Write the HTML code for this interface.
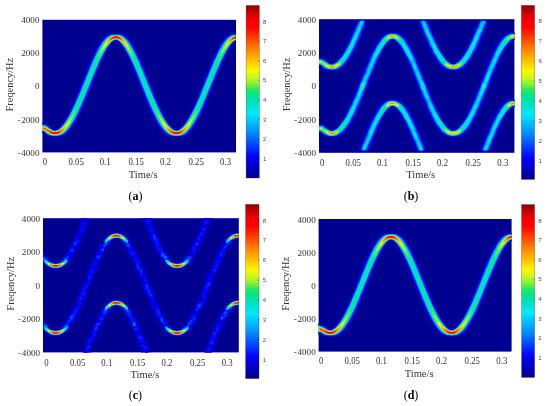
<!DOCTYPE html><html><head><meta charset="utf-8"><title>Figure</title><style>html,body{margin:0;padding:0;background:#fff}svg{display:block}text{font-family:"Liberation Serif",serif;fill:#333}.cb{font-family:"Liberation Sans",sans-serif;font-size:6px;fill:#4a4a4a}.tk{font-size:8.2px}.tx{font-size:8.8px}.ax{font-size:10.4px}.at{font-size:10.5px}.cap{font-size:12px;fill:#000}</style></head><body>
<svg width="550" height="406" viewBox="0 0 550 406">
<defs><linearGradient id="jet" x1="0" y1="0" x2="0" y2="1"><stop offset="0" stop-color="#8c0000"/><stop offset="0.04545" stop-color="#d00000"/><stop offset="0.09091" stop-color="#fa0000"/><stop offset="0.125" stop-color="#ff0000"/><stop offset="0.25" stop-color="#ff8000"/><stop offset="0.375" stop-color="#fff500"/><stop offset="0.4136" stop-color="#cdf819"/><stop offset="0.4568" stop-color="#7df037"/><stop offset="0.4852" stop-color="#28e862"/><stop offset="0.5136" stop-color="#05e682"/><stop offset="0.55" stop-color="#00e2ac"/><stop offset="0.5852" stop-color="#00e4d4"/><stop offset="0.625" stop-color="#00ebfa"/><stop offset="0.75" stop-color="#0080ff"/><stop offset="0.875" stop-color="#0000ff"/><stop offset="1" stop-color="#00008c"/></linearGradient></defs>
<rect width="550" height="406" fill="#fff"/>
<g>
<rect x="42.4" y="19.8" width="193.6" height="132.6" fill="#000090"/>
<g transform="scale(.1)">
<path fill="#0000b2" d="M424 1226l42 13 13 10 39 33 18 10 10 3 13-1 13-5 14-10 20-20 20-26 26-43 27-49 27-55 53-124 105-269 43-104 46-99 20-37 21-33 21-30 20-23 20-17 20-12 14-5 16-2 54 3 50-3 20 3 13 5 17 9 13 11 15 14 17 20 33 50 34 63 40 87 39 96 119 301 40 92 33 69 40 69 20 29 17 20 19 17 13 6 14 3 14-3 13-6 13-11 17-19 13-17 34-52 36-71 30-65 33-78 109-277 39-97 41-89 40-74 20-30 20-26 18-19 20-15 17-9 20-5 20-1 28 2 0 80-12 6-10 10-26 34-30 50-30 60-57 132-129 328-29 70-30 63-37 70-21 33-19 27-16 20-19 19-20 16-16 10-20 7-24 4-50-1-46 1-27-3-27-12-20-13-23-22-25-30-27-40-23-40-27-53-27-56-52-127-112-286-34-79-30-65-30-56-30-45-23-25-11-7-12-3-10 1-10 5-12 10-15 17-27 39-30 55-26 56-34 77-128 326-56 133-30 60-27 50-30 47-27 33-21 21-20 15-20 10-17 5-23 2-44-1-36 1-14-1-13-3-10-4-13-9-30-34-4 1-6 16-2 0z"/>
<path fill="#0000cc" d="M424 1230l32 10 10 5 50 41 17 10 13 3 13-1 15-6 14-10 18-17 23-29 27-42 26-48 27-54 57-129 108-274 40-96 44-93 19-37 20-33 24-34 21-23 20-18 20-11 17-6 13-1 47 1 43-1 17 2 16 6 17 9 13 11 16 15 17 20 29 43 37 67 37 79 43 104 118 297 40 91 37 74 23 42 20 31 20 27 19 21 16 13 15 8 17 2 13-3 16-10 11-10 30-34 33-51 36-69 30-64 37-85 109-274 42-103 40-86 37-67 17-27 20-26 19-20 19-16 17-10 20-6 17-2 28 2 0 71-9 4-12 10-27 32-30 48-34 65-26 58-30 71-135 339-34 77-27 56-40 73-36 54-18 20-17 17-20 15-16 9-20 7-24 3-80 0-26-4-24-9-23-16-24-22-28-34-26-40-23-40-24-46-26-57-51-120-115-289-33-78-30-64-33-61-30-44-14-16-12-11-10-6-11-4-10 0-10 4-14 10-13 13-30 41-33 58-30 62-33 76-128 323-58 133-29 60-30 53-26 40-27 33-19 20-20 15-20 11-16 6-27 3-80-1-17-3-13-5-13-9-27-30-3-2-4 1-3 4-3 10-2 0z"/>
<path fill="#0000e5" d="M424 1328l0-95 38 14 10 6 49 39 14 7 14 3 17-3 13-7 9-6 21-20 23-30 20-30 27-46 23-45 27-56 50-117 125-313 37-83 33-66 19-34 20-30 18-23 19-20 19-16 16-9 20-6 17-2 77 0 13 2 17 5 20 11 16 14 20 21 18 23 18 27 23 40 44 90 42 100 95 239 40 97 40 88 37 72 23 39 20 30 20 25 19 19 18 13 13 5 17 1 15-5 15-10 14-14 33-39 30-47 36-69 33-71 34-78 108-272 41-97 37-79 35-67 19-30 20-27 20-21 20-17 16-10 20-6 17-2 25 0 0 66-8 4-17 13-27 32-30 48-33 63-30 65-33 79-132 329-29 67-31 63-36 67-36 53-17 20-19 19-17 14-16 10-24 9-23 3-70 0-30-4-23-10-24-15-26-26-24-30-25-37-23-40-24-46-27-57-49-116-118-296-34-77-30-63-33-60-30-44-14-17-15-13-11-7-13-3-10 2-11 5-13 10-16 17-30 42-37 65-30 62-33 77-125 313-50 117-28 56-26 50-23 37-26 36-27 30-25 21-27 14-26 6-67 2-27-3-16-5-17-10-33-33-4 1-6 13z"/>
<path fill="#0000ff" d="M424 1325l0-89 15 7 23 7 56 42 14 8 17 4 10-1 10-3 18-11 22-20 27-34 23-35 23-40 24-45 26-56 50-116 129-320 36-80 34-67 19-33 20-30 16-20 19-20 17-13 17-10 20-6 20-2 66 1 17 2 17 6 16 10 20 17 17 18 21 27 17 27 21 36 42 87 44 103 92 229 40 97 40 89 36 72 24 40 20 30 20 26 22 23 18 14 16 6 17 1 13-4 11-7 17-13 16-17 16-20 37-57 36-68 34-70 33-78 108-270 41-96 40-87 36-66 20-30 18-24 18-20 19-15 17-10 16-6 20-3 22 0 0 62-12 6-12 10-14 15-17 21-30 47-33 63-30 65-34 78-131 327-34 77-29 60-37 66-34 50-17 20-18 17-16 13-17 10-20 8-26 5-64 0-30-5-23-9-27-19-24-23-24-30-24-37-23-40-49-100-47-110-122-303-33-76-30-63-34-60-33-48-15-16-15-13-13-7-10-2-11 2-14 7-12 10-13 13-17 22-17 25-33 58-33 68-34 76-124 311-50 116-28 57-26 50-27 43-24 33-24 27-26 22-27 14-27 6-60 1-26-2-17-5-17-9-13-11-23-23-4 1-6 12z"/>
<path fill="#001cff" d="M424 1323l0-85 15 7 13 3 14 6 39 32 21 13 10 4 13 2 18-3 23-13 22-21 24-29 26-40 24-40 50-101 50-115 127-317 38-83 34-67 35-56 21-27 18-18 16-14 20-10 20-6 17-1 63 1 17 3 17 7 18 11 18 16 19 21 17 23 19 30 20 37 41 83 43 100 91 229 40 96 40 89 40 78 24 39 20 29 23 30 20 20 20 13 13 5 17 1 16-6 16-10 15-13 33-40 33-52 37-68 33-70 33-77 109-270 40-96 39-83 34-64 19-30 20-26 18-20 18-15 17-11 16-6 17-3 25-1 0 58-9 4-16 12-14 15-16 20-30 46-37 69-30 64-33 77-135 334-34 76-29 60-36 63-35 50-32 34-15 12-17 10-23 9-27 3-57 0-30-5-23-10-23-17-26-26-24-30-22-33-23-40-24-46-27-57-50-117-118-293-33-76-30-61-37-66-33-47-16-16-12-10-12-7-13-3-14 2-13 7-12 11-15 15-30 41-36 63-30 61-37 83-125 310-50 116-26 54-26 49-24 40-27 37-27 30-25 20-26 14-27 6-53 2-30-3-20-7-14-7-36-33-4 0-6 12z"/>
<path fill="#0039ff" d="M424 1320l0-81 15 9 13 2 10 5 45 34 16 10 16 6 13 2 18-5 22-13 24-23 23-29 23-34 24-40 26-50 27-56 53-124 125-307 37-83 32-63 18-30 20-30 18-24 19-20 18-13 16-10 20-6 20-1 60 1 17 3 13 6 20 12 17 15 18 20 17 23 19 30 21 37 40 83 43 100 129 317 43 95 40 78 23 39 23 34 22 27 20 20 19 13 17 7 18 0 17-7 15-10 15-13 31-37 36-56 37-68 30-63 37-84 108-269 41-96 38-83 35-64 19-30 17-23 18-20 17-15 17-11 16-7 17-3 25-1 0 55-12 5-13 10-13 14-17 20-33 51-37 68-30 64-33 77-135 333-34 76-30 60-35 63-33 47-18 20-15 15-17 13-16 10-20 8-27 4-53 0-30-5-24-10-26-19-25-26-24-30-24-37-22-40-48-96-45-107-119-294-33-76-34-69-36-65-34-47-16-18-14-11-13-8-13-3-10 2-15 6-13 10-16 17-16 20-20 30-34 58-33 68-33 75-125 309-50 116-26 54-27 49-24 40-26 37-25 28-27 22-23 12-30 7-50 1-30-3-17-5-17-9-36-33-4 1-6 10z"/>
<path fill="#0055ff" d="M424 1318l0-77 12 8 16 3 10 5 59 42 15 7 16 2 10-2 11-4 21-13 24-23 24-30 27-41 23-40 50-100 54-123 125-309 36-80 34-67 20-33 18-27 19-23 17-17 20-15 17-8 20-5 20-1 50 1 17 3 16 7 18 12 19 16 17 20 17 24 38 63 40 83 43 100 92 227 40 96 40 88 40 77 23 39 23 35 20 25 23 23 18 13 16 7 17 2 18-6 17-10 15-13 33-38 36-55 37-67 33-69 37-84 112-277 37-86 37-80 36-67 19-30 18-23 18-20 16-14 17-11 17-7 16-3 22-1 0 53-14 6-13 10-16 17-15 19-34 51-33 62-30 63-33 76-142 349-30 66-30 60-34 60-32 47-17 20-15 15-17 13-16 11-24 9-26 4-50-1-30-5-24-11-23-17-25-25-24-30-19-30-24-40-24-46-25-54-47-110-122-300-37-82-30-61-36-64-33-46-16-16-16-14-13-6-12-3-14 2-13 7-13 10-16 17-18 22-16 25-37 63-30 61-37 82-124 307-50 116-28 57-27 50-22 36-27 37-25 28-26 21-27 13-27 6-46 1-30-4-17-5-17-10-36-31-4 0-6 10z"/>
<path fill="#0072ff" d="M424 1317l0-75 2 0 10 9 16 3 10 4 57 42 13 6 17 3 20-3 23-14 22-20 25-30 27-38 26-45 27-51 27-55 53-123 125-307 36-80 34-67 20-33 18-27 19-23 18-17 20-14 16-8 20-5 20-1 34 0 16 2 17 4 13 6 17 12 16 14 18 20 17 24 38 63 39 80 43 100 92 228 40 96 44 94 40 77 23 38 23 34 24 29 21 20 20 13 15 6 17 0 18-6 16-10 15-13 18-19 16-21 37-55 36-67 34-69 36-84 109-268 39-93 38-80 36-67 17-26 17-24 18-20 16-15 17-11 17-7 16-4 22-1 0 51-12 4-16 13-17 17-20 27-20 29-20 34-40 78-57 129-128 316-33 73-33 67-35 60-33 46-31 32-13 10-17 10-26 10-27 3-43-1-30-6-24-11-22-17-23-23-24-30-22-33-21-37-22-43-27-57-48-110-121-298-33-75-33-68-37-64-17-25-18-23-15-16-16-14-14-7-13-3-14 2-13 7-14 11-17 17-16 20-20 29-36 63-34 68-33 75-125 308-49 113-28 57-26 50-23 36-24 34-27 30-24 20-24 12-16 5-14 3-43 1-30-3-17-6-16-8-40-33-4 0-6 10z"/>
<path fill="#008cfe" d="M424 1315l0-71 2 0 10 10 13 1 13 5 44 32 16 10 17 7 13 1 19-4 22-14 25-23 25-30 25-37 24-39 27-50 27-55 53-122 132-323 36-80 34-63 20-34 17-23 16-20 18-17 20-14 17-8 16-4 24-1 26 0 20 2 14 4 16 8 17 11 17 16 17 20 17 23 37 63 38 77 43 100 91 226 40 95 43 95 41 77 26 43 23 33 23 27 20 20 20 13 18 7 18 0 18-6 15-11 16-13 16-17 20-25 36-55 37-67 33-69 37-84 112-276 37-87 35-76 34-63 19-30 18-24 18-20 15-13 15-11 17-7 16-4 22-2 0 49-13 5-17 13-16 17-19 23-20 30-20 34-43 83-57 129-128 314-34 77-33 66-33 57-34 46-31 32-13 10-17 10-27 9-26 3-40-1-30-7-24-11-23-18-22-23-23-30-20-30-23-40-48-97-46-106-121-300-34-75-33-67-37-65-20-29-16-21-15-16-16-14-16-8-13-3-14 2-13 7-16 12-16 17-18 22-17 25-37 63-33 65-36 82-125 306-50 117-26 53-27 50-25 40-22 30-27 30-25 20-23 12-30 7-43 1-30-4-14-5-16-9-40-32-4 0-6 9z"/>
<path fill="#00a4fd" d="M424 1313l0-68 2 0 10 11 13 0 13 6 42 30 16 10 16 7 16 2 10-1 12-4 21-14 22-20 25-30 24-33 26-43 27-50 30-61 54-122 130-320 37-80 31-60 20-33 19-27 17-20 18-18 18-12 19-8 17-4 23-1 40 2 17 4 16 9 17 11 14 14 17 20 17 23 38 63 39 80 40 93 91 227 41 96 43 94 40 77 26 43 23 33 25 30 21 20 19 13 16 7 17 2 20-6 16-9 16-14 16-16 19-24 37-53 39-70 34-70 37-83 113-280 37-87 37-79 33-60 34-50 17-20 18-16 16-12 17-7 17-4 18-1 0 46-15 7-17 13-19 20-18 24-20 30-19 32-41 77-57 130-131 320-36 80-30 60-33 57-31 43-31 33-17 12-13 8-23 9-30 4-40-1-27-6-23-11-24-18-23-23-23-30-22-34-21-36-46-93-46-107-122-300-36-80-33-67-38-66-19-27-18-23-16-17-17-13-14-7-12-2-14 2-14 7-17 13-16 17-16 20-20 28-37 63-33 67-37 82-125 306-49 114-27 56-24 43-26 44-22 30-24 26-26 22-26 13-30 7-40 1-30-5-17-6-13-7-38-31-6-1-6 8z"/>
<path fill="#00bbfc" d="M424 1312l0-66 2 0 10 12 13 0 13 5 40 29 17 11 17 7 16 2 14-2 10-4 21-14 25-23 25-30 25-37 26-43 29-53 27-57 52-120 128-313 37-80 33-63 20-33 19-27 16-20 20-18 18-12 18-8 17-3 23-1 24 0 16 3 14 4 16 8 17 13 15 14 16 20 17 23 33 57 40 80 40 93 91 227 43 100 44 96 41 77 24 40 23 33 22 27 24 23 20 14 20 8 17 0 18-5 16-10 16-14 17-16 19-24 38-56 39-70 34-70 37-83 114-280 37-87 37-80 33-60 32-46 18-20 15-14 16-12 14-6 16-5 22-2 0 45-12 4-17 13-20 20-19 23-39 60-42 80-28 60-33 77-131 320-36 80-30 59-33 57-29 40-29 31-13 10-17 10-23 10-27 4-37-1-30-5-23-11-23-17-21-21-24-30-20-30-23-40-47-93-46-107-122-300-36-80-35-70-38-66-19-27-19-23-16-17-17-13-14-7-13-3-14 2-15 8-17 13-16 17-35 47-40 66-35 70-35 80-126 307-49 113-26 53-25 47-22 36-25 34-24 26-26 22-27 13-30 6-36 1-27-4-17-6-16-9-37-30-7-1-6 8z"/>
<path fill="#00d3fb" d="M424 1310l0-62 2 0 6 9 4 2 13 0 13 6 43 31 17 10 17 6 13 1 10-2 14-4 22-15 25-23 25-30 26-37 26-43 27-50 29-60 54-123 129-315 36-78 33-63 18-30 19-27 17-20 18-17 15-11 17-7 17-5 26-1 24 0 20 4 20 8 16 12 19 17 17 20 19 27 18 30 32 60 36 79 128 314 50 113 49 100 25 43 21 33 21 30 20 24 20 20 17 13 18 10 15 3 15 0 17-6 16-10 16-14 19-20 19-23 38-56 39-70 34-70 37-84 115-282 36-84 36-77 31-56 17-27 17-23 16-20 16-14 14-10 17-8 17-4 18-2 0 43-13 5-18 13-20 20-19 23-39 60-44 83-59 134-133 324-33 72-31 63-31 54-32 43-29 31-14 11-16 10-27 9-27 3-36-1-27-7-23-12-20-15-22-22-23-30-20-30-23-40-46-93-43-101-122-299-36-80-35-70-41-70-18-27-19-23-16-17-17-13-16-8-13-3-14 2-16 8-18 14-16 17-19 23-18 27-38 63-33 67-39 86-126 308-49 112-26 54-23 43-23 36-24 34-25 27-26 21-27 13-27 5-36 1-30-5-17-7-13-7-37-30-7-1-6 7z"/>
<path fill="#00ebfa" d="M424 1309l0-60 2 0 6 10 4 2 13-1 13 6 42 30 16 10 19 6 13 2 21-5 23-13 26-24 28-33 28-40 26-43 27-50 29-60 57-130 125-307 37-79 31-60 18-30 19-27 17-20 18-17 17-11 16-7 20-4 24-2 23 2 17 3 16 7 19 12 18 17 19 23 19 27 18 30 31 60 36 80 123 300 49 113 50 103 23 40 25 40 21 30 19 23 20 20 20 17 19 10 15 4 16-1 19-6 16-10 19-17 35-40 38-56 41-74 34-70 40-90 111-274 37-86 34-73 31-56 17-27 17-23 14-17 17-16 16-11 14-7 17-4 18-2 0 41-14 6-18 13-20 20-19 23-19 27-21 33-42 80-30 63-33 77-136 330-33 73-28 57-34 56-30 40-29 30-15 11-14 8-26 9-27 2-33-1-27-7-22-12-21-16-22-24-21-26-22-34-21-36-44-91-44-101-121-298-38-83-35-70-41-70-19-27-19-23-16-17-17-14-17-8-13-2-14 1-16 8-15 12-20 20-19 23-19 27-39 66-36 70-37 84-125 306-50 114-26 53-23 43-23 37-22 30-26 28-27 21-26 12-27 5-33 0-27-4-17-6-13-8-40-31-7-1-6 7z"/>
<path fill="#00e6df" d="M424 1308l0-58 2 0 6 11 4 1 13 0 10 4 43 30 17 10 17 6 16 2 10-1 13-4 22-13 26-24 29-33 25-37 27-43 29-53 31-63 60-137 125-306 33-73 30-57 19-30 18-27 17-20 19-17 17-11 17-7 16-4 24-1 23 2 17 3 16 8 17 11 18 16 17 20 18 27 21 33 29 57 34 73 125 306 50 117 50 100 24 43 23 37 23 33 23 27 20 20 22 16 16 9 17 3 17-1 16-7 16-10 19-17 19-20 19-23 38-57 41-73 36-73 37-84 148-362 34-71 30-56 31-47 17-20 15-14 17-12 13-6 17-5 18-2 0 39-16 7-18 13-20 20-19 23-40 60-44 83-33 70-33 77-132 322-33 73-30 58-29 50-29 40-29 30-13 11-17 9-23 9-27 4-33-2-27-6-22-12-22-16-22-24-21-26-19-30-21-37-46-93-43-100-118-290-41-90-37-73-39-67-21-30-19-23-20-20-15-12-17-8-13-2-14 2-15 7-18 13-17 17-19 23-19 27-42 69-38 74-40 90-125 305-46 107-24 48-25 46-22 37-22 30-24 26-27 21-23 12-30 6-33 0-27-4-17-7-13-7-40-31-7-1-6 7z"/>
<path fill="#00e3c2" d="M424 1306l0-54 2 0 6 10 4 2 13-1 10 4 41 29 19 11 17 6 16 2 14-2 10-3 23-14 26-24 28-33 28-40 29-46 30-57 30-60 57-130 125-307 33-74 30-55 18-30 18-27 18-20 16-16 17-11 17-7 16-4 24-1 23 2 17 4 16 7 17 12 19 17 16 20 16 24 19 31 30 57 33 74 119 291 53 123 51 103 26 47 23 36 23 34 22 26 20 20 20 17 17 10 20 6 16-1 17-5 17-10 19-17 20-20 19-23 39-56 41-74 40-80 40-90 115-282 33-79 33-71 28-51 32-46 15-17 14-13 13-10 15-8 17-5 18-3 0 38-17 8-18 13-20 20-19 23-22 30-21 34-43 79-30 64-36 83-136 331-30 66-30 59-29 50-30 40-27 28-13 10-16 9-24 9-27 3-30-1-27-7-20-11-22-16-22-24-21-26-19-30-19-34-43-87-40-92-126-307-39-87-37-73-20-36-24-37-19-27-19-23-20-20-16-13-15-7-15-3-17 3-13 7-18 13-20 20-19 23-22 30-39 67-38 73-39 87-41 96-84 210-47 108-23 48-24 44-23 37-21 30-25 27-27 21-23 11-30 6-30 0-27-5-13-5-17-9-40-30-7-2z"/>
<path fill="#01e3a2" d="M424 1305l0-52 2 0 6 11 17 0 10 4 45 31 18 10 17 6 17 1 10-2 13-5 25-17 25-23 29-33 25-37 31-50 31-56 32-67 63-143 119-293 30-66 30-58 18-30 17-23 17-20 14-14 17-11 17-8 20-4 20-1 23 1 17 5 16 7 16 12 17 16 17 20 16 24 18 30 30 57 30 66 111 276 61 140 29 60 27 54 27 46 23 37 24 33 19 23 20 20 22 18 20 11 17 4 16 0 17-6 17-10 21-17 20-20 19-23 41-60 44-76 36-74 43-96 40-97 79-196 30-71 30-63 27-50 31-46 15-17 14-13 14-10 15-8 14-4 18-3 0 36-15 6-20 14-19 19-22 26-24 34-21 33-45 83-38 80-36 83-128 317-30 66-27 52-28 48-30 40-26 27-16 12-13 7-23 9-27 3-30-1-25-7-22-11-20-15-22-24-21-26-19-30-21-37-40-82-40-94-115-284-43-96-41-80-43-73-19-27-21-27-20-20-18-14-17-9-16-4-17 3-15 8-18 13-20 20-19 23-19 27-24 37-22 39-41 80-44 97-121 300-43 99-24 48-23 43-21 33-19 27-25 26-25 20-27 13-26 5-30 0-27-5-14-6-16-8-40-30-7-1z"/>
<path fill="#05e682" d="M424 1303l0-48 2 0 6 10 17 1 9 3 44 30 20 11 24 6 20-1 21-9 23-17 24-23 23-27 31-43 32-53 35-64 39-80 67-150 74-194 30-73 30-67 27-51 17-28 17-23 17-20 16-15 16-11 17-7 17-3 20-2 20 2 16 4 17 7 17 12 14 13 17 20 19 27 16 27 27 52 30 66 30 74 68 177 54 123 32 70 34 67 33 60 28 43 23 33 25 30 23 24 20 15 20 11 17 4 16 0 19-7 17-10 20-17 20-20 22-26 44-63 46-84 46-93 54-120 30-73 59-153 36-89 27-57 27-49 30-45 15-17 14-13 14-10 13-7 17-5 15-2 0 35-18 7-20 15-20 20-22 27-24 33-23 37-47 86-46 97-40 90-82 209-36 89-27 59-27 52-26 44-27 36-26 27-27 18-23 9-27 3-30-1-23-6-20-10-22-16-22-24-20-26-36-59-37-75-40-94-72-185-30-74-53-116-47-94-46-76-21-30-22-27-19-20-20-15-17-9-16-3-17 2-17 9-17 13-20 20-20 23-24 34-44 73-49 96-54 117-30 73-75 194-40 93-23 49-20 37-23 37-19 27-25 26-26 20-24 12-30 5-30 0-23-5-17-7-13-8-40-29-7-1z"/>
<path fill="#27e863" d="M948 646l1-8 10-29 36-87 30-59 28-43 25-30 25-20 12-6 14-5 30-3 30 4 24 10 25 20 25 30 26 40 30 58 33 78 17 50 0 2-7-9-68-119-25-37-22-30-23-27-25-22-20-12-10-3-10-1-10 1-10 3-20 11-23 20-24 27-25 33-23 33-27 47-42 74-6 10zM2360 357l0 33-17 6-21 16-22 21-22 27-24 33-24 37-58 103-10 15 0-6 10-30 33-81 30-60 27-44 24-31 22-20 24-13 13-4zM790 1026l-1 9-30 78-27 59-23 46-21 34-21 30-20 24-21 19-20 12-24 9-23 3-27-1-20-4-20-8-20-12-33-25-7-1-8 4 0-46 2 0 6 10 14 1 10 2 53 35 13 7 15 5 15 1 17-3 17-7 17-11 20-17 19-20 22-27 19-26 40-63 59-107zM1525 1026l0-2 7 9 45 83 34 57 27 39 25 34 27 30 27 23 25 14 13 3 10 1 10-1 14-4 24-13 27-23 27-30 23-30 27-40 30-50 51-94 7-8 0 2-7 22-16 44-34 76-30 58-32 50-28 33-15 13-15 10-13 7-16 6-17 3-17 1-16-1-17-3-17-6-13-7-15-10-15-13-28-33-32-50-30-57-33-76-17-43z"/>
<path fill="#78f039" d="M981 573l8-27 26-59 27-47 23-34 22-23 22-15 23-9 27-2 26 3 24 9 20 14 22 23 23 34 25 43 23 51 14 39-1 3-6-7-60-89-23-30-18-20-17-17-19-14-17-9-16-3-17 3-17 8-20 14-18 18-33 40-24 33-41 64-7 8zM2360 358l0 31-15 5-17 11-16 15-20 20-39 50-48 73-10 13 0-7 7-20 23-53 27-50 22-33 20-23 21-17 20-10zM756 1102l-7 23-20 47-20 41-20 35-19 28-19 23-20 20-19 13-20 10-20 5-23 1-23-2-20-5-17-8-50-35-7-1-8 3 0-42 2 0 3 7 3 3 14 0 10 3 50 32 26 12 14 3 13-1 17-4 14-7 16-11 18-16 37-40 36-50 52-81zM1561 1106l1-4 3 4 45 70 30 43 21 27 21 23 21 20 23 17 19 9 20 3 20-4 19-8 23-17 21-20 18-20 24-30 30-43 42-66 6-8 1 4-4 13-13 34-27 55-27 48-27 36-26 27-25 17-25 9-30 3-30-3-25-9-25-17-26-27-27-36-27-47-30-63z"/>
<path fill="#aef525" d="M1004 526l11-32 20-40 20-31 21-27 17-16 22-14 20-6 24-2 23 2 19 6 21 13 18 17 21 27 21 34 20 40 10 29 0 4-7-6-51-68-21-23-17-17-16-13-15-9-13-6-13-2-14 2-13 5-16 10-16 13-35 37-60 77zM2360 358l0 30-12 4-13 8-18 13-14 13-30 34-45 60-10 10 0-7 4-11 20-43 20-36 22-30 19-20 19-13 20-9zM729 1153l0 6-17 41-20 38-20 31-17 23-19 20-16 14-18 10-16 7-20 4-24 0-20-2-16-5-17-8-50-35-7-1-8 3 0-39 2 0 3 7 3 2 14 0 10 3 50 32 23 11 13 3 14 1 13-3 13-5 29-19 31-30 29-33 51-70zM1587 1156l2-3 61 83 24 26 20 20 20 17 18 11 17 6 16 3 17-3 17-6 17-11 20-17 20-20 24-26 62-83 1 3-1 7-10 25-24 46-24 38-24 30-22 20-23 15-23 8-27 2-26-2-24-8-23-15-22-20-24-30-24-38-23-45z"/>
<path fill="#dbf712" d="M1022 496l7-22 16-31 17-27 19-23 19-17 17-10 18-6 20-2 21 2 19 5 20 11 17 14 20 23 17 26 16 31 9 23 0 3-2 1-50-57-33-32-27-17-13-4-10-1-10 1-14 4-13 7-16 12-32 30-49 56-3 1zM2360 359l0 29-18 6-26 19-31 30-47 54-2-1 6-20 13-27 19-29 18-24 17-16 15-10 18-8zM709 1189l0 6-3 9-14 28-16 29-18 25-17 20-14 13-18 13-17 8-16 4-20 3-20-1-17-3-17-6-15-8-48-33-7-1-8 2 0-34 2 0 3 5 3 2 14 0 13 5 43 29 24 11 13 3 13 1 24-4 26-15 26-21 29-30 45-55zM1923 1192l-8 22-20 38-23 34-20 23-20 17-20 11-23 8-24 2-23-2-23-8-21-11-20-17-23-27-20-30-20-37-8-23 2-3 56 67 20 20 19 16 15 11 16 9 17 6 13 1 14-1 16-6 14-7 17-13 19-16 20-20 57-67z"/>
<path fill="#fff500" d="M1037 470l5-16 13-24 17-24 18-20 17-13 15-8 17-4 20-2 20 2 16 5 14 7 17 13 16 17 16 23 14 24 7 20 0 3-7-4-41-43-28-23-24-14-20-4-20 4-24 12-30 25-46 47zM2360 360l0 27-18 7-24 16-22 20-38 38-7 5 1-8 13-28 16-24 16-20 15-13 15-10 16-7zM692 1217l0 4-3 9-13 26-15 23-16 20-13 13-16 14-17 10-17 6-16 3-17 1-17-1-16-4-27-12-50-33-7-2-8 1 0-29 2 0 2 3 4 2 14 0 10 4 46 30 24 11 23 4 20-2 23-11 26-18 26-23 42-45zM1624 1219l1-2 4 2 50 53 32 27 28 16 13 4 13 1 14-1 13-5 27-15 32-27 51-53 3-2 1 2-7 20-18 30-19 27-20 20-17 13-20 10-20 5-20 2-20-2-20-5-20-10-17-13-20-20-20-27-16-28-7-15z"/>
<path fill="#ffdb00" d="M1050 450l5-15 14-22 16-20 15-13 12-9 13-6 17-4 17-1 16 1 17 5 15 7 13 10 14 13 15 20 10 17 7 17-1 4-6-4-41-37-23-16-20-10-16-3-20 4-18 8-27 20-39 35-5 2zM2360 361l0 25-15 5-20 12-21 17-32 29-8 4 1-7 14-26 12-17 15-17 12-10 14-8 14-5zM677 1242l-5 14-10 17-14 19-15 17-15 13-15 10-15 7-12 4-17 2-17 0-16-2-14-4-26-13-44-30-6-2-12-1 0-24 8 3 14 1 13 5 40 26 20 10 23 6 20 0 20-7 24-13 22-18 44-41 5-2zM1638 1242l1-3 6 3 43 40 31 23 23 12 23 4 24-4 26-14 31-24 39-37 7-3-6 17-14 23-18 23-18 17-17 13-17 7-17 5-20 1-20-1-17-5-16-7-18-13-18-17-14-17-16-26z"/>
<path fill="#ffc100" d="M1061 436l5-13 11-17 11-13 14-13 13-9 14-6 13-3 17-1 16 1 14 3 13 6 12 9 14 13 11 13 13 20 3 10-3 2-36-28-24-17-17-7-16-2-17 2-20 8-20 14-33 27-7 3zM2360 361l0 24-12 4-16 8-18 13-36 27-3 0 3-11 10-16 11-14 13-13 13-10 10-5 13-5zM665 1259l-6 13-13 20-26 27-14 10-12 7-15 5-13 3-27 0-27-6-24-12-46-31-18-5 0-16 22 0 12 5 38 24 23 12 20 6 20 0 17-4 20-9 22-16 44-35zM1651 1259l1-2 7 3 39 32 27 18 20 9 20 3 20-4 20-8 30-20 37-31 6-2 1 2-7 15-12 18-15 17-15 13-15 10-16 7-17 4-17 1-20-1-14-4-16-7-15-10-15-13-15-17-11-17z"/>
<path fill="#ffa700" d="M1071 423l4-10 9-13 12-14 13-10 11-6 12-5 13-3 14-1 13 1 13 3 22 11 13 10 12 14 9 13 4 10-3 2-37-25-16-9-17-7-13-1-14 1-16 6-20 11-30 22-7 2zM2360 362l0 22-12 4-13 6-47 31-3-2 4-10 9-13 20-20 20-12zM653 1272l-4 10-12 17-12 13-16 14-11 6-15 7-27 5-27-2-27-9-17-11-36-24-10-5-10-2-2-2-1-7 0-3 3-3 10-2 9 2 64 37 20 7 20 2 17-2 23-9 19-12 38-27zM1663 1272l2-1 4 2 33 24 27 16 20 7 16 2 17-2 23-9 24-14 33-25 3-1 2 1-4 10-11 17-13 13-16 14-11 7-16 6-14 3-17 2-16-1-15-4-15-6-12-7-16-14-13-13-13-20z"/>
<path fill="#ff8d00" d="M1081 413l4-10 8-10 18-17 21-10 13-3 14-1 13 1 13 3 20 10 18 17 8 10 5 10-4 1-47-26-13-4-13-2-14 1-13 5-20 10-23 14-7 3zM2360 363l0 21-22 7-36 22-7 1 0-4 6-10 19-20 18-11zM427 1282l2-4 3-2 14 1 66 37 20 7 17 2 17-1 16-6 24-12 33-20 3 2-5 10-11 13-10 10-14 10-23 10-16 3-14 1-23-3-22-8-17-10-35-24-13-6-10-3zM1674 1286l1-3 7 3 33 21 20 10 14 4 16 2 17-2 13-4 20-10 34-21 6-2 1 2-5 10-11 13-10 10-14 10-23 10-28 4-13-1-15-3-23-10-14-10-10-10-11-13z"/>
<path fill="#ff7200" d="M1090 403l3-7 8-10 18-13 16-7 24-3 23 3 15 7 18 13 8 10 3 7-1 3-3-1-37-18-16-5-10-1-10 1-14 3-43 21zM2360 364l0 19-18 5-37 18-1-3 3-7 16-16 16-10zM429 1282l3-4 7-1 7 1 63 36 20 7 17 3 13 0 17-4 20-9 33-17 3 2-6 10-9 10-13 10-11 6-21 8-26 2-21-3-18-7-17-10-34-24-14-6-10-4-3-2zM1684 1296l1-2 7 2 27 15 16 7 14 4 16 2 17-2 13-4 44-23 6-1 1 2-4 6-8 10-21 17-23 10-25 3-25-3-23-10-21-17-8-10z"/>
<path fill="#ff5500" d="M1098 396l10-13 13-10 17-7 21-2 20 2 16 7 13 10 10 13-3 2-33-13-23-5-24 4-33 14-3 0zM2360 365l0 17-15 4-30 12-3-2 6-10 12-10 12-6zM431 1282l5-3 7 0 56 32 23 9 17 4 13 1 14-2 20-6 33-15 2 0 0 4-4 6-11 10-9 7-14 7-21 5-23 0-20-5-16-7-44-32-27-11zM1695 1302l4 1 40 17 13 4 13 1 14-1 13-4 40-17 4-1-1 4-7 10-17 13-14 7-11 3-21 2-21-2-11-3-14-7-17-13-7-10z"/>
<path fill="#ff3900" d="M1106 390l8-10 17-10 11-4 17-1 15 1 18 7 13 10 5 7-1 2-4 0-30-10-16-3-17 2-33 11zM2360 366l0 15-38 11-2-2 2-4 11-10 12-6zM434 1282l5-1 6 1 4 4 1 3-15-3zM479 1306l3 0 40 15 24 5 23-2 40-14 3 2-9 10-15 10-21 7-21 1-24-4-16-7-19-13zM1704 1312l1-2 40 13 20 3 14-2 13-3 30-11 3 0 1 2-9 10-15 10-20 7-17 1-16-1-21-7-15-10z"/>
<path fill="#ff1c00" d="M1115 386l0-3 3-3 9-7 18-6 14-1 13 1 17 6 9 7 4 6-43-8-17 2-23 6zM2360 367l0 13-26 6-6 0 4-6 9-7zM494 1316l5-1 30 9 20 3 23-3 27-7 3 2-12 10-14 7-16 3-11 1-17-2-16-6-16-10zM1714 1319l1-3 30 8 20 3 20-3 30-8 1 3-7 7-11 6-16 6-17 1-16-1-17-6-11-6z"/>
<path fill="#ff0000" d="M1123 380l8-7 8-3 20-3 18 3 8 3 8 7-4 1-30-4-34 4zM2360 368l0 10-22 3-1-1 8-7zM507 1322l5 0 24 5 13 1 44-6-7 7-7 4-13 4-17 1-17-2-12-4-11-6zM1723 1322l42 6 42-6-2 4-11 6-12 4-17 2-16-2-13-4-11-6z"/>
<path fill="#fb0000" d="M1132 376l4-3 9-3 14-2 12 2 9 3 4 3zM2346 376l4-3 10-3 0 7zM520 1329l2-1 27 1 27-2 4 2-16 7-15 1-12-1zM1736 1329l3-2 26 2 27-2 2 2-16 7-13 1-13-1z"/>
<path fill="#e60000" d="M1145 373l14-2 11 2zM536 1332l29 0-13 2zM1751 1332l28 0-14 2z"/>
</g>
<rect x="246.1" y="5.5" width="13.2" height="172.5" fill="url(#jet)" stroke="#401010" stroke-opacity=".55" stroke-width=".5"/>
<text class="cb" x="263" y="161">1</text>
<path d="M259.3 159h-1.3" stroke="#222" stroke-width=".4"/>
<text class="cb" x="263" y="141.371">2</text>
<path d="M259.3 139.371h-1.3" stroke="#222" stroke-width=".4"/>
<text class="cb" x="263" y="121.743">3</text>
<path d="M259.3 119.743h-1.3" stroke="#222" stroke-width=".4"/>
<text class="cb" x="263" y="102.114">4</text>
<path d="M259.3 100.114h-1.3" stroke="#222" stroke-width=".4"/>
<text class="cb" x="263" y="82.4857">5</text>
<path d="M259.3 80.4857h-1.3" stroke="#222" stroke-width=".4"/>
<text class="cb" x="263" y="62.8571">6</text>
<path d="M259.3 60.8571h-1.3" stroke="#222" stroke-width=".4"/>
<text class="cb" x="263" y="43.2286">7</text>
<path d="M259.3 41.2286h-1.3" stroke="#222" stroke-width=".4"/>
<text class="cb" x="263" y="23.6">8</text>
<path d="M259.3 21.6h-1.3" stroke="#222" stroke-width=".4"/>
<text class="tk" text-anchor="end" transform="translate(39.5 23.1) scale(1.115 1)">4000</text>
<text class="tk" text-anchor="end" transform="translate(39.5 56.25) scale(1.115 1)">2000</text>
<text class="tk" text-anchor="end" transform="translate(39.5 89.4) scale(1.115 1)">0</text>
<text class="tk" text-anchor="end" transform="translate(39.5 122.55) scale(1.115 1)"><tspan letter-spacing="0.6">-</tspan>2000</text>
<text class="tk" text-anchor="end" transform="translate(39.5 155.7) scale(1.115 1)"><tspan letter-spacing="0.6">-</tspan>4000</text>
<text class="tx" text-anchor="middle" transform="translate(44.9 164.8) scale(1 1.08)">0</text>
<text class="tx" text-anchor="middle" transform="translate(76.1 164.8) scale(1 1.08)">0.05</text>
<text class="tx" text-anchor="middle" transform="translate(105.2 164.8) scale(1 1.08)">0.1</text>
<text class="tx" text-anchor="middle" transform="translate(136.1 164.8) scale(1 1.08)">0.15</text>
<text class="tx" text-anchor="middle" transform="translate(165.4 164.8) scale(1 1.08)">0.2</text>
<text class="tx" text-anchor="middle" transform="translate(196.1 164.8) scale(1 1.08)">0.25</text>
<text class="tx" text-anchor="middle" transform="translate(225.6 164.8) scale(1 1.08)">0.3</text>
<text class="at" text-anchor="middle" x="143.2" y="178">Time/s</text>
<text class="ax" text-anchor="middle" transform="translate(13.2 84.6) rotate(-90)">Freqency/Hz</text>
<text class="cap" text-anchor="middle" x="135.4" y="199.6">(<tspan font-weight="bold">a</tspan>)</text>
</g>
<g>
<rect x="319" y="19.2" width="195.4" height="133.6" fill="#000090"/>
<g transform="scale(.1)">
<path fill="#0000b2" d="M3673 207l4 7-30 80-54 130-29 66-33 63-30 50-21 27-32 37-23 19-20 12-30 9-23 3-64-1-23-3-20-7-10-7-33-35-4 0-3 4-3 9-2 0 0-99 2 0 3 6 3 3 4 0 10-5 6-2 14 3 13 9 41 35 20 10 12 1 14-2 12-6 18-13 20-23 23-30 20-32 20-38 30-60 33-76 39-97 18-40 9-7 8-4 26-4 44 1 13 3zM4176 214l3-7 10-5 16-2 24-1 20 1 20 3 10 4 9 7 47 117 44 100 26 56 14 23 40 63 23 29 16 15 9 6 15 7 10 1 9-1 11-4 11-6 16-13 26-31 34-51 27-48 23-50 53-124 26-66 10-23 11-8 10-4 17-2 43-1 17 3 11 5 4 7-64 163-53 120-37 70-24 36-29 40-35 35-24 16-16 8-14 4-20 3-70 1-23-2-23-6-17-7-23-16-17-13-18-19-38-54-19-30-30-56-37-77-18-50-19-40zM3190 1235l2 0 6 9 4 0 16-7 7 1 7 3 52 42 18 10 12 3 14-1 14-5 18-14 15-15 17-21 33-51 53-105 47-107 51-134 42-103 22-60 54-130 23-50 26-50 24-40 22-30 18-20 28-22 17-9 13-5 17-2 47 2 46-2 17 3 17 7 16 10 14 12 31 36 37 57 43 83 12 31 36 82 49 127 12 33 12 27 34 94 37 89 50 110 37 69 33 51 19 23 14 14 14 10 16 6 12 0 12-3 17-10 16-13 27-33 30-46 33-64 40-86 24-55 124-323 50-120 19-36 11-27 20-36 26-40 25-34 20-20 15-11 20-10 20-6 23-1 35 1 0 78-15 2-13 7-14 13-16 20-27 41-47 92-50 118-14 39-12 28-42 116-35 83-39 100-39 87-23 46-24 43-23 37-17 23-17 20-24 24-14 11-20 11-30 9-30 3-74-1-33-8-20-10-27-21-19-21-32-40-37-63-22-46-15-27-11-29-16-31-31-80-15-34-50-130-28-79-60-145-24-50-26-54-24-40-16-24-14-17-11-10-15-10-10-4-10 1-13 6-24 22-20 28-33 57-54 115-93 235-41 109-78 184-40 76-34 50-22 30-12 12-27 23-20 13-20 7-30 5-60 1-20-1-20-5-13-5-13-9-30-33-4 0-3 4-3 9-2 0zM3584 1500l6-20 14-37 11-27 54-140 23-46 15-37 36-73 39-60 17-20 20-19 16-13 10-6 20-7 20-3 40 3 44-2 13 1 13 4 20 10 14 9 27 26 19 24 39 63 26 50 34 76 15 39 14 31 26 71 21 53 18 50-3 6-10 5-16 3-24 1-20-1-16-2-10-4-12-8-4-7-68-173-20-47-20-43-33-66-23-39-25-32-21-16-8-4-10-1-8 1-8 4-13 10-11 10-20 26-33 55-27 53-40 92-69 177-9 6-12 5-17 3-26 1-34-3-10-5zM5144 994l0 78-15 2-12 6-8 7-27 32-26 41-40 79-77 185-27 72-7 7-9 6-20 5-47 0-13-1-10-3-6-7-1-7 28-76 15-37 12-33 27-67 54-120 25-46 32-50 18-24 15-16 14-12 23-13 17-6 17-3z"/>
<path fill="#0000cc" d="M3666 210l2 4-27 73-16 35-8 25-31 73-32 70-31 60-30 50-35 43-19 20-24 20-17 9-30 10-30 3-46-1-27-4-13-5-14-7-36-36-4 1-3 3-3 8-2 0 0-87 2 0 6 7 17-4 13 2 17 10 43 35 14 6 16 3 15-3 14-6 18-14 20-23 23-29 24-37 20-37 30-59 33-75 38-96 20-43 15-9 27-4 20 0 17 2 10 3zM4183 214l5-7 7-3 14-3 20 0 32 3 11 4 8 6 49 119 46 105 24 49 26 45 37 53 26 28 12 10 11 7 9 3 12 2 13-2 10-4 15-9 15-13 24-27 36-56 24-41 23-49 57-129 37-91 10-7 10-4 30-3 20 1 13 2 8 4 6 7-15 40-16 36-34 87-51 117-36 66-24 37-26 36-11 14-25 23-20 15-16 9-17 5-20 4-60 2-27-3-23-6-20-11-30-21-22-24-51-73-19-34-50-103-20-53-19-37-9-26-15-37zM3190 1328l0-88 2 0 6 8 4 1 13-5 7 0 6 2 59 44 18 9 13 2 10-1 10-3 17-11 20-18 20-25 37-55 53-104 43-98 27-66 32-83 41-101 19-53 54-130 22-46 16-27 12-26 44-67 27-28 20-16 17-8 20-6 20-2 66 1 14 1 13 4 17 9 20 14 19 21 16 20 33 50 47 90 8 22 39 88 28 73 11 27 19 53 16 33 51 137 53 119 30 60 26 48 27 40 20 26 13 13 20 17 17 7 17 0 13-4 17-10 16-13 30-37 30-46 31-57 40-84 23-53 131-336 47-110 19-36 12-30 19-34 23-36 25-34 31-31 23-13 20-7 23-2 32 1 0 69-12 0-15 7-15 13-16 19-34 49-47 92-49 115-16 41-11 24-12 36-30 80-11 24-62 156-44 97-36 70-36 56-24 30-23 24-12 11-17 10-30 13-30 5-63-1-17-2-13-4-24-10-30-20-14-16-40-50-34-53-25-55-14-25-13-30-14-30-32-81-19-42-35-93-12-27-24-70-67-159-43-88-33-56-27-35-22-18-12-6-10-2-10 2-11 6-26 23-19 27-34 55-53 111-80 198-58 152-62 143-15 37-44 83-42 60-23 26-20 18-16 12-24 12-26 7-60 2-24-3-23-6-17-9-13-11-23-25-4 1-3 3-3 8zM3593 1496l18-53 14-31 49-126 69-146 14-27 34-50 21-23 20-19 13-9 17-8 17-5 16-1 70 1 14 2 13 5 20 10 13 10 25 24 21 27 33 53 27 50 33 73 18 47 15 33 25 68 22 52 16 43 0 4-6 6-9 4-16 3-20 0-17-1-10-3-12-6-7-7-24-63-32-73-18-49-37-81-40-77-20-32-29-34-18-14-10-4-10-1-10 1-8 4-10 7-12 11-23 29-34 53-43 87-26 63-23 57-37 88-9 28-2 4-11 6-12 4-20 3-20 0-13-1-10-3-7-6zM5144 999l0 69-17 2-11 6-9 7-28 33-27 40-40 76-43 101-65 163-5 5-10 7-17 4-40 1-13-3-7-3-6-7 2-7 41-106 10-31 20-44 11-29 55-120 21-40 34-53 19-23 13-15 14-10 23-14 13-6 17-3z"/>
<path fill="#0000e5" d="M3660 210l3 4-27 70-16 36-8 24-28 70-36 76-32 60-28 47-23 30-31 33-22 19-24 12-30 10-30 1-40-1-33-9-20-11-33-31-4 0-6 10-2 0 0-79 8 6 20-4 14 5 56 42 20 8 17 0 13-4 14-7 16-13 44-52 20-32 20-34 33-65 37-82 38-95 18-40 17-9 23-3 28 2 9 3zM4189 214l6-7 7-3 27-2 26 3 10 3 10 6 50 123 47 103 23 49 27 45 40 56 22 23 21 17 16 7 11 1 11-1 16-6 11-8 15-13 27-29 37-55 23-40 24-49 30-67 11-30 15-32 39-94 8-5 10-4 27-3 26 2 8 3 7 7-13 36-18 40-32 84-30 70-24 50-15 26-18 37-45 66-14 17-26 26-17 13-16 10-20 7-20 4-54 2-23-2-20-5-17-7-20-13-23-18-12-14-41-56-22-34-52-103-17-40-12-33-19-37-9-26-17-40zM3190 1244l2 0 6 7 17-4 10 2 10 6 52 38 13 7 15 3 13 0 17-7 19-13 18-18 26-35 24-35 30-54 26-54 44-97 26-65 32-85 48-113 16-47 41-96 11-31 23-46 37-67 40-56 23-24 20-15 16-7 24-7 20-1 46 1 20 2 17 5 17 10 15 12 21 22 12 15 43 67 38 73 10 26 38 87 29 76 11 24 19 53 16 34 51 138 13 25 40 92 27 53 30 53 37 54 18 21 18 16 17 10 13 4 14 0 13-4 17-9 17-14 33-39 30-45 30-56 40-83 26-60 12-33 105-263 12-34 49-113 16-30 15-36 33-57 35-47 22-23 12-8 20-11 16-5 24-3 28 1 0 63-15 1-13 6-14 13-20 22-33 47-50 96-12 31-35 78-14 39-16 32-10 34-10 24-18 50-12 25-64 161-40 90-37 70-35 57-27 33-34 34-30 17-30 10-33 3-47-3-26-6-20-10-32-22-12-13-42-53-33-54-24-53-15-26-24-54-15-39-38-87-24-60-11-34-11-26-29-80-70-164-40-78-34-55-20-24-15-16-18-13-13-4-10 1-14 5-10 8-17 17-16 20-40 64-50 101-83 203-38 101-13 28-8 26-58 132-19 48-47 86-36 53-27 30-25 21-20 14-16 7-20 6-20 2-40 1-20-2-24-7-16-9-17-12-17-18-6-5-4 0-6 10-2 0zM3599 1496l17-53 16-33 48-124 27-60 53-106 36-53 21-24 15-14 17-13 16-8 17-5 17-2 60 1 16 3 14 5 20 11 16 13 23 23 21 26 32 54 25 46 33 73 37 90 23 61 18 43 16 46 0 4-2 3-9 5-13 3-17 1-13-1-14-3-10-6-6-6-25-63-30-70-22-56-37-80-40-75-20-32-28-33-22-17-10-4-10-1-10 2-13 6-20 17-23 29-37 57-43 87-46 113-39 87-10 33-7 7-12 5-17 3-16 1-14-1-10-3-7-5zM5144 1001l0 64-12 1-10 3-19 14-31 37-26 40-34 63-33 74-43 104-38 95-2 4-10 6-17 5-33 0-10-1-8-4-6-6 0-4 40-104 12-32 19-44 11-30 60-126 17-33 34-54 31-36 13-11 23-15 14-5 13-3z"/>
<path fill="#0000ff" d="M3655 211l3 3-10 22-15 44-18 40-6 20-30 74-35 73-32 60-29 50-21 26-33 37-24 19-37 16-16 4-30 1-37-2-33-10-17-11-33-30-4 1-6 9-2 0 0-73 8 5 17-3 13 4 14 8 42 32 12 7 11 3 15 1 16-4 17-10 14-10 43-50 23-36 20-34 18-37 15-27 64-146 12-33 19-40 15-8 20-3 24 2zM4193 214l6-5 6-3 24-3 23 3 10 3 8 5 52 125 70 150 30 50 37 51 29 30 19 13 12 5 13 2 13-2 13-5 15-10 16-13 23-24 40-59 24-41 23-48 30-68 12-30 31-68 23-58 17-8 24-3 23 2 7 2 7 7-12 33-17 37-9 26-57 137-23 47-16 28-15 31-33 50-23 30-25 27-14 12-17 11-23 9-24 6-46 1-20-1-27-6-13-7-20-13-24-18-13-14-39-53-19-30-15-27-24-51-17-32-28-70-19-37-9-29-18-41zM3190 1321l0-73 8 6 17-4 10 2 63 44 17 8 17 2 13-3 8-3 20-14 18-16 24-30 30-45 28-48 52-109 50-119 29-79 30-70 18-40 17-50 43-100 9-27 21-43 17-26 11-24 44-66 31-34 14-10 16-8 24-8 20-2 50 2 16 3 14 4 13 7 16 12 24 24 13 16 40 64 40 76 7 20 40 90 30 79 9 18 21 60 15 30 43 113 9 27 12 23 41 93 50 94 42 63 20 23 18 17 16 10 17 5 14 0 17-5 17-10 16-14 33-40 30-44 30-55 64-134 14-40 106-262 11-34 49-114 16-31 15-35 33-57 34-46 22-23 10-8 23-12 13-4 27-4 25 0 0 59-18 2-12 6-15 14-17 18-36 51-51 97-10 27-36 79-16 41-14 29-11 37-9 20-19 54-11 23-48 120-60 137-37 69-15 23-18 31-24 30-29 30-13 9-16 10-17 7-17 5-30 3-20 0-23-2-17-3-13-4-20-10-33-23-53-66-31-50-26-56-14-27-24-53-25-63-26-57-15-40-12-27-10-33-12-27-29-79-69-161-41-78-36-58-24-29-16-14-17-10-14-3-13 3-12 6-28 26-30 43-23 39-47 93-37 86-20 53-33 77-25 70-23 53-8 27-54 120-22 56-21 37-26 50-39 56-26 29-36 29-24 12-23 6-47 3-26-3-24-8-16-8-14-10-20-20-6-4-4 0-6 9zM3603 1496l18-53 14-30 19-50 14-33 14-37 28-63 53-107 36-53 20-23 16-16 17-12 20-10 13-4 17-1 57 1 16 4 14 6 23 13 13 11 20 21 23 30 30 50 11 23 14 24 33 73 37 90 19 52 21 48 16 46-1 4-9 7-11 3-16 1-13-1-10-3-10-6-6-5-25-66-32-70-21-54-36-80-44-80-20-30-28-33-13-10-11-6-11-4-7 0-10 2-12 5-14 10-10 10-20 25-40 61-41 80-51 124-26 60-10 20-11 36-5 5-10 5-13 3-17 1-13-1-10-3-7-4zM5144 1004l0 59-9 0-12 4-20 13-31 35-26 40-37 67-34 74-43 102-38 98-3 4-9 5-16 5-27 0-17-5-6-5 0-4 4-13 17-40 30-80 21-47 10-26 62-133 14-27 32-50 33-40 13-11 20-14 14-6 13-3z"/>
<path fill="#001cff" d="M3654 214l-25 66-17 39-35 91-41 84-28 53-28 46-20 27-35 39-23 18-34 16-20 4-26 1-37-2-33-11-17-11-26-24-7-4-4 0-6 9-2 0 0-68 8 4 17-2 13 4 14 8 44 32 12 7 10 2 14 0 16-4 16-8 17-13 44-50 40-64 21-43 16-26 14-37 22-46 12-31 14-30 12-33 20-43 16-7 20-3 20 2zM4197 214l12-7 20-3 20 2 17 8 15 33 26 67 58 127 24 48 33 54 39 54 27 26 21 14 10 3 13 2 14-2 16-7 15-10 15-13 23-25 40-58 24-40 20-43 33-73 10-27 34-71 23-59 17-8 20-2 23 3 10 7-9 26-18 40-9 27-15 30-43 107-55 109-33 50-23 30-22 24-13 11-17 11-20 9-23 7-17 2-30 0-23-1-24-6-13-6-20-13-23-19-14-14-38-51-34-57-14-33-27-50-27-68-20-39-9-30-19-43zM3190 1318l0-68 8 6 17-3 10 2 60 41 20 9 17 2 10-1 13-5 25-18 15-15 27-34 23-34 30-52 53-108 54-128 24-69 34-80 17-33 16-50 29-66 25-64 20-40 15-24 12-26 45-66 31-34 15-10 20-9 20-6 17-1 43 1 20 4 14 6 13 7 13 11 25 24 10 13 25 42 18 25 39 76 46 107 31 80 9 20 20 57 15 30 26 70 19 46 7 25 14 25 41 94 52 95 42 61 21 23 19 17 17 10 18 4 14-1 17-6 16-10 16-14 38-46 29-44 45-86 45-96 14-41 107-263 11-33 77-173 37-64 20-26 11-17 23-23 10-9 20-11 17-5 23-4 25-1 0 56-15 1-14 6-16 13-18 20-39 53-50 95-11 29-32 71-18 45-15 30-12 40-9 20-19 54-11 23-61 150-43 100-37 70-18 27-14 26-27 33-33 34-30 19-27 9-36 4-34-1-16-3-17-6-20-10-31-22-52-66-28-44-29-62-24-48-37-93-28-60-13-37-13-27-10-33-13-30-29-77-30-72-39-88-19-33-25-50-33-54-26-29-14-13-17-11-17-4-10 2-13 6-13 10-17 16-11 14-19 27-23 39-50 97-25 60-12 26-19 51-17 36-18 43-8 27-29 74-9 20-10 30-54 118-21 55-22 38-24 48-41 60-32 33-33 26-23 11-24 5-40 2-23-2-27-9-13-7-17-12-20-19-6-4-4 0-6 8zM3607 1496l8-20 8-30 16-33 11-30 19-43 15-44 11-23 19-43 15-27 28-60 9-16 37-57 18-20 14-14 17-13 20-11 17-5 16-1 37 0 17 2 16 4 14 6 23 15 13 11 16 16 25 33 29 50 10 22 15 25 34 73 24 63 12 27 19 51 22 49 13 43-2 5-8 5-22 4-20-4-10-5-5-5-27-70-33-73-18-47-40-86-40-73-21-30-28-34-23-16-12-5-10-1-10 2-10 4-10 6-16 14-20 24-44 65-40 80-55 134-23 50-10 20-11 36-4 4-10 4-27 5-10-1-10-3-7-5zM5144 1005l0 56-12 1-10 3-13 8-8 7-32 36-27 40-36 66-34 74-25 60-17 37-20 53-11 25-8 25-3 4-9 5-17 4-23 0-13-5-6-4 0-4 4-13 17-40 27-73 24-53 11-31 25-53 12-23 24-53 12-24 32-50 34-41 14-12 16-11 14-7 13-4z"/>
<path fill="#0039ff" d="M3650 214l-26 70-15 33-35 90-43 90-27 50-28 46-17 24-36 40-25 19-33 16-17 4-26 1-34-2-33-11-17-10-36-30-4 0-6 8-2 0 0-63 8 4 17-2 10 3 13 7 45 32 12 7 13 4 17 0 13-4 19-10 17-13 33-37 15-19 34-54 23-47 13-20 19-46 21-44 11-30 15-30 10-30 14-26 8-20 12-6 20-3 16 2zM4201 214l11-6 17-2 20 2 14 6 15 33 6 20 11 23 8 24 82 174 34 55 40 54 27 26 20 14 13 5 13 2 13-2 14-5 16-10 16-14 24-24 41-59 24-40 22-46 34-74 8-23 35-73 10-30 13-30 14-6 20-3 20 3 10 6-8 23-21 47-7 23-14 27-19 50-25 60-54 106-30 47-26 33-21 23-12 12-17 11-20 10-23 7-17 2-30 1-20-2-27-6-13-7-20-13-37-35-36-50-34-56-13-31-28-52-25-64-21-40-9-31-18-42zM3190 1316l0-63 8 5 14-3 10 1 10 6 39 28 17 10 17 7 17 2 13-3 8-3 26-17 16-15 27-33 23-34 32-54 54-110 10-27 45-103 23-67 36-83 16-30 15-50 28-63 26-67 21-40 14-23 11-23 44-67 32-35 17-11 23-10 17-4 16-2 40 2 17 4 13 5 26 18 28 26 8 10 25 44 19 26 37 73 46 107 15 41 26 59 20 57 17 33 27 77 14 33 10 30 56 120 50 91 42 62 21 24 19 16 16 10 18 5 17 0 15-5 22-13 16-14 38-46 32-50 42-80 27-60 15-28 16-45 108-267 10-30 14-30 14-33 50-113 35-60 33-46 30-29 20-12 13-5 27-6 25 0 0 52-18 2-14 7-15 13-18 20-37 49-53 99-11 29-30 66-20 47-15 30-11 40-10 23-21 57-111 263-40 77-18 26-14 27-27 33-33 34-29 18-27 9-33 4-34-2-30-8-20-10-33-24-52-67-26-40-35-77-18-33-36-93-29-60-12-37-13-27-11-36-14-30-27-74-30-73-40-89-19-31-25-49-26-44-10-13-27-30-15-14-18-10-14-2-13 2-13 7-27 24-13 16-17 24-27 43-50 96-24 60-12 26-19 51-16 33-17 40-10 33-39 94-10 30-51 113-23 60-22 37-23 46-27 39-13 21-33 33-31 26-23 12-24 5-40 3-23-3-27-10-13-7-17-11-19-18-7-5-4 0-6 8zM3611 1496l7-16 8-34 17-33 11-30 18-41 15-46 12-23 17-40 16-30 34-70 39-60 17-20 13-13 20-16 20-11 17-5 17-1 33 1 17 2 16 5 20 11 20 13 12 11 12 13 25 34 29 50 9 20 16 26 32 70 24 63 12 27 19 52 23 48 13 43-1 4-8 5-10 3-10 0-10 0-10-4-8-4-3-4-20-50-7-20-34-73-18-47-14-26-26-60-22-37-21-40-21-30-29-33-24-16-10-3-10-1-10 1-13 6-10 6-15 14-20 23-45 67-40 79-57 137-12 23-8 20-10 20-13 40-4 4-10 4-23 3-17-3-6-4zM5144 1007l0 53-12 1-16 6-14 10-13 13-20 23-13 19-51 84-37 80-24 60-16 34-10 30-22 51-9 25-3 4-8 4-14 4-20-1-14-4-4-3-1-4 4-13 18-40 25-70 25-53 12-34 23-50 12-23 25-56 42-70 36-44 27-21 17-8 13-4z"/>
<path fill="#0055ff" d="M3646 214l-29 80-25 56-21 57-13 23-9 24-22 43-29 53-28 47-12 16-38 44-22 16-33 17-20 4-27 1-33-3-30-10-13-8-33-27-7-5-4 1-6 7-2 0 0-59 8 3 17-2 10 4 17 10 44 31 12 6 10 2 17 0 17-5 18-10 16-13 34-37 12-16 37-57 21-43 15-24 17-43 49-107 9-26 14-27 9-23 12-5 17-3 13 2zM4863 214l-7 20-21 46-8 27-15 27-21 56-22 54-55 106-27 43-34 44-23 23-15 11-20 11-26 9-17 3-30 0-20-1-27-8-30-18-40-38-33-46-34-56-13-32-28-51-22-60-24-47-9-28-19-45-18-50 10-5 14-2 16 2 14 5 16 33 7 23 10 20 7 24 83 173 37 60 40 52 26 26 11 8 13 7 11 3 12 2 13-2 17-6 15-10 32-28 11-12 39-58 23-38 23-47 32-70 10-27 10-20 13-30 13-23 8-27 15-33 13-6 17-1 16 2zM3190 1314l0-58 8 3 14-2 10 1 51 35 18 10 17 6 17 1 22-7 25-17 14-13 29-37 20-28 33-55 55-110 11-30 20-43 25-60 22-63 17-37 22-53 13-24 17-53 16-40 12-23 29-74 15-29 17-27 10-23 43-64 30-34 17-12 26-12 14-4 16-1 40 2 17 4 13 6 24 16 34 35 26 44 18 26 39 77 45 103 15 43 10 20 7 20 10 20 15 47 22 43 27 77 15 33 10 30 53 117 52 93 42 60 24 27 20 16 16 10 16 4 17 0 18-7 22-13 16-14 37-46 33-50 41-78 26-59 16-30 17-46 12-27 36-97 16-33 45-110 9-30 13-27 64-146 35-60 33-47 31-30 20-12 17-6 20-4 25-1 0 50-15 1-14 6-17 13-19 20-30 38-10 15-25 44-9 19-19 36-11 28-29 64-20 46-17 33-10 40-10 23-21 57-84 200-11 23-14 37-43 80-15 23-14 27-27 33-32 33-29 19-27 10-37 4-16 0-20-3-27-8-17-10-33-25-11-13-19-28-19-22-25-40-21-43-18-40-15-27-36-97-28-56-13-37-13-27-11-36-13-30-8-24-11-23-9-27-30-73-41-90-19-31-25-49-25-42-10-14-28-30-15-14-17-10-17-4-13 3-16 8-23 20-14 17-39 56-20 40-35 64-20 46-7 20-11 23-20 54-17 33-16 40-10 33-17 44-22 50-8 26-52 114-9 26-14 34-24 40-22 46-26 37-12 20-32 33-34 28-24 12-26 5-34 2-23-3-27-10-16-9-40-32-4 0-6 8zM3615 1496l5-13 8-33 19-37 9-27 18-40 16-50 12-22 17-41 16-29 27-57 42-67 12-17 16-16 17-15 20-13 13-6 10-3 40-1 20 1 17 5 20 9 20 13 11 10 13 13 34 47 23 40 10 23 16 26 32 70 8 24 16 40 11 23 19 53 23 47 7 20 6 23-2 4-7 4-17 3-17-3-8-4-3-4-12-32-9-21-6-20-12-21-22-49-18-47-31-63-9-23-24-40-19-37-23-32-28-31-24-17-12-4-10-1-10 2-16 7-21 16-23 26-44 64-42 83-57 137-12 23-8 20-11 20-13 40-4 4-9 3-20 3-14-3-5-3zM5144 1008l0 51-15 1-21 10-12 10-22 23-13 17-19 30-40 66-40 87-21 53-16 34-10 30-22 50-9 26-8 7-17 4-17-1-13-5-3-5 5-13 17-40 25-70 25-53 12-34 23-50 13-22 24-57 12-21 17-25 12-21 38-47 23-18 17-9 13-4 20-3z"/>
<path fill="#0072ff" d="M3643 214l-29 80-24 53-8 23-13 34-13 23-9 23-21 44-31 56-29 47-48 58-20 15-33 18-20 5-27 1-30-2-33-12-13-8-31-25-9-6-4 0-6 8-2 0 0-56 8 2 14-1 10 2 20 12 43 30 11 5 12 3 17 0 17-4 20-12 16-13 31-34 13-16 39-60 21-43 14-20 19-47 48-103 10-30 14-27 9-23 12-5 14-1 13 2zM4208 214l11-4 13-2 13 2 11 4 17 36 5 20 11 22 8 25 12 21 69 146 38 63 41 53 28 27 21 13 13 4 13 2 13-1 14-5 16-10 17-13 27-27 42-60 22-36 25-50 32-70 9-26 11-21 13-30 14-23 7-27 15-33 10-4 13-2 17 1 10 5-6 16-21 50-7 24-16 30-21 56-15 34-8 20-54 106-27 43-35 44-19 20-15 11-23 13-20 8-20 3-27 1-20-1-26-7-14-7-20-13-40-40-29-42-35-56-13-33-27-50-23-60-24-47-9-28-20-49zM3190 1312l0-54 8 3 14-3 10 2 49 33 17 10 18 7 19 1 10-2 14-6 25-17 14-13 27-34 20-28 36-58 15-33 40-77 12-33 18-37 26-63 21-63 18-37 20-50 15-27 18-53 7-17 8-21 12-25 29-74 30-53 10-23 43-63 31-37 15-11 26-12 17-5 13-1 30 1 17 3 20 7 20 13 38 38 27 47 18 26 27 54 11 20 44 103 15 43 12 24 7 20 10 20 13 40 7 16 17 30 26 80 15 30 12 34 40 86 11 27 57 100 40 56 25 27 21 17 17 8 20 4 15-2 16-7 22-13 15-14 38-46 33-50 42-80 25-57 15-26 16-47 14-30 34-93 19-37 30-80 15-33 8-27 14-27 59-137 37-66 33-47 26-26 8-6 20-12 13-5 23-5 22 0 0 47-16 1-16 6-13 11-20 21-40 52-26 43-11 23-18 34-19 46-21 44-21 50-16 30-10 40-23 56-7 24-78 180-8 23-12 23-14 37-42 80-15 23-14 27-27 33-33 33-29 19-13 6-13 3-34 4-33-3-27-8-16-9-37-28-27-38-21-26-23-36-23-47-16-39-17-27-33-94-29-56-13-40-13-24-12-40-31-73-10-30-22-50-8-23-40-87-21-33-24-48-23-39-12-16-28-30-14-14-20-12-17-3-13 2-17 9-20 18-16 16-42 60-17 37-38 66-10 27-10 20-7 20-11 23-19 50-16 34-17 40-11 36-15 40-22 50-11 30-12 30-39 82-9 28-14 34-24 39-22 47-9 13-16 20-14 24-32 33-34 28-23 11-30 5-30 2-20-3-27-11-26-16-27-23-7-1-6 7zM5144 1009l0 48-15 2-12 4-16 10-12 12-30 35-38 60-20 33-39 83-24 60-16 34-10 30-21 46-9 30-10 6-13 3-17-1-10-3-3-5 5-13 17-40 7-23 11-24 6-20 27-56 11-34 22-46 13-24 25-59 26-40 15-27 35-43 23-20 17-9 13-5 17-2zM3618 1496l13-46 19-37 9-27 18-36 14-50 13-24 18-43 17-30 24-53 44-70 12-17 16-16 20-17 17-11 10-4 13-4 37-1 17 1 16 4 20 10 24 15 21 20 33 47 26 43 10 23 15 27 10 23 21 43 23 64 12 23 6 20 14 37 22 44 8 22 5 20-2 4-6 3-15 3-16-3-7-3-3-4-11-33-9-20-7-23-12-20-22-50-17-44-14-26-19-40-9-24-23-36-20-40-23-30-27-30-24-17-14-5-10-1-13 3-10 4-13 8-13 11-21 23-46 67-43 83-57 137-31 62-14 41-4 4-8 2-17 2-13-3z"/>
<path fill="#008cfe" d="M3639 214l-29 83-22 47-10 30-15 33-9 17-11 30-49 93-16 23-13 23-48 60-22 17-33 18-17 4-27 1-33-3-30-12-13-8-34-27-6-3-4 0-6 7-2 0 0-53 8 3 14-2 10 3 23 14 41 28 12 6 10 2 17 0 17-5 22-13 16-13 32-34 13-16 39-60 21-43 13-20 20-47 48-103 10-30 14-24 9-26 9-4 14-1 10 1zM4212 214l10-4 10 0 20 4 17 36 7 24 10 20 7 23 19 34 27 59 38 77 44 70 37 46 29 27 10 7 14 6 21 4 10 0 13-5 27-15 31-27 19-23 56-87 39-83 15-33 7-20 13-24 12-30 17-26 6-27 15-33 10-4 10-1 14 1 10 4-28 66-5 24-16 26-21 57-17 37-7 20-45 86-9 20-25 40-37 47-19 20-15 11-23 13-20 7-17 3-27 1-16-1-27-7-13-6-20-13-42-42-28-40-11-20-13-17-13-22-11-30-28-54-21-56-25-47-9-30-20-47zM3190 1310l0-50 8 2 14-2 6 1 10 5 40 27 18 10 19 8 20 1 12-2 11-5 29-19 11-11 30-37 17-24 37-58 16-36 41-77 12-33 19-37 13-36 12-27 20-63 19-37 20-50 16-27 31-90 13-23 29-77 29-51 11-25 43-63 29-35 14-10 30-14 13-5 17-1 30 2 16 4 17 6 20 14 35 35 26 47 19 27 40 77 25 62 17 37 16 47 13 23 5 17 12 26 10 34 10 20 16 26 26 83 15 31 19 50 31 63 14 33 55 97 41 56 25 27 21 17 16 8 20 5 13-1 17-6 23-13 17-13 12-14 29-36 34-50 40-77 25-56 17-30 16-47 13-27 16-43 18-53 19-34 32-86 15-30 8-27 12-23 31-74 13-26 11-30 42-77 33-46 31-30 20-13 16-6 20-4 22-1 0 45-15 0-17 7-15 12-19 20-39 49-29 47-11 23-18 34-19 46-21 44-21 50-16 30-9 40-23 54-9 29-19 40-8 23-49 110-9 27-13 23-13 37-31 57-11 23-15 23-13 25-26 32-36 36-28 19-23 8-37 4-27-3-30-9-15-9-35-26-10-12-20-30-18-22-23-36-10-23-14-27-15-37-17-26-32-94-15-26-16-34-12-36-14-27-10-37-14-30-8-23-11-23-20-54-11-23-8-23-14-34-28-56-20-30-23-46-24-41-14-20-29-30-16-13-17-10-17-3-13 2-15 8-25 20-13 14-42 59-20 40-37 63-10 27-10 20-8 23-10 20-20 53-17 34-15 36-9 34-16 43-23 50-9 27-14 33-40 83-10 34-17 36-20 34-19 39-41 63-33 34-34 28-20 10-30 5-30 2-20-4-23-9-17-9-13-9-27-22-7-1zM3622 1496l11-43 21-40 8-27 17-33 15-53 14-24 17-43 25-46 15-35 45-72 12-16 14-14 19-17 20-13 20-7 37-2 17 2 16 4 27 14 17 12 20 20 33 47 24 40 9 23 16 27 11 26 21 44 6 20 15 40 12 23 6 20 16 40 15 27 9 22 10 34-2 4-5 2-13 3-13-2-7-3-3-4-11-33-9-21-6-22-14-24-21-46-16-44-16-26-8-20-10-20-9-24-26-39-17-37-24-30-27-30-26-18-14-5-10-1-10 2-15 5-11 7-12 10-22 23-36 50-15 24-39 76-20 47-18 46-22 49-10 18-8 20-11 20-15 43-9 5-14 2-13-3zM5144 1011l0 45-18 3-17 8-14 10-25 26-16 20-56 90-37 80-26 63-15 30-10 34-21 43-10 33-7 5-13 3-13-1-12-3-1-4 22-53 7-23 9-20 7-24 26-53 14-40 20-43 11-20 15-33 10-27 28-42 13-25 37-46 20-18 20-10 14-5 16-3z"/>
<path fill="#00a4fd" d="M3636 214l-10 30-10 23-9 30-22 44-10 33-23 46-12 34-49 93-16 23-11 20-41 53-9 10-19 15-33 18-20 5-24 1-30-3-30-11-13-7-35-28-8-4-4 0-6 6-2 0 0-49 8 2 14-1 10 3 26 16 37 25 13 6 10 2 20-1 15-5 19-10 20-16 40-43 47-70 17-37 16-25 18-45 50-103 8-27 15-27 9-26 10-3 10-1zM4217 214l15-3 10 1 7 2 7 20 10 16 6 24 11 20 7 23 22 41 17 34 8 22 12 19 25 54 45 70 37 46 29 27 10 7 13 6 11 4 13 2 13-2 11-4 29-16 30-27 20-23 54-84 10-23 30-60 23-56 12-20 12-32 6-11 12-14 5-27 17-36 16-3 20 3-27 66-5 24-17 26-19 57-18 37-7 20-45 86-8 20-24 37-36 46-21 23-13 10-20 12-20 8-20 4-27 1-20-2-23-7-13-6-19-13-41-41-27-39-12-23-11-14-14-22-12-34-27-50-20-56-27-50-16-47-13-30-6-23zM3190 1308l0-45 8 1 14-2 13 4 46 30 24 12 20 5 11 0 12-3 22-10 22-16 37-44 17-24 38-59 17-37 41-77 13-36 20-37 10-33 14-30 18-60 20-37 12-27 8-23 17-27 16-50 7-16 7-24 13-23 8-23 12-27 10-30 27-46 11-26 16-21 28-43 18-24 10-10 15-10 30-15 13-4 14-1 26 2 17 3 20 9 19 13 36 37 23 43 18 27 40 76 13 30 12 33 19 40 15 47 13 20 6 20 13 28 9 32 9 17 17 26 25 84 16 32 19 51 29 57 14 36 35 57 24 43 41 57 27 26 21 17 17 8 20 3 13-1 17-7 23-13 16-13 13-14 28-36 35-50 42-80 21-50 18-30 17-50 13-27 7-23 13-30 13-43 20-34 32-86 16-30 7-27 21-43 22-52 11-22 11-33 42-76 33-48 33-32 20-12 20-7 17-4 18 0 0 42-15 1-17 6-16 13-20 21-37 46-20 34-12 16-10 23-20 34-15 40-61 130-9 38-23 55-11 37-16 30-9 26-47 104-10 32-16 28-11 33-32 57-11 23-14 23-12 23-27 34-36 36-28 18-24 8-36 4-30-4-27-10-13-8-34-28-8-10-22-32-17-21-23-37-9-23-14-24-15-39-16-23-23-67-8-27-16-26-19-44-8-26-16-27-11-43-11-24-7-20-13-26-19-54-12-23-7-23-22-50-12-20-11-24-21-30-21-43-23-40-12-16-32-34-15-13-17-10-16-4-17 2-17 8-21 17-15 16-45 61-19 40-38 63-8 24-13 23-6 20-12 23-16 48-19 35-17 40-8 34-14 40-25 53-8 23-16 40-11 20-7 17-20 40-11 37-17 36-21 34-18 39-40 60-32 34-35 30-18 9-30 6-27 2-20-3-23-9-17-9-16-11-27-21-7-1zM3625 1496l11-43 22-40 8-27 18-33 6-30 6-20 13-23 20-47 23-46 13-30 48-77 9-13 13-14 23-20 17-12 20-7 34-2 16 1 17 5 27 13 16 12 21 20 33 47 26 43 8 20 15 27 10 26 22 44 6 23 8 17 7 20 12 23 7 23 16 40 14 24 9 22 10 34-4 4-13 4-13-3-7-5-10-33-11-23-6-24-13-21-23-49-15-43-15-23-8-20-11-20-8-24-27-39-19-40-24-30-28-30-26-17-13-4-10-1-10 2-16 6-24 17-20 20-16 25-22 28-15 24-39 76-20 43-18 48-15 29-8 22-11 18-7 20-10 17-11 33-6 13-7 4-12 1-10-1zM5144 1012l0 43-18 2-20 10-13 10-26 26-13 17-57 90-37 76-18 44-9 26-16 30-9 30-21 44-11 36-4 4-13 3-10-1-11-2-2-4 12-33 12-23 5-20 9-20 6-20 28-57 8-27 6-16 44-90 11-30 26-37 14-30 38-46 17-15 20-11 14-5 20-4z"/>
<path fill="#00bbfc" d="M3632 214l-8 26-12 27-7 27-23 46-10 34-23 43-7 27-11 23-45 83-14 20-14 24-44 56-20 17-32 18-17 4-27 2-30-3-30-12-11-6-35-27-10-5-4 0-8 5 0-45 22 0 6 2 27 15 40 27 10 5 13 3 20-1 17-5 20-11 19-16 38-40 48-70 19-40 13-20 33-75 15-28 10-24 12-23 10-30 14-23 9-30 13-3zM4222 214l17-1 4 1 3 3 5 17 13 20 5 23 11 20 8 23 11 19 26 51 8 24 13 20 24 50 44 69 41 53 28 24 9 7 13 6 14 5 13 2 10-1 13-4 30-17 33-28 20-23 53-83 10-24 30-56 21-55 15-25 13-34 6-8 15-15 0-17 2-10 13-23 4-13 12-2 15 2-1 3-12 23-5 24-9 16-3 24-17 26-22 64-15 26-7 24-44 86-9 20-23 37-37 46-18 20-13 11-23 14-20 7-17 4-27 1-16-2-27-7-13-7-17-11-41-43-26-37-12-23-14-19-13-21-9-30-26-46-23-64-24-43-18-53-12-27-5-23zM3190 1306l0-41 22-2 13 5 43 28 27 14 20 4 20-2 22-9 24-17 11-10 44-56 41-63 15-35 15-25 15-30 12-20 14-43 20-31 10-36 13-27 16-60 20-33 14-27 10-30 15-23 18-54 8-16 5-24 14-23 8-23 12-27 10-30 26-46 10-24 15-20 27-43 27-33 16-12 30-16 13-4 14-1 26 2 17 4 20 9 17 11 35 37 22 43 19 27 43 83 13 30 6 23 22 43 10 30 4 20 12 14 3 6 6 20 12 27 9 30 9 17 15 20 5 10 21 80 20 40 13 43 32 57 13 36 36 57 25 43 41 57 27 27 21 16 16 8 23 4 16-2 16-7 23-13 16-13 13-14 29-36 33-47 14-30 32-56 18-47 19-27 15-45 16-35 6-23 12-27 12-46 7-12 15-18 33-94 5-10 12-16 6-27 20-40 9-23 13-31 11-19 9-34 42-76 34-50 31-31 20-12 20-8 17-3 18-1 0 40-17 2-17 6-14 11-23 23-35 43-19 33-15 20-15 32-16 25-14 40-19 36-11 28-10 19-9 23-11 20-9 40-23 54-10 36-18 34-9 26-47 100-9 34-18 30-10 33-32 57-11 23-15 23-11 23-25 32-38 38-26 17-23 8-36 4-27-4-27-9-13-8-37-30-26-39-20-25-21-34-9-23-17-31-12-35-12-14-6-10-19-60-6-26-22-37-14-30-10-33-17-27-12-46-17-41-13-26-13-37-4-20-10-13-6-10-5-20-7-17-9-30-16-22-13-25-20-29-46-84-12-16-32-34-15-13-19-11-16-4-16 2-15 6-18 14-21 20-45 60-8 13-13 30-39 60-9 26-11 20-7 24-11 20-17 50-18 33-18 40-8 37-13 40-26 50-8 25-8 18-8 23-10 17-9 23-18 34-10 36-19 40-19 30-22 47-37 55-32 35-35 30-19 9-30 5-27 2-20-4-23-11-17-9-40-29-7-2zM5144 1013l0 41-12 1-13 4-15 8-13 10-32 33-49 73-18 30-21 47-14 26-19 44-8 26-16 30-9 30-21 40-11 40-5 4-9 1-16-1-3-4 12-33 12-23 4-20 10-20 5-20 27-54 9-29 7-17 42-87 11-32 27-37 12-27 20-24 17-23 17-16 34-17 16-3zM3629 1496l10-43 21-37 10-30 18-30 4-30 6-23 15-23 21-50 21-43 10-24 37-61 23-35 25-24 20-16 12-7 13-5 34-2 20 2 14 5 29 15 19 15 18 20 50 78 12 29 16 26 9 27 21 40 6 26 8 17 6 17 13 23 6 23 15 37 16 30 12 30 7 23-4 4-10 2-10-1-7-5-9-30-11-26-7-27-13-19-23-48-7-16-7-27-16-23-7-20-13-22-8-22-26-39-11-27-7-13-54-60-27-18-14-4-10-1-14 3-15 6-11 7-16 13-17 18-14 22-19 24-16 23-63 123-15 45-17 32-9 23-12 20-6 17-10 20-13 36-6 10-4 2-13 2z"/>
<path fill="#00d3fb" d="M3628 214l-6 23-14 30-6 28-25 45-5 24-5 13-21 37-6 26-12 27-25 43-20 40-14 20-14 23-44 57-19 16-31 17-19 6-24 1-30-3-30-12-10-6-43-31-7-2-8 6 0-43 18 0 10 3 30 17 37 25 13 5 14 2 20-1 16-6 22-14 19-17 36-36 33-51 15-19 19-39 13-21 33-75 15-28 9-20 14-24 9-30 15-26 7-27 3-3 2-1zM4826 217l2-3 10 0 1 3-7 5-3 1zM4231 217l1-2 3 0 3 2-1 3-2 2zM4236 244l3-9 3-1 17 18 3 8 3 20 10 15 9 25 38 72 6 25 17 20 21 47 48 73 40 50 28 24 20 12 27 8 12-1 12-3 32-17 32-27 19-20 58-89 8-21 31-56 23-59 16-24 6-24 5-10 9-9 14-5 3 0 3 2 2 9-3 10-14 20-12 33-7 27-6 13-13 20-7 24-43 86-9 20-24 38-47 59-11 10-14 10-19 11-20 7-16 3-30 1-17-3-23-8-28-18-7-7-15-19-18-17-22-32-14-27-14-18-13-20-9-33-22-40-10-30-9-20-6-20-20-32-7-14-14-47-12-24zM4822 235l4 3 1 6 0 13-5 10-6 5-4 0-3-2-3-6 0-10 6-13zM3999 370l34 37 19 40 17 23 23 40 12 27 11 20 11 26 3 14-1 6-3 5-3 1-7-3-10-9-15-27-25-35-41-78-19-23-31-30-24-17-11-5-10-1-10 0-10 3-23 13-20 17-10 10-43 56-9 17-13 30-42 60-7 26-12 17-6 23-12 20-3 14-9 20-5 17-15 29-11 27-11 17-5 36-12 40-27 50-9 29-12 21-5 20-10 17-10 25-16 28-8 37-13 23-9 20-18 30-22 47-35 53-32 34-37 32-20 10-30 5-23 1-17-4-33-15-20-12-30-22-7-2-8 4 0-37 18-2 14 3 33 22 30 16 17 7 13 2 20-2 18-7 25-15 14-13 43-55 43-63 16-37 13-20 15-31 16-25 8-30 6-14 22-30 3-6 2-24 14-30 16-63 39-60 4-24 3-7 16-22 13-34 6-20 7-13 2-20 2-7 15-23 6-21 12-26 8-30 14-23 25-53 12-13 27-44 25-33 17-13 32-17 11-4 10-1 37 3 27 11zM5144 343l0 38-18 2-17 6-14 11-21 20-36 44-22 36-13 17-17 35-16 21-8 27-6 17-19 33-11 29-13 18-5 23-13 27-9 36-22 50-4 27-5 13-6 13-14 21-7 23-21 40-11 28-19 35-5 30-3 7-19 30-8 30-34 60-8 20-15 23-11 23-25 32-34 35-18 13-18 10-34 6-26 1-30-7-24-11-36-31-7-7-15-24-25-33-20-32-11-28-19-36-9-31-11-10-7-10-11-40-7-20 0-6 2-6 3-2 3 1 7 5 9 18 18 27 8 33 15 19 27 41 24 43 39 54 32 30 17 13 12 7 16 4 16 2 10-1 14-5 20-10 15-10 25-24 32-40 14-23 16-20 14-30 13-20 8-16 12-20 8-27 6-15 7-10 15-18 12-38 20-46 6-23 12-27 9-43 6-12 18-18 5-20 27-74 7-13 18-20 0-16 2-8 18-36 7-23 11-24 15-23 2-6 3-24 3-9 14-22 13-28 17-30 30-44 28-30 19-12 23-10 17-4zM4132 624l3 0 7 6 7 9 5 11 12 37-1 9-3 6-3 1-7-4-6-6-3-6-5-20-9-24 0-11zM4165 713l4-2 6 2 7 6 3 4 7 27 13 26 5 24 12 20 13 15 7 12 19 83 18 31 6 16 4 16-4 7-3-1-7-6-13-19-17-35-10-32-20-30-11-47-13-33-12-24-15-40-2-13zM3868 1030l14-9 17-5 30-2 20 2 16 6 27 15 16 13 15 17 54 83 12 28 14 25 9 30 22 40 4 27 7 11 8 19 13 23 5 23 13 34 18 30 13 33 8 23-3 4-15 1-8-5-1-13-6-20-11-23-6-30-14-19-24-44-6-17-5-27-19-23-8-24-12-17-8-23-28-42-9-24-7-13-54-60-27-18-13-4-10-2-14 2-16 5-16 10-16 13-17 17-14 23-19 24-17 23-44 83-8 20-12 20-7 27-7 20-7 12-14 18-4 20-15 23-4 13-8 17-15 40-9 13-8 1-4-1 4-30 4-13 25-40 5-20 4-10 17-20 2-7 0-30 5-20 18-26 12-27 10-30 17-33 11-27 55-90 26-26zM5144 1014l0 39-18 2-24 11-13 11-24 23-11 13-62 93-24 54-12 20-14 33-9 17-7 26-16 30-8 30-20 34-13 46-10 4-9 0-6-4 6-13 6-20 14-23 2-20 8-17 6-21 30-56 6-26 23-54 10-16 7-19 10-18 9-30 27-36 13-30 18-21 18-26 15-14 34-18 16-3z"/>
<path fill="#00ebfa" d="M3621 214l2 3-5 17-3 7-7 8-1-2 0-7 5-23 3-3zM4245 250l4 0 6 7 2 7-2 4-3 2-7-6-2-7zM4819 250l0 7-3 4-3-4 0-3 3-4zM3598 264l3 13-3 15-6 10-7 4-1-2 0-7 4-19 4-8zM4262 293l3 0 7 7 8 24 9 16 4 17 0 3-11-9-10-16-10-31-1-7zM4808 297l1 3-2 7-16 20-11 30-2 20-4 13-8 15-12 15-8 27-50 107-24 34-13 15-16 24-20 23-12 10-20 13-26 11-13 3-17 1-26-2-30-10-30-20-17-23-21-20-22-33-11-23-25-33-5-10-6-30-17-27-6-17-2-10 2-6 6 2 14 9 6 10 8 22 7 13 19 25 26 42 20 29 30 35 30 24 17 10 27 7 10-1 10-2 16-7 27-15 28-24 20-20 19-33 34-50 16-34 17-30 11-16 7-23 13-33 5-9 11-11 3-7 9-33 4-5 7-4 7-1zM3578 315l2 5-7 17-7 33-4 10-20 27-2 7-3 26-12 27-26 43-19 40-13 17-12 21-17 20-18 29-19 20-16 11-30 17-23 4-27-1-20-3-30-13-50-36-7-1-8 5 0-39 18 0 7 1 33 18 34 23 13 6 10 3 20 0 17-4 21-11 18-14 44-43 19-27 16-26 16-20 30-57 9-21 11-19 19-45 15-25 8-17zM3741 567l5-24 13-20 21-49 17-20 26-44 19-27 17-15 33-19 17-5 16-1 30 5 24 10 20 15 28 31 12 18 11 28 13 17 12 23 14 20 11 27 13 23 10 30-1 4-3 4-7-2-7-7-16-26-24-33-37-73-20-23-28-27-18-14-17-10-16-3-17 2-17 7-13 9-22 19-28 33-22 30-9 17-12 29-30 41-17 14zM5144 344l0 36-18 2-15 5-15 10-21 20-37 43-22 37-17 20-8 20-9 14-6 8-7 2-3-6-2-12 1-10 3-9 13-17 14-33 47-74 27-29 17-11 33-14zM4302 373l10 10 7 12 0 12-4 4-6-5-7-11-2-11zM4956 581l3 3 1 6-4 17-10 18-10 10-2-2-1-6 3-17 10-20 6-8zM3739 584l1 13-1 11-7 9-3 3-4-1-1-9 3-10 5-9zM3719 631l3 2 0 4-2 13-5 7-6 2-5-6 1-7 7-10zM4138 637l4 1 6 9 11 30 2 10-3 6-6 0-3-3-3-7-2-16-10-20 0-7zM4926 649l1 4-4 17-4 8-3 2-5-3 1-9 7-12zM4902 709l2 4-1 7-11 27-7 30-16 38-10 15-1 27-5 16-7 14-15 16-4 20-5 10-20 30-6 5-1-8 7-17 3-23 13-23 2-27 4-20 8-13 7-5 12-5 2-4 3-20 26-77 4-7 6-8 7-3zM4172 719l7 3 3 4 4 31 13 13 3 7 0 13-3 5-7-7-7-11-5-20-11-21-1-13zM3668 755l2 5-2 10-6 8-4 1-2-6 2-10 4-4zM3645 809l3 2 1 2 1 14-6 33-5 13-5 10-10 14-9 16-8 10-3 20-4 10-8 10-4 2-3-2-3-7 0-13 3-7 13-19 8-50 4-14 8-15 20-24zM4205 811l4 0 23 24 8 12 4 13 3 27 3 16-1 13-27-32-6-11-4-16-3-24-4-16zM4265 956l7 6 7 11 1 7-1 4-4-2-6-9-4-10zM3584 980l2 3-1 7-11 20-8 23-19 27-2 27-3 11-16 25-7 20-15 24-27 56-33 50-28 30-32 30-15 10-14 5-33 5-24 0-13-4-26-13-54-36-7-1-8 3 0-32 18-4 14 3 26 19 34 18 16 7 14 3 13 0 17-4 19-9 21-13 10-10 30-37 55-76 6-10 12-30 15-24 14-30 19-23 6-30 6-16 20-22 7-4zM4792 978l1 5-1 7-6 15-7 7-2-2-1-3 3-11 7-13zM4131 1276l-2 10-4 5-6-2-8-6-5-10-4-20-13-14-10-26-29-40-7-26-5-10-53-57-8-7-28-16-17-5-13 1-17 5-16 9-25 20-12 12-14 23-21 25-17 23-25 50-22 36-8 18-13 16-2 6 0 14-1 10-11 25-6 7-4 0-3-2-4-10 1-15 5-19 5-7 13-13 6-16 9-17 3-20 6-17 14-26 11-27 24-36 10-22 21-32 29-30 26-20 11-4 10-2 33-1 20 3 37 20 23 21 13 17 28 50 20 26 10 27 15 26 9 37 18 27zM5144 1015l0 37-12 1-10 2-22 12-13 10-31 30-20 32-22 28-27 39-7 20-9 17-5 15-14 18-13 34-7 9-3 3-3-2-1-14 4-13 12-23 7-24 9-13 9-21 9-16 7-29 27-36 15-34 18-20 17-27 15-13 24-14 11-4 17-3zM4295 1033l4 1 5 13 15 12 7 11 3 10 1 10-1 9-4 4-3 0-7-2-8-11-5-20-1-20-6-11zM4770 1057l-2 10-25 33-2 7 0 13-4 10-10 17-8 20-15 23-10 23-13 20-9 20-25 33-35 37-23 17-10 4-14 4-23 4-17 0-16-2-20-5-23-12-37-32-7-8-26-40-11-13-21-34-11-29-14-26-7-18-1-10 2-6 2-2 4 0 6 5 30 43 27 47 38 50 32 30 20 15 13 7 21 4 19 0 10-3 20-10 25-17 18-16 14-19 19-21 15-24 16-19 17-35 12-15 11-25 10-12 7-30 7-15 6-9 10-8 4-1 3 3zM4135 1314l4 1 3 3 19 35 3 13-2 13-10-12-16-27-4-17zM4922 1335l3 8-2 10-16 30-9 33-9 14-7 5-3-1-2-4-1-7 9-20 4-20 23-41 7-6zM3689 1380l2 3-1 7-5 7-3 1-3-2 1-6 4-7zM4185 1432l4 0 6 8 3 10 0 3-3 3-9-13-2-7zM3662 1437l1 3-1 10-7 23-7 11-3 3-2-1-2-3 0-7 3-20 8-11zM4871 1456l2 4-1 6-7 20-1 10-8 2-6-2 8-13 1-13 2-7 5-6 3-1zM4199 1460l6 7 10 18 5 11-5 3-7 1-7-4 0-13-3-17z"/>
<path fill="#00e6df" d="M4799 304l-3 6-4 0 0-5 4-2zM3748 553l3-10 10-16 22-53 17-20 16-24 10-20 18-26 15-14 36-21 14-5 16 0 30 5 24 10 18 15 28 31 13 22 8 27 13 14 12 22 14 20 11 30 13 20 5 20-2 5-7-4-18-28-18-22-30-57-4-14-5-6-25-26-35-31-18-12-20-6-17 1-16 6-17 10-21 18-29 33-23 30-11 20-9 23-7 11-27 30-3 1-3-2zM5144 345l0 34-18 2-17 5-13 9-20 19-38 43-26 41-18 16-8 25-7 9-3 2-4 0-3-5-1-5 2-13 6-8 11-9 5-23 4-10 49-77 24-26 17-12 33-15zM3562 357l0 10-3 10-7 8-4 2-3 0 0-10 3-9 10-11zM4769 359l3 1 2 7 0 10-2 8-10 17-6 7-7 3-2-5 0-7 9-24 6-13zM3532 418l2 6 1 6-3 15-14 29-26 36-7 23-6 14-15 20-12 20-14 16-23 37-12 13-18 14-23 14-14 4-23 3-30-2-13-4-27-12-31-23-19-12-7-1-8 4 0-36 15 0 13 4 30 16 34 22 20 8 16 1 17-2 13-5 17-9 25-20 32-30 25-34 15-24 18-19 38-81 7-8 3-3zM4742 437l-1 7-5 16-13 24-7 21-12 22-9 23-23 34-16 18-16 25-20 23-17 13-24 15-24 7-30 2-20-3-26-9-27-18-6-7-14-20-17-17-23-34-12-26-25-30-5-13-1-23 3-6 3 2 20 21 25 39 25 37 30 33 30 24 14 7 23 8 10 1 10-1 20-7 28-15 33-27 19-16 20-38 34-49 13-27 17-29 10-10 3-1zM4329 438l6 1 7 8 3 12 0 10-6-3-10-12-3-10zM4896 718l1 2 0 3-10 20-5 25-3 9-7 7 0-13 14-43 3-6zM3642 822l2 5-2 30-4 14-6 13-20 22-4 1-2-7 1-27 4-20 11-15 13-12zM4216 830l6 1 7 4 6 6 5 9 3 10 0 13-1 15-3 5-7-3-7-6-8-14-4-23 1-14zM4849 834l6 6 1 7 0 10-2 10-5 11-7 10-6 5-7 2-3-1-3-4-2-10 1-13 3-14 4-8 7-8 6-3zM4819 910l3 2 0 9-3 7-3 3-4 1-2-5 1-7 5-8zM3595 934l4 3-1 9-3 6-3 2-3-1-2-3 0-7 4-6zM3572 995l2 2-12 34-7 7-3-3-1-5 4-17 7-11zM3745 1236l4-20 16-26 7-20 24-40 9-21 24-36 29-30 24-19 17-6 26-2 20 2 17 6 33 19 20 20 12 17 23 47 19 21 5 9 10 26 11 21 5 29-1 4-4 1-3-3-8-22-29-36-6-14-3-23-6-10-18-13-34-37-9-7-30-17-14-4-10-1-13 2-20 8-17 12-25 20-18 30-19 20-17 24-34 65-7 8-6 5-4-4zM5144 1016l0 36-18 1-23 10-15 10-26 24-11 13-19 30-21 23-15 25-10 8-3-3-1-6 1-10 3-10 19-20 10-20 9-27 21-23 17-27 14-12 30-17 16-4zM4762 1048l4 5-1 10-3 7-13 13-3 2-4-2-1-10 5-12 10-12zM4309 1062l3-1 3 2 7 8 3 12-3 11-3 1-4-1-5-7-3-17zM3540 1070l2 13-4 15-18 25-5 18-16 26-9 20-9 23-9 16-34 50-26 28-37 34-13 7-20 5-24 3-20-1-13-4-24-12-55-36-8-2-8 3 0-29 8-3 10-2 14 4 23 17 30 16 17 8 16 4 17 1 13-3 19-8 21-12 14-11 48-60 18-27 18-23 11-16 11-30 16-20 11-29 3-5 7-5 3 0zM4735 1120l-3 10-11 10-5 23-19 30-7 20-14 20-7 19-25 34-19 19-15 18-21 15-20 8-37 5-13 0-17-3-27-10-11-8-37-34-61-93-10-30-17-32-2-8 2-7 3 0 7 6 9 15 11 12 13 19 17 32 20 24 16 22 8 10 32 28 23 16 14 5 23 3 17-3 26-12 20-13 23-20 14-19 21-21 13-24 17-16 16-36 7-8 9-6 3-17 4-6 4-3 3 0zM4976 1210l2 3-2 10-7 9-2-2 1-10 4-8zM4962 1239l2 7-2 9-3 5-7 3-2-7 2-6 4-6zM4112 1266l3-1 7 5 2 6-2 5-3 0-6-5-2-6zM3719 1304l3 6 0 10-7 16-3 4-3 1-4-2-2-6 1-13 4-10 4-5 3-2zM4892 1409l0 5-3 5-2-3 2-4zM4205 1496l4-6 3 2 3 4z"/>
<path fill="#00e3c2" d="M4035 429l3 8-1 7-2 4-6-1-7-5-15-15-26-23-26-19-12-5-11-2-13 1-14 3-20 10-19 15-36 37-27 36-9 17-9 24-10 11-10 6-1-1 6-23 9-20 6-18 16-16 8-13 10-13 9-20 16-27 15-14 40-24 16-4 24 1 17 4 19 9 16 11 9 10 25 30zM5144 346l0 32-15 1-13 3-10 4-10 7-36 34-27 33-17 29-7 8-7 4-3 1-3-2-2-6 1-7 6-13 44-70 24-27 17-13 26-13 14-4zM4766 370l3 3 0 8-3 7-7 6-2-4 2-10 3-7zM3528 430l2 4-1 6-7 18-7 13-10 11-3-2 3-13 16-33 4-4zM4730 457l-2 7-10 16-6 22-10 22-10 26-23 32-17 14-9 21-11 16-17 19-24 18-19 10-20 5-27 1-18-3-28-10-24-16-9-10-11-17-16-17-10-18-14-18-11-24-27-33-4-13 0-7 2-5 4-1 3 2 7 5 54 82 32 33 28 21 12 7 24 8 20 2 20-6 28-15 61-43 6-20 12-22 13-20 19-24 24-45 7-6zM4045 465l4 1 5 4 9 17 19 24 6 19 0 7-2 3-4 0-7-5-10-14-21-47-1-7zM3482 522l0 10-7 15-15 20-9 16-15 17-12 23-12 17-20 20-26 17-11 5-13 3-17 2-23-1-14-3-33-15-27-20-20-12-10-3-8 3 0-32 15-1 10 3 27 14 33 22 17 8 13 4 13 0 14-1 10-3 16-8 18-12 46-40 25-30 18-31 10-8 3-1zM4982 524l2 3-1 6-4 6-3 1-3-3 1-7 5-6zM3635 835l3 3 2 9 0 13-3 10-9 14-6 5-7 3-3-2-3-10 0-13 3-10 3-8 7-8 6-5zM4222 835l10 6 7 12 2 10 0 10-2 9-4 3-3 0-7-5-4-7-4-10-2-10 1-10 2-6zM4846 838l4 2 4 7 0 10-2 10-4 10-6 7-6 5-7 0-3-4-3-8 3-21 6-13 7-5zM4035 1110l0 7-3 0-7-3-38-37-35-21-13-4-10-2-19 3-24 10-39 30-15 27-7 8-17 15-15 17-11 21-3 4-4 2 0-7 2-7 13-20 9-20 7-20 15-20 9-16 38-40 14-11 13-6 24-3 26 2 14 5 29 16 16 13 13 17 8 13zM5144 1017l0 34-12 0-13 4-29 15-35 30-7 10-12 21-10 12-7 5-3 1-2-2 0-7 12-37 6-9 15-14 10-20 10-13 12-10 27-15 16-4zM4759 1058l1 5-1 4-7 7-3 0-2-4 2-7 7-6zM3535 1077l3 6-2 10-4 8-7 5-3-3 0-3 3-13 4-7 3-3zM3508 1127l3 6-2 10-14 17-1-10 4-13 4-6zM4055 1146l7 1 10 13 13 41-3 0-13-12-13-16-4-13 1-10zM4709 1158l0 4-3 4 0-5zM3493 1163l-1 6-8 18-9 29-32 50-17 20-43 44-18 12-13 5-27 4-17 1-13-2-33-15-54-35-6-3-12 1 0-23 8-5 10-1 14 4 23 17 19 10 34 15 14 3 13 0 13-3 15-5 25-14 14-11 32-39 38-51 15-15 15-19zM4362 1165l3 0 14 14 6 11 8 20 22 24 25 32 35 30 17 12 13 6 17 4 17 1 12-3 21-9 19-11 30-23 18-21 25-22 4-17 8-9 6-3 4 1 1 8-5 9-13 14-4 17-21 33-41 43-18 13-13 5-33 6-20 0-24-5-23-11-43-39-40-62-8-17-12-15-4-11zM4999 1164l2 3-2 6-7 9-3-2 0-7 3-7zM3769 1199l0 7-4 13-6 9-4 3-2-1-2-7 4-10 7-9z"/>
<path fill="#01e3a2" d="M3828 427l2-10 16-30 7-7 44-30 12-4 13 0 33 5 19 9 14 10 10 10 23 30 10 17 1 10-3 4-7-4-38-33-25-18-17-7-13-2-20 3-23 10-23 17-28 25-6 1zM5144 347l0 31-15 0-13 3-10 4-10 6-36 33-28 33-20 31-6 6-5 0-2-7 3-10 47-73 23-28 14-10 30-15 13-4zM3799 473l-4 11-6 9-2-3 2-11 6-6zM3785 497l-1 17-4 6-5 3-1-6 1-5zM4065 500l7 5 7 9 3 10 0 3-3 2-4-1-6-8-6-16zM4359 503l3-1 7 5 11 23 29 36 5 11 0 3-2 4-7-2-6-6-13-29-24-27-5-10zM4696 518l0 6-2 9-5 16-20 27-7 5-3 0-2-4 1-7 11-23 13-19 7-6zM3472 530l3 3-3 10-7 10-7 5-2-1 6-16 3-5zM3451 570l-6 13-12 10-12 30-17 24-10 10-32 21-14 5-26 3-34-4-32-15-28-21-20-12-10-2-8 2 0-28 15-2 9 3 31 16 30 20 17 8 20 4 23-2 17-7 22-13 41-33 15-10 15-20 3-2zM4418 597l1-4 3-1 10 4 20 20 40 28 20 7 20 4 13-2 20-7 27-14 20-15 20-12 7-1 2 3 0 3-5 13-17 23-8 7-23 17-13 7-16 6-37 2-13-2-24-8-10-5-18-13-9-10-11-20-15-14-3-6zM4222 840l3 0 7 4 6 13 1 15-4 7-3 1-7-4-6-14-1-15zM3632 841l3 2 3 7-2 17-8 14-10 5-3-1-3-7-1-8 1-10 3-7 7-9 6-3zM4846 842l3 2 3 6 0 7-2 10-8 14-6 4-4 0-3-2-3-8-1-8 2-10 2-7 7-7 6-2zM4023 1090l1 10-2 2-3-1-10-7-20-19-30-17-20-7-10-2-10 1-29 10-40 27-10 10-8 20-7 8-13 9-3 0-3-4 1-10 3-10 15-17 9-16 22-27 26-23 10-5 10-2 27-2 16 2 14 5 26 15 13 10 9 10 11 17zM5144 1018l0 32-12 0-13 4-17 7-15 9-15 13-19 14-21 32-6 7-4 0 0-6 7-25 6-8 14-13 10-24 11-13 9-8 30-17 17-4zM4059 1156l3 0 7 7 3 10 0 9-7-2-6-9-2-8zM4372 1184l3 1 5 5 2 6 0 7-3 0-7-8-1-5zM3475 1196l-1 10-5 14-17 29-20 27-51 54-9 7-12 6-38 7-14 1-13-2-30-14-54-35-9-4-12 0 0-18 2 0 3-5 3-1 10-2 14 5 26 19 47 21 23 4 14-1 10-3 27-12 21-13 34-40 38-50 6-5 4-1zM4394 1226l1-2 4 1 6 4 14 14 17 23 42 34 24 14 27 6 13 0 10-3 31-14 25-17 17-13 20-20 7-4 4 1-16 33-18 19-14 18-11 10-15 9-13 5-30 5-17 0-16-3-17-5-14-6-11-9-36-36-9-17-24-38z"/>
<path fill="#05e682" d="M3835 417l9-23 12-14 43-29 10-4 13-1 20 3 13 4 16 7 14 10 10 10 21 30 7 17-1 1-63-44-14-5-13-3-20 2-23 9-14 8-36 28-4-1zM5144 348l0 29-15 0-13 2-10 4-10 6-41 35-13 16-15 14-6 10-9 17-3 3-2 0-1-4 3-5 11-15 13-23 11-17 8-16 22-27 12-9 30-16 13-4zM4688 533l0 7-2 7-10 11-7 3 3-11 10-15 4-2zM3423 607l-3 10-6 13-10 13-9 10-34 24-13 5-13 2-27 0-22-4-28-13-26-21-17-10-13-5-12 1 0-24 5-2 10-1 6 2 14 9 20 9 27 18 16 8 17 4 20 1 17-4 20-10 19-12 34-26 7-1zM4425 603l4-3 3 1 16 16 17 10 27 18 20 7 20 4 13-2 17-5 30-15 20-15 10-5 10-1 1 4-5 13-13 17-30 23-12 7-14 4-37 3-13-2-23-9-27-16-9-10-9-20-15-17zM3628 845l4 1 3 6-1 15-6 10-6 4-4 0-3-3-2-5 1-13 5-10 6-5zM4225 843l7 4 4 10 0 13-4 5-3-1-4-3-5-11 0-10 2-5zM4842 844l4 1 3 5 0 13-7 14-6 4-4 0-4-8 0-16 6-10zM3838 1083l2-6 16-24 25-23 18-8 30-3 13 1 10 3 37 21 10 9 7 10 9 16 2 8-2 4-3 0-23-18-30-16-17-6-13-3-14 2-20 6-40 24-16 6zM5144 1018l0 31-15 1-17 5-22 12-21 15-7 3-5-2-1-6 4-14 6-10 10-10 34-20 16-4zM3831 1100l1 10-3 7-10 10-7 0-2-7 4-10 11-10 4-1zM3467 1206l1 4-2 6-14 27-24 34-33 34-16 19-11 8-11 5-35 7-14 0-13-2-31-15-46-31-13-6-15-3 0-11 2 0 3-7 7-3 6 0 13 4 24 18 47 21 23 5 13-1 13-3 34-14 17-11 70-83 3-3zM4411 1246l1-1 3 2 12 16 7 7 21 13 26 20 21 12 20 5 20 1 13-4 42-21 35-23 3-1 3 1 0 3-5 10-13 14-14 20-21 16-20 7-30 5-16 0-30-8-14-7-9-7-35-36-7-17-12-19z"/>
<path fill="#27e863" d="M3843 407l6-15 10-11 37-27 9-5 14-2 33 6 21 11 19 16 6 10 7 17-3 1-47-27-13-4-13-2-17 2-23 9-10 5-30 20-4 1-2-2zM5144 349l0 27-18 0-20 5-10 5-30 24-7 4-3 0-2-4 3-6 17-24 8-7 37-21 10-3zM3190 628l0-17 6-4 9-1 20 12 20 9 40 24 17 5 20 1 13-2 17-6 56-35 6-1 1 4-3 10-13 20-10 10-34 22-13 3-14 2-26-1-17-4-29-16-21-17-13-9-17-7zM4626 623l-3 10-11 14-28 23-12 6-13 4-30 3-14 0-10-3-23-10-16-10-14-13-4-10-2-10 3-4 6 1 10 5 20 14 10 5 20 6 20 3 14-2 16-7 27-12 23-15 7-2 3 1zM3628 849l5 4 0 10-5 11-6 4-4-1-2-4-1-10 3-9 4-4zM4225 848l5 2 4 7 1 6-3 6-3 0-3-2-3-7 0-7zM4842 847l4 2 2 4-1 10-5 11-6 4-4-2-2-3-1-6 0-7 3-7 4-5zM5144 1019l0 29-15 1-13 4-27 12-20 13-3 1-4-1-1-8 3-10 8-10 7-7 33-20 14-3zM3850 1073l3-10 6-10 24-23 9-5 10-3 23-2 14 1 10 2 36 20 14 14 8 16-2 5-3-1-50-24-23-5-14 1-20 6-36 20-7 0zM3825 1108l2 2-2 7-6 4-4-1 0-4 4-6zM3449 1233l1 3-2 7-11 13-9 17-5 7-25 22-15 21-10 10-11 7-14 4-33 5-21-3-28-13-38-28-20-10-13-2-3-3 1-7 3-7 6-3 6 0 14 6 20 16 46 20 24 5 23-1 23-8 34-16 8-9 15-20 15-13 12-17 3-2zM4432 1280l3-3 14 5 26 19 27 16 13 3 20 2 10-1 10-3 30-14 34-18 6-3 1 3-20 30-10 10-11 8-16 7-30 6-14 0-26-5-15-6-11-6-35-37-5-7z"/>
<path fill="#78f039" d="M3849 400l2-6 5-7 33-27 13-8 13-4 24 3 20 6 15 10 12 10 7 10 2 7-1 3-5 0-34-18-16-4-14-1-16 3-24 8-30 18-4 1zM5144 350l0 25-22 1-20 3-26 20-11 5 0-4 8-13 12-13 33-20 11-4zM3190 616l2 0 3-7 3-2 7 1 20 13 20 9 33 20 14 5 16 3 17 0 13-3 24-10 36-21 7-1 2 4-6 13-7 10-12 10-20 13-17 8-27 2-25-3-16-7-22-13-17-15-10-7-13-6-22-5-1-3-2 0zM4620 627l-1 6-7 10-17 17-14 10-22 9-27 3-13 0-9-2-31-13-22-17-4-7-2-10 1-4 7-1 6 3 20 13 10 5 20 6 20 3 14-2 45-19 18-11 3-1zM3625 852l3 1 2 4 1 6-3 7-6 4-4-4 0-7 2-6zM4842 851l4 5-1 7-3 7-3 3-3 1-4-3-1-4 1-10 4-5 3-2zM4229 856l1 4-1 2-1-5zM3856 1067l1-7 7-10 21-20 16-7 21-2 20 1 13 5 32 20 7 6 5 10 0 4-7 1-17-5-26-13-14-3-10 0-13 2-20 6-30 16-5-1zM5144 1020l0 27-12 1-13 3-27 10-23 12-3-2-1-4 2-7 7-10 28-20 17-7zM3425 1265l0 5-3 6-10 8-3-1 2-7 4-6 7-5zM3194 1283l4-7 7-1 7 1 12 7 14 15 54 19 16 4 14 0 13-1 50-17 4 0 0 3-4 10-7 10-7 7-9 6-30 7-27 2-13-3-23-12-23-17-14-13-37-13zM4440 1286l2-1 3-1 7 2 24 17 26 15 30 5 20-2 53-24 5-1 2 4-4 10-7 10-12 10-10 6-10 4-27 5-20 1-27-6-20-10-7-7-23-27z"/>
<path fill="#aef525" d="M3858 394l1-4 32-30 11-7 13-4 17 1 23 7 24 17 6 6 3 7 0 3-6 1-27-14-16-3-14-1-20 4-30 9-13 8zM5144 351l0 23-45 1-15 12-5 0 4-7 16-8 15-15 15-5zM3193 617l2-7 3-1 7 0 20 16 20 8 37 20 23 5 20 1 13-3 20-8 34-18 6 0 2 3-4 10-8 10-30 21-20 7-26 0-17-2-15-6-22-13-20-19-13-9-30-6-2-3zM4454 637l1-4 7-1 23 14 14 6 23 5 13 2 20-4 54-22 2 0 0 4-6 10-10 10-20 15-20 7-30 3-16-3-32-16-17-13-5-7zM4839 854l3 3 0 6-3 5-3 0-2-8 2-3zM3625 858l2 5-2 4-3 0 0-7zM3860 1063l2-6 4-7 22-20 14-6 20-2 17 1 13 4 32 20 7 6 3 7-2 4-10-1-33-14-14-3-10 0-33 7-27 14-3-1zM5144 1021l0 25-22 3-43 16-7 1-1-6 7-10 27-20 16-7zM3195 1283l3-5 4-2 6 1 11 6 6 7 1 3-4 2-24-5-3-4zM4449 1293l3-2 3 1 47 27 30 5 20-2 47-20 6 0 1 4-3 7-8 10-20 13-36 8-17 1-23-5-22-10-10-10-15-20zM3243 1306l5-1 7 0 40 14 23 3 20-2 37-12 7 0 1 2-1 6-4 7-6 7-9 6-21 7-30 4-17-2-24-12-21-17-6-6z"/>
<path fill="#dbf712" d="M3879 377l7-10 13-11 10-5 13-1 23 5 13 5 21 20 0 4-20-8-24-4-20 1-30 8-4-1zM5108 367l5-7 9-5 10-3 12 0 0 21-32-1-4-2zM3195 613l3-3 7 1 7 6 2 6-6 3-10-1-3-2zM3394 637l-1 6-4 7-26 20-15 7-20 4-26-2-17-4-27-18-10-14 0-3 27 12 20 6 30 2 20-5 40-19 7-1zM4458 640l1-4 6 0 30 16 24 6 16 2 14-2 40-15 6-1 5 1-2 7-9 10-17 12-20 7-27 2-16-4-29-14-18-13zM3864 1060l1-3 4-7 13-13 9-7 14-5 17-2 17 1 13 4 33 22 4 7-1 3-9 0-27-11-23-4-14 1-23 6-23 10-4 0zM5144 1022l0 23-18 2-40 12-7 1-1-3 3-7 26-20 15-6zM3198 1281l4-2 7 1 8 6-1 4-8 0-10-3zM4460 1303l2-3 40 20 33 5 17-1 43-18 5 0 1 4-3 6-6 7-17 12-36 8-17 1-20-4-22-10-11-10zM3251 1310l11-1 36 12 17 2 20-1 37-11 6 2 1 3-3 7-6 7-12 7-26 7-24 2-14-3-25-13-15-14-2-3z"/>
<path fill="#fff500" d="M3885 374l4-7 10-10 6-4 10-2 14 1 19 5 11 7 5 6-2 3-3 0-24-2-13 1-30 5-6 0zM5112 367l4-7 6-4 10-3 12 0 0 19-25-1-4-1zM3195 617l3-5 4 0 4 1 4 7-4 3-8 0-2-3zM3389 643l-7 10-24 18-12 6-18 3-23-1-17-5-7-4-20-17 1-3 30 9 16 2 17 0 17-3 40-18 6 0zM4462 643l1-3 6 0 16 10 14 5 36 6 14-2 35-12 7 0 2 3-3 7-7 6-16 10-15 4-27 3-15-3-21-10-20-14zM5144 1023l0 21-18 2-34 9-7-2 4-6 23-19 14-4zM3871 1053l14-16 9-7 15-5 16-1 14 1 13 5 25 17 7 6-1 4-4 0-24-9-26-4-40 7-17 6zM3201 1283l6 0-2 3-3-1zM4469 1310l3-1 7 1 23 12 37 4 13-1 40-15 4 3-7 10-14 10-36 9-14 1-19-3-23-10-11-10zM3259 1316l1-3 5 0 33 9 20 2 20-2 30-9 4 1 3 2-4 10-14 10-24 7-21 2-14-2-15-7-16-10z"/>
<path fill="#ffdb00" d="M3890 370l4-6 8-7 13-5 10 1 18 4 8 3 6 7-3 3-25 0-34 5-5-1zM5116 364l2-4 8-4 18-2 0 16-22 0-6-3zM3198 615l4-1 3 3 0 3-7 0zM3383 647l-8 10-17 13-10 4-13 4-17 1-20-3-14-6-6-7 0-3 4 0 26 2 24-1 13-3 33-14 4 0zM4469 647l3-1 23 10 40 6 10-1 34-11 7 0 2 3-7 10-18 10-15 4-26 1-13-3-21-12-14-10zM3882 1047l6-10 9-7 15-4 17-1 11 2 9 3 25 20-5 0-37-7-47 5zM5144 1024l0 20-15 0-27 6-9 0 3-7 16-13 14-5zM4474 1316l1-3 4 0 23 11 43 4 7 0 27-12 6-1 4 1-1 4-5 6-11 7-47 9-14-2-24-10-9-7zM3265 1320l4-4 33 8 16 1 17-1 30-8 4 0 2 4-6 10-10 6-23 6-17 2-13-1-9-3-18-10z"/>
<path fill="#ffc100" d="M3894 370l0-3 6-7 5-4 10-3 10 1 12 3 13 7-1 3-47 5zM5119 364l3-4 6-3 16-2 0 14-18-1-5-1zM3375 650l-4 7-17 13-22 7-17 0-17-3-10-4-4-3 0-4 4 0 47-1 36-12zM4583 657l-5 6-13 8-10 3-26 3-10 0-10-4-18-13 14-1 34 5 10-2 26-9 7 0zM3888 1043l3-6 10-7 11-3 13-1 10 1 10 3 10 7 3 3 0 3-29-2-34 5zM5144 1025l0 17-12 1-23 4-8 0 0-4 2-3 12-10 11-3zM3367 1323l-5 7-10 6-20 5-17 2-19-3-17-10-6-7 2-2 30 4 20 1 13-1 24-6 4 1zM4480 1320l2-2 17 7 39 5 10 3-5 3-10 4-16 0-11-4-24-13zM4582 1320l-1 3-2 3-7 4-10 1-4-1 11-8 6-2z"/>
<path fill="#ffa700" d="M3898 367l1-3 6-6 10-4 16 3 7 3 3 4-12 3-27 3zM5124 364l1-4 7-3 12-1 0 12-15-1zM3362 657l1 3-8 7-15 6-22 3-16-3-9-3-2-3 4-2 40-1zM4577 660l-7 7-8 3-12 3-25 3-13-3-9-6-2-4 11-1 27 4 33-10 4 1zM5144 1027l0 14-32 3-6-1 3-6 10-7 13-3zM3893 1040l5-7 7-3 17-3 19 3 10 7 0 3-26 0-26 4-4-1zM3362 1323l0 3-3 4-6 3-21 7-14 2-18-2-12-7-7-7 7-1 37 2 30-5zM4504 1330l18-1 15 4-1 3-14 3-10-3-7-3z"/>
<path fill="#ff8d00" d="M3902 364l7-6 6-2 10 1 7 3 0 4-17 4-10 0-2-1zM5129 364l3-4 12-1 0 7zM4569 663l-4 4-10 3-13 1-17 4-8-2-6-3-3-3 4-3 3 0 27 5 23-8zM3349 667l-7 3-17 4-10-1-12-3 12-3 30-1zM3899 1040l0-3 4-4 16-4 15 1 8 3 2 4-35 4zM5111 1040l5-7 7-3 21-2 0 12-28 2zM3356 1326l-2 4-7 3-29 7-16-2-9-5-3-3 5-2 33 1 24-4zM4514 1333l5-1 8 1-5 3z"/>
<path fill="#ff7200" d="M3907 364l1-4 7-3 7 1 4 2-1 4-13 2zM4515 667l8 0 6 3-4 2-9-2zM5144 1030l0 8-25 1-2-2 3-4 9-2zM3905 1037l4-4 13-2 11 2-7 4-17 1zM3299 1333l3-2 30 0 5 2-7 3-15 2-12-2z"/>
<path fill="#ff5500" d="M5130 1033l14 0 0 1-12 1z"/>
</g>
<rect x="521.4" y="5.4" width="13.2" height="174" fill="url(#jet)" stroke="#401010" stroke-opacity=".55" stroke-width=".5"/>
<text class="cb" x="538.4" y="162.6">1</text>
<path d="M534.6 160.6h-1.3" stroke="#222" stroke-width=".4"/>
<text class="cb" x="538.4" y="142.686">2</text>
<path d="M534.6 140.686h-1.3" stroke="#222" stroke-width=".4"/>
<text class="cb" x="538.4" y="122.771">3</text>
<path d="M534.6 120.771h-1.3" stroke="#222" stroke-width=".4"/>
<text class="cb" x="538.4" y="102.857">4</text>
<path d="M534.6 100.857h-1.3" stroke="#222" stroke-width=".4"/>
<text class="cb" x="538.4" y="82.9429">5</text>
<path d="M534.6 80.9429h-1.3" stroke="#222" stroke-width=".4"/>
<text class="cb" x="538.4" y="63.0286">6</text>
<path d="M534.6 61.0286h-1.3" stroke="#222" stroke-width=".4"/>
<text class="cb" x="538.4" y="43.1143">7</text>
<path d="M534.6 41.1143h-1.3" stroke="#222" stroke-width=".4"/>
<text class="cb" x="538.4" y="23.2">8</text>
<path d="M534.6 21.2h-1.3" stroke="#222" stroke-width=".4"/>
<text class="tk" text-anchor="end" transform="translate(316.1 22.5) scale(1.115 1)">4000</text>
<text class="tk" text-anchor="end" transform="translate(316.1 55.9) scale(1.115 1)">2000</text>
<text class="tk" text-anchor="end" transform="translate(316.1 89.3) scale(1.115 1)">0</text>
<text class="tk" text-anchor="end" transform="translate(316.1 122.7) scale(1.115 1)"><tspan letter-spacing="0.6">-</tspan>2000</text>
<text class="tk" text-anchor="end" transform="translate(316.1 156.1) scale(1.115 1)"><tspan letter-spacing="0.6">-</tspan>4000</text>
<text class="tx" text-anchor="middle" transform="translate(322.1 165.8) scale(1 1.08)">0</text>
<text class="tx" text-anchor="middle" transform="translate(353.3 165.8) scale(1 1.08)">0.05</text>
<text class="tx" text-anchor="middle" transform="translate(382.4 165.8) scale(1 1.08)">0.1</text>
<text class="tx" text-anchor="middle" transform="translate(413.3 165.8) scale(1 1.08)">0.15</text>
<text class="tx" text-anchor="middle" transform="translate(442.6 165.8) scale(1 1.08)">0.2</text>
<text class="tx" text-anchor="middle" transform="translate(473.3 165.8) scale(1 1.08)">0.25</text>
<text class="tx" text-anchor="middle" transform="translate(502.8 165.8) scale(1 1.08)">0.3</text>
<text class="at" text-anchor="middle" x="420.7" y="178.4">Time/s</text>
<text class="ax" text-anchor="middle" transform="translate(289.8 84.5) rotate(-90)">Freqency/Hz</text>
<text class="cap" text-anchor="middle" x="411" y="200.1">(<tspan font-weight="bold">b</tspan>)</text>
</g>
<g>
<rect x="43" y="218.2" width="195.8" height="134.2" fill="#000090"/>
<g transform="scale(.1)">
<path fill="#0000b2" d="M895 2188l6 9 1 10-14 23-3 24-28 80-15 16-12 37-11 11-5 25-16 37-16 24-12 29-15 17 1 17-12 13-6 13-10 14-8 16-12 10-11 20-7 7-8 5-20 4-7 4-6 7-3 13-4 5-34 13-26 2-17-1-23 3-14-1-43-9-10-4-10-8-9-10-9-16-5-4-12-4 0-138 8 5 12 14 6 10 8 23 19 20 22 30 28 17 19 8 13 0 27-8 33-29 10-18 7-23 37-40 2-7 0-16 5-10 6-8 17-16 3-6 4-20 13-24 8-30 14-26 3-13 11-21 8-23 7-13 2-10 7-11 12-32 15-24 3-18 55 0 1 6 4 4 3 1 10-5zM1413 2182l98 0 14 42 11 20 12 30 4 16-1 17 1 7 4 4 11 6 6 6 5 23 16 27 5 14 10 16 1 7 0 10 14 20 3 16 11 40 3 4 11 5 13 11 8 13 15 21 8 15 12 15 8 16 42 24 11 1 15-1 17-10 41-37 17-24 17-30 7-16 20-23 4-20 5-14 12-16 12-10 2-7-1-13 3-10 23-40 11-37 12-21 7-25 16-28 8-36 14-28 98 0 0 2-13 20-4 20-6 16-4 20-21 20-6 20-2 4-7 6 4 4 2 6-3 7-14 13-1 7 1 16-9 20-7 27-14 30-18 23-11 28-3 4-11 5-3 3-4 20-12 40-24 20-14 34-8 10-24 13-17 20-26 13-10 13-4 3-23 5-17-4-13 2-47 1-63-19-10-7-14-17-10-15-21-15-3-7 4-10 0-7-3-3-12-6-12-15-14-12-6-20-12-17-4-16-10-12-6-15-10-17-8-26-8-14-6-13-5-17-4-19-13-21-4-24-3-2 3-8-1-2-5-2-10-7-12-21-4-10-2-23-13-20-7-17 1-7 8-6 0-4-5-5-13-3-4-5zM2388 2324l0 64-8 0-7 2-23 10-17 12-7 11-23 29-13 26-13 12-1 10-2 7-26 30 5 10-1 10-9 13-8 20-20 37-3 13-13 27-10 29-9 16-10 31-7 8-8 5-1 4 2 10-7 16-4 17-13 17-2 23-9 27-8 13-13 37-16 20-2 16 1 20-14 40-8 13-15 18-7 22-15 34-11 12-6 11-8 10-2 20-7 27-21 26-6 20-14 19-10 8-2 3-4 17-12 13-8 17-7 5-27 9-15 19-6 10-8 7-7 2-17 1-13 5-10 1-47-2-43-4-14-5-13-11-17-5-10-11-17-9-6-5-7-20-15-14-9-16-2-7 3-7 0-4-14-2-3-2-7-22-10-7-8-9-2-7-3-17-8-10-3-13-5-7-11-6-2-4-3-10 1-16-15-20-11-27-3-13-14-17-2-23-6-17 2-10-1-6-2-4-15-10-17-30-4-23-11-17-2-6 0-10 4-14-2-4-12-9-6-17-10-13-2-7 2-16-7-14-5-13-10-17-1-20-2-5-7-5-1-3-4-27-4-6-13-13-5-17-19-33-3-10 2-17-10-4-5-6-2-10 1-15-14-9-5-6-8-17-7-23-15-20-11-24-19-29-15-14-12-16-4-14-12-3-29-1-12 1-7 3-8 14-16 16-13 20-16 14-16 36-8 10-7 14-12 13-2 20-11 20-14 40-7 13-7 17-11 17-7 29-3 10-21 40-20 10-7 7-1 3 13 4 3 3 0 7-10 16-3 17-12 20-5 23-14 17-13 27-2 6 0 17-8 17-1 13-7 23-9 14-12 40-4 4-13 6-3 4-3 15-3 14 0 20-3 13-5 7-13 9-3 4-2 10-6 10-5 13-5 10-3 24-4 10-12 11-17 5-12 34-15 10-9 13-6 17-14 27-22 23-22 11-20 1-7 10-3 3-50 7-53-3-17-7-20-3-11-6-28-30-6-3 0-151 2 0 8 14 10 27 21 23 21 30 15 13 9 14 6 5 16 8 10 1 30-4 10-4 7-4 15-16 12-19 23-27 23-38 12-22 12-19 16-35 13-16 6-20 12-14 2-6 1-14 2-10 13-13 4-6 1-20 3-10 8-17 11-33 8-14 7-20 6-11 12-35 9-14 9-19 7-19 7-7 6-1 7 1 3 0 4-4 0-5-4-2-6 1-3-5 2-23 7-23 12-17 0-17 2-6 10-20 5-20 9-17 6-16 10-14 10-23 13-16 1-17 12-30 4-3 9-4 2-3-1-17 3-10 10-15 5-15 11-20 4-4 14-6 4-3 3-17 8-20 8-12 5-5 18-9 10-11 20-7 17-11 23-3 20-1 27 3 17-5 13 2 40 14 5 5 8 13 14 6 11 8 4 6 8 20 16 17 5 27 23 26 10 30-7 7-2 7 5 2 4-2 3-12 10 2 6 6 6 24 10 16 4 20 15 34 4 13 8 17 3 20 22 26 8 34 6 13 4 14 8 16 0 16 18 17 2 10 2 20 15 30 5 17 4 18 14 22 9 29 19 41 5 16 1 7-2 7-5 6 0 4 2 1 13 0 9 9 6 13 4 16 7 14 7 23 17 27 4 19 3 8 16 19 34 62 12 12 5 20 13 14 17 7 27 20 10 2 10-1 23-6 23-16 26-27 14-10 3-3 3-14 14-23 7-17 10-15 9-28 8-13 13-17 6-17 7-12 5-11 15-29 9-27 12-17-2-10 1-7 13-16 5-10 14-47 11-17 13-10-2-16 6-12 0-18 9-20 0-17 4-13 13-20 8-19 24-18 2-3-2-20 2-5 7-7 2-5-4-13 0-7 16-33 7-30 14-17 4-10 8-13 10-40 5-10 12-12 8-21 8-10 17-7 2-3 1-17 9-17 5-16 8-17 8-8 17-3 1-2-2-7 1-7 14-13 7-10 6-4 40-11 26 1zM1516 3027l-3 2 3 3 3-3zM826 3506l2-7 4-3 13 0 7-5 0-7-13-8-2-4 0-6 9-24 9-13 10-23 4-10 1-20 16-23 6-20 10-13 12-24 5-27 12-16 1-17 3-7 7-4 13-2 4-4 1-6-9-17 0-10 21-27 6-16 14-25 10-9 2-6 2-14 6-6 10-5 17-4 1-5-3-13 2-7 33-34 40-17 17 1 37-4 23 3 33 3 30 12 20 18 17 12 13 23 10 10 3 7 3 13 9 13 5 17 10 8 4 5 2 7 1 13 3 4 10 2 5 4 4 20 8 14 12 16 0 20 14 17 3 7-1 13 5 20-6 13 0 4 3 2 10 1 7 3 13 24 3 6 1 13 2 7 11 11 3 6 3 17 5 13 1 20 17 16 11 30 2 7-7 20-5 10-1 5-42 0-1-3-3-2-3 1-2 4-24 0-3-32-19-33-5-17-8-16-5-30-12-14-6-19-6-10-4-14-10-16-1-24-11-20-8-22-17-21-12-27-8-13-7-20-19-30-7-17-12-16-16-17-8-13-14-10-9-10-7-2-14-1-16 3-17 10-14 12-12 18-7 16-9 14-9 20-16 20-7 23-23 38-7 22-8 13-6 20-13 17-6 15-13 21-3 24-8 26-13 25-10 11-3 0-10-2-7 0-6 2-6 4-1 7 4 3 14 7 4 3 1 7-10 17-1 13-8 17-2 18-87 0zM2388 2997l0 65-12-2-6 1-7 3-17 12-23 25-33 49-30 59-10 14-12 20-4 16-18 37-5 17-15 20-4 29-2 7-8 10-12 8-4 5 0 5 5 5-1 4-13 10-3 6 0 7 4 17-1 10-13 16-8 27-3 5-9 8-4 12-80 0 4-8-1-17 3-13 5-10 15-18 8-16 1-23 6-13 4-20 15-20 13-47 2-16 5-7 9-9 10-24 0-17 7-10 6-17 4-5 10-5 4-4 6-29 7-14 11-36 13-13 32-44 9-6 18-9 4-5 7-16 12-10 4-13 7-7 6-2 27 1 20-7zM1499 3516l3-1 4 2 4 7-14 0z"/>
<path fill="#0000cc" d="M870 2182l1 8 3 14-1 3-11 8-1 5 1 4 12 10 2 10-7 16-1 14-3 6-6 6-11 4-2 4 5 20-2 13-4 5-6 3-10-2-5 1-1 3 2 7 2 19-1 10-4 8-12 6-3 3-2 30-6 20-13 20-17 16-3 24-4 10-3 4-14 9-3 4 1 13-2 7-9 10-5 10-8 12-7 17-10 9-13 21-7 6-20 11-24 19-20 11-10 10-26 4-44 2-26-4-34-15-10-7-23-27-15-7 0-120 5 2 8 9 16 37 22 23 9 13 7 14 5 4 13 4 30 15 23 1 24-5 33-28 14-21 9-25 18-19 18-23 5-23 9-14 11-11 7-12 11-27 9-16 3-17 3-9 20-31 2-16 18-32 10-8 7-8 3-19 3-4 8-6 1-3-2-4-7-3-1-3 0-7 6-17 17-16 0-22zM685 2550l0 3 14 5 2-1 0-4-3-3-6-1zM1436 2182l62 0 1 13 11 12 6 20 14 27 6 16 8 17 1 23 3 14 15 10 10 29 15 20 12 30-4 20 1 7 12 4 3 4 7 19 9 20 6 23 3 3 12 5 7 5 10 17 13 12 11 21 10 14 6 13 7 8 7 5 35 17 11 1 23-1 21-13 19-20 14-10 20-24 21-33 4-13 5-7 9-10 10-7 3-3 1-7-2-13 3-10 6-9 20-21 1-7 0-16 3-10 6-5 10-3 1-2 2-14 9-16 3-27 2-6 6-7 10-6 13 4 6-1 1-4-3-6-9-10-1-14 9-13 10-10 1-17 5-16 11-14 7-16 3-6 7-3 10 2 17-3 3 1 7 15 10 4 2 10-1 6-5 8-20 16-1 3 1 3 6 7 1 3-5 7-15 8 1 19-16 16-1 4 3 10-11 26 2 17-2 3-13 12 0 21-7 20-13 24-14 13-9 23-16 14 0 20-5 16-10 17-13 10-3 10-17 27-8 20-5 4-20 11-22 25-21 13-13 12-17 4-13-1-24 3-33 0-10-1-14-7-19-7-14-9-13-3-7-4-14-14-6-17-13-10-5-6-8-20-16-13-19-27-1-7 2-2 7-2 2-6-1-3-5-2-10 0-10-6-15-32-6-17-10-10-4-6-5-30-3-5-8-5-4-7-7-23-1-19-6-11-7-6-4-6 0-8 4-13-2-7-5-7-11-6-6-7-7-13-10-34-10-16-1-7 5-13 1-7-1-4-10-13zM1895 2547l-1 3 2 1 4-1-1-4zM1902 2520l4 4 7 0 13-5 3-2 0-4-3-3-3-1-14 0-5 4zM1984 2413l-1 4 1 3 5 3 3-3 0-3-3-4zM2101 2182l17 0 0 2-9 5-5-2zM430 3306l0-132 2 0 5 9 9 23 18 20 10 17 14 19 14 11 8 16 4 4 20 6 18 2 23-1 26-7 6-10 8-10 8-14 15-16 34-50 13-27 34-54 20-39 10-15 10-12 2-10 7-10 1-13 6-13-1-14 1-6 13-24 12-36 9-14 11-40 5-8 7-4 3 0 7 8 3 1 3-3 0-7-9-20 1-7 5-12 4-5 3-2 3 0 3 3 4 14 3 1 4-5 1-7-2-10 7-20 0-7-5-10-2-6 6-27 12-20 4-23 12-20 0-12 7-10 6-24 14-17 3-17 5-7 10-6 4-20 4-7 12-3 5-4 0-6-5-10 1-4 9-13 1-17 2-6 4-4 8-3 6-7-5-13 2-8 7-7 7-3 23-5 14-37-1-6-3-7 1-4 13-13 6-3 10-1 3-2 10-13 30-15 27-9 13-1 31 3 13-1 20 8 23 6 6 5 4 12 3 4 14 6 10 8 4 6 8 20 15 13 1 4 1 13 2 7 4 7 10 10 7 13 8 13 1 7-4 20 2 3 4 2 20 3 4 4 2 8 1 11 10 12 2 7 4 17 0 16 11 11 12 16 4 10-1 17 24 30 5 19 1 14 10 16 9 37 4 7 10 10 4 6 4 27 16 27 12 43 9 17 4 16 12 20 15 37 4 20-5 13 0 7 7 6 13 1 7 6 3 20 13 23 6 24 17 23 11 32 32 48 18 34 9 9 5 20 14 14 15 3 7 4 22 19 28 2 23-8 20-14 34-29 13-9 8-25 19-30 8-10 5-23 3-11 7-10 12-13 7-13 5-17 9-16 7-9 5-18 8-17 4-13 3-6 3-3 7-2 10 7 3 1 14-5 4-5 1-7-8-10-1-3 10-4 4-3 1-3-1-7-10-13 2-37 8-12 4-11 15-13-1-17 8-17-1-16 3-7 8-7 2-3-5-13 0-7 2-7 15-23 20-27 6-4 17 2 3-2 0-3-11-9-5-14 2-6 8-9 2-5-1-19 9-20 13-17 2-23 4-7 10-10 3-13 10-24 5-20 6-7 11-3 6-5 1-5-3-16 4-14 5-6 16-6 7-8 2-20 11-23 7-22 7-6 13-1 13-14 0-14 7-7 7-4 10-2 20-15 10-3 13 1 23-5 22 0 0 57-12 0-6 1-25 11-17 10-7 13-18 20-20 30-13 13-2 7 0 10-3 7-12 13-14 13-1 7 5 10-1 7-8 13-15 37-14 20-12 33-9 17-3 13-8 17-9 29-5 7-16 6-3 4-1 10 5 10-1 10-7 17-10 10-7 12 0 4 3 14-1 6-20 44-6 23-6 8-13 10-7 9-1 10 2 20-2 20-10 30-18 23-9 23-14 27-12 13-7 13-13 10-1 4 1 16-15 47-16 27-13 16-12 12-7 18-14 10-3 17-2 5-8 5-16 3-36 37-7 2-10-1-20 9-20 3-30-1-27-5-13-1-10-3-13-11-17-5-10-13-14-7-5-4-2-6 3-14-2-4-14-4-6-4-9-18 0-6 2-14-1-3-6-2-10-1-6-4-3-6-4-17-3-4-10-3-4-4-3-20-4-12-9-10-7-12-8-8 0-7 5-10-1-10-6-5-13-6-7-9-9-23-2-17 1-3 13-5 3-2 2-3-2-7-6-6-10-6-3 3-4 13-3 5-3-1-3-5-1-12 3-11-6-10-1-10 1-10 4-6-1-8-3-4-3-1-10 3-4-1-16-19-5-7-5-23-10-17-2-7 1-6 7-14-1-3-13-17-6-13-10-11-2-6 4-6 19-10 6-10 0-8-3-4-4 0-3 2-7 13-6 5-4-1-5-4-7-20-13-20 0-10 2-20-1-3-10-10-9-17-13-16-14-34-1-10-9-8-3-5-1-7 4-16-3-5-13-5-3-4 0-6 3-14-6-6-12-7-6-6-5-11-9-30-16-16-6-10-9-24-15-20-18-16-11-24-18-6-19-2-21 1-13 5-11 16-14 13-12 19-17 14-12 17-6 17-7 10-7 16-7 7-14 7-1 6 6 10-1 7-9 13-3 17-8 13-4 10-6 7-3 17-3 6-14 20-3 20-9 27-8 14-11 9-10 13-13 11-5 6-2 7 1 7 3 3 7 2 1 4-5 21-10 16-9 30-4 7-10 10-4 13-8 13-20 20 0 10 9 20 0 7-4 12-13 18-5 20-5 8-7 3-10-2-3 2 0 3 2 3 8 1 1 2-1 3-8 10-4 17-9 16 2 20-2 10-4 7-14 13-5 14-9 13-7 17-2 6 3 14-4 13-10 10-7 2-10 1-7 4-3 6 1 10-7 17-7 7-10 3-9 13-1 20-7 12-27 32-7 4-16 8-14 3-20 12-40 10-33-1-27-6-13-10-17 1-8-5-12-14-20-16zM1446 2826l-4 0-4 4-4 6 1 4 4 0 7-4 2-6zM2176 2585l-3 2-1 3 4 4 4-1 0-3 0-3zM910 2667l0 3 2 3 7 4 10-2 4-5-1-3-3-4-10-3-4 0zM836 3512l3-6 13-7 6-10 0-7-9-13 0-7 5-13 7-10 5-20 11-20 2-20 3-5 12-12 8-16 10-4 2-3-5-10 0-6 4-10 9-14 5-26 9-14 7-20 16-10 13-16 2-14-5-13 0-7 6-10 10-10 7-16 12-14 11-36 4-4 6-4 14 0 3-4 7-15 3-10 5-10 22-23 33-16 13 0 17-5 17-2 20 1 43 7 27 13 23 24 14 11 4 10 0 3-5 10 4 12 13 7 17 21 9 20 5 17 13 18 10 8 10 14 13 23 1 7-5 13 1 7 10 4 6 5 4 4 3 7 0 11 3 16-4 16 2 10 6 7 10 3 4 4 7 13 2 13 4 10 17 17 3 10 1 16 5 10 4 17 3 5 13 15 5 13 2 10-2 24-4 18-31 0-3-7-7-5-7 1-10 6-3 0-4-10 2-20-5-10-12-17-6-16-13-24-2-10-1-20-2-4-10-9-4-18-7-15-4-13-8-14-7-24-11-19-6-20-5-10-20-27-4-13-9-13-5-17-22-33-5-16-17-21-14-13-3-14-3-2-13-6-13-12-24-3-17 3-16 7-27 28-7 5-4 17-10 13-7 17-19 23-7 24-25 40-6 20-10 13-2 7 0 10-2 6-8 8-13 10-9 12-3 24 0 19-7 17-2 10-2 6-7 6-10 5-10 10-20 10-11 13 2 3 16 7 6 7-1 6-9 10 0 17-7 10-5 13-14 4-4 3-2 5-47 0zM906 3366l-1-2-2 2 2 1zM2388 3000l0 57-15 0-14 2-19 16-17 18-17 21-11 19-10 13-17 33-9 14-5 13-12 13-18 27-1 13-7 21-8 13-4 16-4 7-7 7-5 6-2 24-3 13-5 6-12 9-9 15-1 10-6 16 1 24-1 6-4 6-13 11-5 23-4 7-10 10-3 15-53 0-1-8-5-17 0-7 7-10 14-10 4-16 9-14-2-20 8-16 5-20 10-17 19-63 13-19 10-21 4-13 13-8 6-9 8-40 9-20 4-17 3-5 10-10 3-11 12-24 19-20 14-13 2-4 7-6 17-21 22-19 4-10 4-2 6-2 7 1 33-13z"/>
<path fill="#0000e5" d="M867 2182l-2 20-3 4-9 4-1 4 4 10 9 10 3 6 0 4-6 10 0 20-7 6-16 2-5 8-2 10 10 17-2 7-5 2-16-2-4-2-4-12-9-6-2-4 5-16 2-14 5-6 12-7-3-7-9-10-1-3 0-7 5-10 6-5 10-4 14-1 3-2-4-4-6-3-4-4-3-7 0-8zM832 2258l-3 2 0 4 3 5 3 3 4-4 0-4-1-4zM1443 2182l16 0 0 5 3 4 2-9 28 0 2 18 10 10 8 27 0 7-6 6 13 5 7 8 11 24 7 43 11 7 3 3 6 13 6 17 12 14 11 23 2 10-6 26 0 12 3 1 10-3 6 4 5 13 12 20 6 23 5 5 10 5 5 4 10 16 15 11 23 46 20 17 34 15 10 1 26-1 23-12 17-18 14-9 21-23 12-16 7-3 10 6 7 0 4-4 4-6-4-10 0-4 10-6 19-7 2-3-2-7-13-10 2-13-2-17 1-7 5-7 11-6 8-13 4-14 0-13 1-7 6-4 10 0 4-2 2-24 10-13 3-13-1-17 2-5 7-4 20-1 6-3 1-7-7-16-1-10 6-10 11-6 4-4-3-24 4-13 15-26 4-4 6-2 20 0 7 10 10 7 2 5-4 7-22 20-2 6 4 10-1 3-14 7-1 7 3 13-3 7-10 10-4 7 0 13-11 26-1 14-8 10-3 6 1 17-6 21-15 26-15 12-14 8-1 3 4 7-1 3-11 8-4 5 1 7 5 13-2 14-7 11-7 8-6 2-10 0-3 2-1 3 3 10-1 7-22 40-6 6-17 11-4 6-27 27-16 9-10 8-46 9-37-1-7-1-33-15-42-26-5-6-3-10-7-15-7-1-6-4-4-5-6-15-14-11-9-13-4-10 5-16-3-14-2-2-10 0-7-3-9-11-5-10-5-17-6-10-11-10-4-5 1-15-6-23-11-6-5-8-6-20 1-13-2-10 4-16-1-7-5-2-10 6-3-3 1-4 5-7 0-3-7-10-14-14-5-6-2-7 1-7 14-6 1-4-7-13 8-7-1-3-7-6-7 0-4 3 0 3 7 10-4 3-6 2-3-1-3-4-1-13-6-14-2-16 0-14-11-10zM1522 2297l0 1 4 0 1-1-1-1zM1979 2410l-2 7 6 8 6 4 7-4 2-5-2-7-4-3-6-2zM2043 2247l1 3 5 3 4-3-4-4-3 0zM811 2330l5 14 3 26-2 3-4 4-14-1-4 3 4 18-1 23-3 13-3 5-3 2-14-4-3 2-2 5 4 14-1 3-12 13-3 30-4 7-12 7-7 6 0 17-16 23-4 2-3-2-6-16-4-4-17 2-6 5 0 3 2 4 14 5 11 11 3 7-1 7-6 7-10 4-1 9-6 9-9 11-31 27-17 11-26 15-37 6-37-1-23-7-17-11-13-6-27-26-13-20-5-2 0-99 2 0 8 9 4 14 12 23 23 23 16 32 20 3 30 15 24 0 29-6 30-27 18-30 8-17 16-16 17-24 9-26 16-19 14-28 7-17 10-13 1-20 3-7 11-16 17-20-3-5-1-5 4-7 7-5 10-1 10 1zM779 2347l0 3 10 8 6 1 2-2-1-4-4-3-7-3zM729 2477l1 3 9 12 3-1 1-4-1-7-6-3zM430 3298l0-58 6-4 2-7-3-6-5-1 0-41 2 0 5 8 5 17 3 6 13 13 11 18 11 13 8 14 10 9 9 14 18 6 15 4 18 1 16-1 15-4 17-6 6-9 9-8 6-13 15-12 19-35 18-23 10-27 23-33 7-4 3 4 2 6 5 1 1-7-4-10 2-17 11-16 14-27 13-14 9-20 2-13 9-10 1-3-4-17 0-6 3-7 11-10 4-7 3-10-1-13 1-7 11-17 4-19 10-14 3-2 13-4 7-7 1-7-5-20 2-6 2-3 8 6 5 1 4-2 3-6 4-16 0-14 2-13 0-33 5-17 10-20 3-20 3-6 3-4 7-3 13 3 17-2 2 2 1 7 3 2 4-2 2-4-2-4-6-2 0-10-1-3-22-17-2-7 1-10 4-10 12-12 7-2 7 4 3 0 11-13-8-30 0-10 4-6 13-5 6-6 1-6-3-10 12-30 14-15 13-9 2-3-2-4-3-3-8-3-1-3 12-10 20-7 3-3 5-27 10-20 12-16 4-1 22-20 21-11 17-7 26-6 44 4 20 9 17 4 6 4 6 13 8 7 13 6 8 7 3 7 6 17 11 13 12 33 7 7 6 11 12 12 1 7-2 7-9 13 6 7 19 5 7 5 2 6-3 17 11 2 6 5 4 10-3 16 9 18 19 19 4 7 0 10-9 8-1 5 14 7 20 23 3 16-2 14 1 6 13 10 3 7 3 27 18 20 3 6 4 34-1 10 1 3 2 3 12 6 2 4 5 17 18 40 2 19 11 11 8 17 11 43-2 20 12 16 2 14 14 10 14 20 3 20 21 26 15 37 2 13 12 10 7 13 10 10 17 32 6 9 2 6-1 14 2 6 14 9 10 0 13 3 14 9 6 9 17 4 20 1 11-1 12-6 24-15 13-13 13-9 20-16 6-21 6-10 15-20 17-14 2-3-5-10 0-10 3-10 6-8 7-3 17 11 6 1 6-1-1-7-13-20 5-8-1-18 7-14 10-10 2-20 5-10 8-10 4-13 5-1 7 3 6 0 18-5 5-7 7-20 1-6-3-14-7-13 0-13 5-17 14-10 0-3-5-14 1-3 11-10 0-20 9-17 2-16 12-8 4-6-2-6-7-10-1-7 1-3 5-6 10-1 3-3-1-10 1-4 7-7 7-15 3-4 4-1 16 0 9-3 3-3 0-3-5-5-14-9-3-6 1-7 7-10 6-14 2-2 11 2 4-2 0-7-5-7-2-6 3-7 10-10-1-27 5-9 10-6 20 4 4-2 2-3 0-10-2-7-4-3-10-1-4-3 2-10 10-26 18-10 4-7 1-7-3-16 4-10 4-4 14-3 8-10 1-7 1-16 12-24 7-20 14-5 7-11 12-14 2-6 2-4 10-2 7-4 17-15 40-11 28-1 0 53-18 0-44 18-3 3-8 16-12 12-10 15-7 6-7 14-13 14-3 6-4 16-9 8-7-8-7 0 0 7 6 7-9 16 3 17-1 7-11 20-6 6-3 20-14 20-8 17-7 22-13 18-6 30-7 21-3 5-4 3-14 3-6 16-4 4-10 1 0 3 4 5 10 0 2 2 2 7-4 8-4 1-6-4-4 0-6 4-3 4-1 17 2 20 4 10 0 6-12 26-13 18-4 14-10 6-4 13-13 20 0 27 2 16-3 7-7 10-1 17-16 19-5 18-4 9-8 10-15 13-5 14-6 10-13 10-2 20-9 16 1 20-2 14-3 6-34 40-13 24-20 10 0 4 2 9-3 10-12 6-24 22-20 14-30 12-16 5-17 1-27-2-36-9-17-12-13-5-6-9-8-7-10-5-13-33-14-8-7-10-2-7 1-10-2-6-6-4-14-2-3-4-2-7-2-23-3-3-10-1-3-3-5-27-2-3-11-7-3-6 1-10 10-10 0-4-3-2-10 0-10-22-14-4-3-2-4-6-1-14 2-3 6-2 3-5-3-6-4-4-1-3 4-10-2-10-11-13-9-20-10-3-3-4 2-16-2-10-7-7-14-3-16-16-4-8-4-16-9-17-1-10 8-17-7-16 11-17 0-7-4-5-7-4-10 8-3 0-3-2-3-7 3-4 8-6 3-3 6-13 0-10-4-8-7-2-8 6-5 11-3 2-4-1-4-15-13-20-3-10 3-20-2-7-14-15-19-28-9-23 0-10 11-13 1-7-21-1-5-2-2-7 2-10 0-7-5-5-10-5-3-3 3-17-5-6-19-17-10-23-6-24-3-4-10-3-6-6-11-30-12-17-18-13-13-23-6-7-23-7-14-1-18 1-13 4-7 3-13 17-15 13-9 17-19 16-7 9-23 49-7 6-13 5-3 5-3 10-1 10-4 10 1 20-10 13-10 8-4 5 1 20-4 7-10 7-1 3-3 27-7 16-4 17-5 7-13 11-8 15-16 13-3 6-4 21 1 7 5 10-1 6-4 3-10-1-4 2 0 3 7 7 2 6-2 10-4 14-5 6-11 8-6 19-6 13-19 17-1 10 10 23-1 10-5 10-14 17-4 17-4 3-13 2-7 8-1 7 3 13-1 16-3 7-14 17 6 13-1 10-4 7-13 13-6 17-6 5-10 5 3 10-6 16 4 10-1 9-6 8-7 3-10 2-19 15-1 3 1 17-4 10-4 1-13-1-3 3-2 14-2 10 0 13-4 10-33 32-33 19-20 10-27 8-13 1-30-1-23-6-26-13-8 0-4-3-12-14-17-13zM1087 3026l25-13 27-8 23-3 24 2 33 7 21 12 4 3 5 10 10 7 20 22 10 31 7 3 5 4 16 23 7 33 14 14 5 10 3 10 10 4 4 6 0 10 8 16 1 20 2 7 15 1 3 3 3 6 1 13 3 14-3 20 1 26 2 6 6 4 10-2 4 2 16 28 10 9 5 6 0 24 8 13 3 17 14 14 7 16-2 16 2 14-4 18-21 0-2-5-11-13-5-13-28-31-2-16-10-9-10-19-3-12 1-17-12-17-12-39-9-14-22-46-10-28-10-16-11-13 1-20-10-7-11-23-18-23-7-20-29-30-2-7 1-7-1-3-6-3-14-4-13-10-10-4-27 0-7 1-16 6-27 27-13 8-3 16-10 13-6 17-15 14-7 16-4 16-9 15-12 9-8 8-6-1-12-7-12-1-3-3-1-6 1-14-3-10 1-3 19-23 3-3 10 2 3-1 3-5-1-10-3-20 5-18 6-6 7-2 7 1 3-4 7-18 10-14 8-9 12-10zM1414 3439l2 3 3 1 8-4-3-7-5-2-3 2zM2388 3002l0 53-29 1-6 3-20 17-30 35-23 35-17 33-11 10-6 15-3 3-13 2-3 4 1 13-5 9-3 2-5-1-9-18-3-1-3 1-5 5-1 6 4 10 1 10 2 4 9 1 3 2 2 7 0 6-5 10-9 14-2 10-2 6-10 10-9 14 0 3 2 10-2 10-5 5-10-1-3 2 2 14-2 6-8 14-6 30-1 23-6 8-10 4-3 0-10-6-3-1-1 2 1 6 10 11 1 9-3 10-13 17-5 15-14 0 0-2-3-2-3 0-4 2 0 2-15 0-5-22 2-10 8-7 14-5-2-14 2-9 3-4 12-4 4-3-10-14-1-10 12-23 1-13 8-17 16-53 16-23 9-21 28-43 4-10 2-23 13-28 12-15 6-20 8-16 17-23 13-8 9-20 10-13 15-14 23-18 20-10 20-7 20-2zM1005 3224l5 5 3 14-1 6-13 17 0 17-3 6-4 4-13 6-13 20-1 39-3 8-14 10 4 13-3 4-14 9-10 10-16 8-26 22 1 4 5 3 16 0 10 3 2 4 0 3-8 10-5 10-11 10-3 7 1 6-12 15-3 7-33 0 2-12 14-16 3-7 1-7-6-13-1-7 4-10 11-10-3-13 3-10 18-35 15-2 12-13 1-16 5-9 1-5-7-13 0-7 11-13 7-30 12-27 19-22 14-10 6 0 4 2z"/>
<path fill="#0000ff" d="M837 2182l27 0-2 11-3 4-4 1-13-3-4-5zM1471 2182l16 0 3 25 2 4 7 7 6 12 0 7-3 4-6 1-10-6-12-2-5-4-5-13 0-7 6-13zM2059 2201l17 3 10 13-2 7-21 22-23-9-2-3 2-7 9-19 4-4zM825 2218l7-2 7 3 13 9 8 9-1 7-7 10 5 13-2 7-3 1-5-1-2-4 1-13-2-3-15-4-7-6-5-7 1-10zM2046 2262l3 2 7 26-3 7-10 10-4 7-1 13-13 36-11 20 1 14-2 10-4 7-3 1-10-7-17-5-2-3-1-23 3-5 11-9 9-13 1-6-2-14 8-5 13-2 4-3 2-6-7-20 1-11 4-4 13-7 7-10zM819 2266l3 1 3 2 6 11-5 24 3 10-4 3-3-2-6-8-7-5-3-5 4-13 0-10 2-4zM1506 2265l6 0 5 2 5 6 4 7 0 4-11 10-1 6 2 6 3 2 13-2 4 3 2 8-3 13 2 4 13 6 6 6 5 11 6 20 12 10 10 20 1 10-8 40 4 4 14 6-5 10-1 3 5 2 10-3 7 3 3 4 4 7 5 24 4 4 14 7 4 5 6 12 13 8 7 6 14 38 4 6 22 16 23 9 10 5 24 2 23-3 20-11 17-16 10-8 13-15 10-9 10-14 7-2 16 4 4-1 11-10 2-3-5-10 0-4 8-5 17-4 3-4 0-10-12-13-3-27 2-6 3-3 14-2 2-2 3-10 8-37 7-2 6 2 5 10 9 10 6 4 8 3-2 6-12 12-14 6-13 13-4 26 9 13-2 11-6 9-7 7-17 3-8 4 0 3 6 13-1 7-3 8-14 22-6 7-14 9-5 11-11 13-24 20-23 13-30 9-27 3-26-3-27-10-23-13-27-22-12-17-5-15-7-1-6-4-7-17-17-12-5-8-3-10 3-13-1-27-4-2-13 3-7-4-6-7-2-6-1-10-2-7-7-10-14-13-1-4 1-3 9-7 0-7-3-4-7-2-3-3-4-14-3-3-10-5-3-5-6-17 2-13-2-13 6-27-10-13-10-4-16-13-4-6 0-7 3-3 12-7zM791 2334l8-4 6 4 3 6-2 7-4 0-8-3-4-7zM1352 2533l-2 10-14 20-4-1-16-12-14-16-10-16-3-11 0-17-2-7-5-4-10 0-6-5-9-24-7-13-2-10-2-4-10 2-7-3-8-9-3-10-5-6-7-7-20-7-17-2-28 2-11 4-5 3-11 13-12 10-7 3-6 1-2 3 1 7 0 6-5 7-14 12-7 9-15 29-6 17-6 6-17 7-14 23 2 30-6 10-18 17-2 20-5 4-6 2-7-2-3-4 1-7 8-13-9-32 0-8 3-3 13-6 17-11 2-3-7-14 2-8 3-3 10-2 3-2 3-5-2-10 2-6 17-14-8-16 0-4 5-5 13-4 5-4 4-27 9-20 14-16 32-25 26-14 24-6 23 0 30 5 19 10 12 3 5 3 4 7 30 25 4 5 10 28 15 25 6 20 8 10 11 8 4 6-1 6-3 2-14-1-3 3 3 14 4 4 10 7 20 3 5 5zM2388 2332l0 49-22 1-10 4-15 4-21 10-7 17-13 12-9 14-11 10-6 14-11 13-10 17-16 0-10 3-1 3 6 14-3 13 2 20-2 7-4 6-5 7-14 3 3 10 1 17-10 15-13 25-5 20-15 17-4 29-3 11-7 8-7-5-13-1-16-6-2-3 1-4 10-17 3-2 10-2 7-6 2-6-3-16 3-7 8-8 11-5 3-4 0-3-4-5-10 0-3-2-1-6 1-7 3-4 4-1 20 2 6-1 5-3 0-26-2-4-9-3-4-3 0-4 10-13 0-7 2-3 12-8 4-9 4-10-3-13 1-6 4-3 10 1 3-3 10-16 2-6-2-14 3-7 4-3 3 0 7 5 3 0 3-5 0-3-10-6 0-4 5-13 9-9 7-15 23-24 33-23 30-12 17-2zM782 2362l3 5 0 3-5 7 0 3 9 7 2 6 2 20-1 14-3 4-4 1-10-2-3 1-5 9 0 17-1 3-7 6-7 3-13 1-10-1-7-2-2-4 2-6 11-17 5-17 13-16-1-14 4-10 18-21 3-2zM741 2503l0 7-13 13-1 4 2 10-1 3-6 6-3 2-4-2-3-6-1-7 5-10-2-3-5-3-4 0-3 3 0 13-2 4-5 3-16 3-4 4-2 6 1 4 5 3 13 4 5 6 4 10-2 6-12 1-6 3-3 23-7 14-13 13-16 14-24 15-20 9-20 5-23 2-27-3-20-6-26-15-14-9-22-22-11-21-5-1 0-56 12-6 3 2 3 4 3 11 2 4 15 9 7 7 7 14 6 16 3 4 7 3 7-1 10 2 27 13 26 1 25-5 9-3 6-7 20-16 17-27 7-6 7-4 2-4 1-10 12-13 7-13 11-14 6-20 7-10 7-3 13 4zM430 2519l3 1 3 7-1 6-3 4-2 0zM1362 2560l4 0 2 3 1 4-3 4-9-1 1-7zM1336 2564l14 9 2 7 2 3 18 10 8 14 18 16 3 7-1 3-12 10 0 7 4 6 9 7 5 10 13 4 6 6 2 13-1 24 3 4 8 6 1 3-1 3-8 10-1 14-6 8-3 1-3-1-7-5-7-10-4-10 1-20-3-11-4-6-16-15-16-28-3-10 0-6 11-20 1-10-3-3-18-1-5-3-1-20-2-3-11-7-2-3 2-6zM935 2619l7 0 5 4 3 7 0 13 2 4 10 3 3 3 1 10-4 6-3 1-4-1-9-9-21-13-2-7 1-7 5-8zM924 2690l5 3 7 13-3 20-4 7-17 10-1 3-4 24 1 16-2 4-21 9-3-2-1-7 4-40 3-10 4-7 10-5 2-5-3-20 1-10 3-4 4-2zM2115 2750l1-4 10-2 4 2-1 6-3 3-7-1zM2106 2764l3 2 5 7 0 7-13 10-4 13-8 8-6 1-7-7-2-9 15-6 3-4 5-16 2-4 4-2zM1449 2773l3 0 7 3 7 10 2 27-2 6-4 4-3 0-3-2-13-15 0-6zM895 2810l4 3 3 7-3 12-7 8-10 3-3 3-2 14-8 23-5 7-12 7-4 6 1 13 8 20-3 14-4 6-21 20-5 10-16 20 0 7 5 13-2 13-9 11-7 2-6 0-7 5-7 2-3-3 3-8 6-5 3-23 12-10 1-4-8-16 0-10 3-4 12-10 8-19 10-14 0-7-1-6 3-27 8-10 17-11 5-6 3-6-1-17 3-3 13 0 3-4 2-13 5-10 3-4 4-1zM2099 2820l4 2 2 4 3 17-1 7-8 17-13 12-7 16-11 11-3 14-2 5-15 15 0 6 4 7 2 7-1 23-10 20-3 13-4 3-7-5-1-8 1-7 10-13 0-3-15-30-1-7 1-6 5-11 14-5 3-4 2-10-4-14 8-13-3-17 2-6 15-19 5-11 5-5 10-6zM1459 2833l3-2 22 19 24 53 1 7-5 13 1 3 3 4 14 6 8 14 5 30-2 13 4 10 1 10 9 13 3 7-1 8-3 7-4 0-3-2-2-3-5-20-9-13-4-14-22-40-8-8-10-5-13-13-5-14-14-23-1-10 9-13 0-4-6-10-2-6 3-7zM1022 3103l7-6 10 0 3-3 3-11 6-14 18-21 23-20 23-13 27-9 24-3 26 4 30 10 30 24 18 18 11 17 6 20 2 3 7 3 3 4 13 20 6 23 2 14 2 3 10 7 3 6 1 7-4 13 4 5 10 4 3 3 13 22 3 16-1 7-4 10 0 3 6 1 13-5 3 0 4 3 3 28-3 17-4 2-3-2-3-11-4 3 1 8-4 10-3 2-8-6-15-26-4-14-8-13-15-40-10-10-2-7 4-10-1-6-23-30-19-20-3-7 0-10-31-33-3-7 4-7-1-3-5-4-7-3-13-2-7-3-10-8-13-3-24 0-24 6-6 5-20 22-16 7-2 3-2 13-12 17-3 13-15 12-7 15-4 7-1 13-5 11-6 6-20 8-18-5-4-3 0-4 2-5 6-8 0-3-3-10 3-7 7-4 13-1 4-2 6-10 2-10-8-23zM1022 3173l1 3 2 2 9-2 0-3-5-3-4 0zM2388 3004l0 49-18 0-18 3-20 17-29 30-12 16-14 24-10 23-7 12-7 3-10-1-3 3-6 13-14 9-7 0-13-6-4-6 2-10 5-9 13-15 4-16 4-10 12-17 7-15 6-5 7-3 3-10 6-14 13-16 25-22 27-16 16-7 14-3zM2291 3093l-21 16 3 3 7-2 9-11zM2016 3022l5 7 4 10 0 10-1 7-15 20-13 11-9 19-14 12-4 18-3 3-3 0-7-10 0-16-5-20 3-7 13-13 1-7-1-13 2-7 5-7 16-13 19-6zM1552 3056l7-3 7 2 3 4 5 10 5 8 5 16 20 26 6 17 10 20 0 13 2 4 14 8 2 5 1 14 10 3 3 3 13 20 8 23 0 10 2 7 24 17 10 0 8 3 11 7 5 6 13 4 20 2 13 0 16-2 28-17 14-13 16-10 19-17 7-23 18-24 6-6 17-10 13-11 1-6-3-3-12-1-3-3 1-10 6-6 6 1 9 5 11 4 6 3 3 7 4 13-1 17-8 12-20 18-9 13-5 13-5 7-5 4-13 3-6 23-3 7-7 10-14 13-20 15-33 16-27 7-27 0-30-7-16-6-27-17-21-18-8-10-6-13-3-14 1-10-17-4-3-6-1-13-3-7-6-3-12-3-4-4-3-10 0-16-2-7-13-10-2-7-2-13-16-13 0-7 7-11 2-6-2-3-13-8-3-5-1-20 4-10 0-4-6-6-2-4zM1655 3253l4 3 4 0 1-3-5-2zM796 3076l1 3-1 7-5 7-11 10-1 10-3 6-4 3-10 2-4 2-1 7 3 13-7 17 2 10-6-1-4 1-14 20-12 10-3 6-1 18-3 2-10-1-9 8-1 3-1 24 1 13-3 7-34 31-30 21-27 12-26 7-27 0-17-3-20-6-26-14-27-21-13-16-7-5-1-20 2-10-3-13 7-10 5-12 3-1 10 8 9 15 13 17 4 10 0 10 26 13 22 7 30 2 21-2 27-10 5-5 7-3 6-16 17-15 11-18 10-20 21-23 3-7 0-10 2-7 17-23 3-3 3-1 6 4 4 1 7-3 3-11-3-17 1-7 11-10 5-13 10-17 3-3 3 0 10 5 14 1zM1546 3068l3 3 2 8-9 5-6-1-2-4 2-4 6-6zM430 3187l2 0 3 6 3 13 0 7-6 4-2 0zM999 3227l5 6 3 6-1 10-4 5-9 5-2 4 0 3 3 13-2 7-13 5-10 16-9 9-1 3 3 17-3 21-7 6-13 3-6 3 0 3 6 10 1 7-15 15-16 9-20 19-7 3-3 1-4-2-2-5 1-7 15-26 6-4 14-1 16-22-2-13 4-10 1-7-3-16 4-2 6 0 4-2 2-3-4-10-1-10 13-41 15-22 8-8 10-2zM2186 3234l4 2 2 3 3 17 1 2 10 2 3 3 1 6-5 10-13 14-2 13-10 14-7 5-10 1 0 7 8 13 0 3-15 5-5 5 1 3 5 10 0 7-10 17-1 10-5 20 0 20-5 7-7 2-3-1-27-19-3-6 0-7 5-10 9-13 0-13 7-14 8-23 6-30 5-8 11-8 8-24 5-7 8-9 6-17 6-8zM2156 3311l-2 2 1 3 5 3 0-4zM1372 3341l4-2 3 1 13 14 20 7 10 9 10 16 9 10 1 23 2 10-1 3-7 0-14-9-6-3-4 1-6 12-4 0-3-3-10-21 0-17-1-6-11-17-3-10-3-10zM1409 3402l-3 1-3 6 3 6 3 1 3-6 1-4zM1416 3452l6-3 14 1 23 7 10 9 4 10-3 13 4 17-3 6-5 6-7 0-9-9-4-7-4-13-27-27-1-6zM907 3456l1 3-4 10-5 8-14 12-6 17-8 13 0 5-22 0 3-12 10-16 5-10-1-7-4-13 1-7 2-3 10-5zM2103 3456l3 3 11 20 0 7-2 6-16 22-3 1-13-2-10 1-4-1-4-7 0-7 2-3 6-5 21-5 2-4-7-6-3-7 0-7 2-3 8-4z"/>
<path fill="#001cff" d="M843 2182l17 0-1 7-4 3-3 0-7-2-2-3zM1479 2187l3 9 3 18 1 3 12 10 2 3-1 5-3 1-17-9-7-10 0-7zM2059 2207l14 6 2 7-7 14-5 4-4 1-11-5-2-4 4-16 3-4zM829 2223l3 0 3 2 6 12 0 3-5 4-7-1-5-6 0-10zM819 2273l5 4 1 7-5 13-1 2-4 0-3-2 0-3 3-18zM2046 2277l3 5 2 5-1 7-17 19-4-1-5-12 0-10 19-13zM1509 2282l2 2-3 16-2 4-4 0-6-3-3-4-1-7 4-3zM1526 2314l5 0 2 3-1 3-4 0-3-3zM2013 2328l13 1 3 8-3 12-7 9-3 1-7-6-3-9 0-10 2-4zM1023 2457l2-5 16-9 3-6 0-20 7-17 12-17 19-17 23-16 24-11 20-5 23-1 27 5 33 17 20 16 20 19 11 23 3 22 6 2 8 10 4 33-5 4-16-11-14-5-15-31-1-14-4-5-17 2-7-7-6-15-9-8-17-7-21-3-21 0-26 7-13 15-10 8-7 2-10 0-3 5 1 13-2 7-14 13-18 25-4 1-16-9zM2388 2333l0 47-22 0-13 5-12 2-26 13-5 14-16 13-4 13-13 10-7 17-17 20-7 4-10 0-4-1 1-7 7-13 0-13 3-4 7 1 6-2 5-5 3-7-6-7-2-6 1-10 10-20 13-17 26-22 27-15 27-9zM1532 2340l14 4 10 9 4 10 2 19 14 8 3 6 5 14-2 6-3 0-3-6-4-3-6-1-6 4-4 10-4 2-5-12-14-10-2-3-2-10 5-10 0-4-6-13-2-7 3-9zM1986 2373l10 0 6 4-3 10 6 13-2 3-5 0-12-2-5-4 0-17 2-4zM765 2383l4 4-4 4-3 0-1-4zM782 2402l5 8 0 10-2 4-3 1-10-2-3 3-9 31-5 2-10-3-3 1-6 6-7-1-2-2 1-3 11-9 1-18 5-9 7-5 10-4 10-10 7-1zM1579 2419l4 8 0 13-4 9-8 11 13 7 4 3-2 7-4 4-3-1-3-3-4-7-1-7-9-6 2-10-1-14 2-6zM1966 2421l10 7 8 9 2 6-7 8-23 11-3-2-1-3 3-10 0-17 4-7zM1933 2465l6 1 4 3 6 11 0 10-6 13-7-2-6-8-1-23zM1039 2484l3 3-1 13-3 7-9 6-14 2-3-2 1-20 2-6 4-4 6-3zM705 2489l4-2 6-2 10 4 5 4 5 10 0 7-2 3-4 4-7 2-20-10-2-9zM1579 2493l3-6 17 3 10-4 7 2 4 9 0 16 9 10 13 7 3 3 7 15 21 12 4 10 2 13 14 25 18 12 38 15 14 2 20-1 17-3 13-6 23-18 20-23 13-9 5-10 5-5 7-1 10 3 7 0 10-8 3-1 3 2 3 3 1 7-4 8-13 22-7 4-6 1-2 8-4 10-8 11-13 13-17 13-23 13-30 11-23 2-27-2-20-6-20-10-20-13-20-17-12-18-5-19-7 0-3-2-8-16-15-11-7-9-1-7 3-13-1-13 6-14-1-3-6-5-7-2-10 4-6-1-6-6zM1296 2496l3-1 3 4 7 16 10 13 7 3 3 0 10-3 3 1 4 3-1 8-9 11-7 2-7-3-4-7-3-10-9-5-10-12-4-9zM1948 2510l5 1 3 6-3 5-4 0-3-5 0-5zM1012 2515l-3 10-4 4-3 0-2-6 2-3zM2223 2515l2 5-1 10 3 17-1 6-6 10-4 2-6-1-8-4-1-7 9-30 6-7zM693 2523l2 4 0 6-3 4-8 0-2-4 3-6 4-3zM1918 2537l0-4 5-2 3-1 6 3-3 4-6 1zM995 2547l5 6 0 20-3 7-7 7-11 7-4 1-3-2-3-5-6-25 2-3 10-4 10-7zM694 2573l-2 6-10 5-6 6 2 7 0 6-5 17-7 10-11 11-17 14-23 14-23 9-20 4-20 1-20-2-20-6-20-10-20-13-17-14-12-15-7-16-6-2 0-37 8 0 13 5 11 2 6 5 10 17 6 16 14 9 10-1 7 2 20 11 7 2 26 0 18-3 20-6 5-7 21-16 16-26 14-6 10-8 10-1 7 2 3 3zM2200 2585l2 5-2 3-2-3zM1351 2593l5-2 10 3 5 6 1 7-3 1-7 1-10-2-2-4zM972 2608l3 2 0 4-3 4-3 1-4-2 0-4 4-4zM2173 2613l13-1 4 1 2 4-2 10-7 7-3 0-9-14-1-3zM1379 2616l3 0 7 4 5 7 0 3-13 13 0 4 12 20 5 16 1 10 3 2 4-2 6-6 4-2 3 2 3 6 1 10-3 20 3 10-1 3-10 13-3-1-4-5-2-20-7-23-10-4-7-6-8-17-8-13 0-7 7-10 2-16 4-8zM939 2625l3 2 3 6-3 12-3 2-7-2-4-5 3-10 4-4zM2176 2640l3 3 0 4-3 12-6 8-13 10 3 16-1 10-2 7-4 3-20-4-5-6 1-7 4-3 13-5 10-11-4-17 3-10 8-6zM912 2694l10 2 4 7 2 23-3 4-6 4-4-1-2-3 0-14-5-13 0-7zM899 2745l3 2 3 6-2 17 1 13-5 6-10 3-4-2 0-14 5-13 2-12 3-5zM1456 2781l3 2 3 7 1 20-4 4-7-3-5-8 0-7 5-13zM894 2816l2 4-1 7-3 4-7 1-2-2-1-4 3-6 4-4zM2096 2826l3 3 3 17-3 10-6 9-14 0-4 1-3 7 3 10-1 7-5 4-10 5-2-3 2-13-7-13 1-7 16-17 7-13 3-5 7-3zM1459 2839l3 0 4 2 14 12 9 23 10 17 3 10 1 7-7 13 0 3 1 4 19 10 8 10 2 10-1 13 2 7-1 6-4 0-5-13-11-8-10-15-18-20-2-7 3-20-2-7-5-1-10 6-3-1-6-7 0-10 6-10 2-7-9-13 0-3 3-7zM869 2848l3 3 1 5-7 14-2 13-5 6-14 5-10 8-3-6 1-3 8-10 17-13 3-7 1-14 3-2zM839 2908l3 4 8 18 1 6-1 10-4 7-7 6-7 1-13 0-2 0-1-4 11-13 6-17 2-17zM2033 2935l4 1 3 14 9 10 0 7-3 7-3 1-7-5-8-20 0-10zM812 2972l5 8 0 6-8 13-4 2-3 0-7-8-1-10 5-7 10-4zM1029 3109l3-4 10-3 5-23 7-13 8-10 23-21 27-17 27-10 23-3 27 3 27 9 13 8 20 15 17 16 10 13 7 17 3 15 10 5 11 20 0 7-6 6 5 2 6 5 3 7 0 10 2 6 12 10 0 9-8 8 5 12 3 4 13 0 10 10 9 17 1 10-1 7-5 8-7 6-7 0-6-4-6-10-5-17-2-10 1-10-2-2-10-4-1-4 1-4 6-9-19-23-7-11-13-10-8-9-2-7 8-7-1-3-10-5-15-12-15-20 2-10-21-13-15-3-13-8-17-3-26 1-22 6-25 26-14 4-4 4-3 16-3 4-11 10-2 13-3 4-12 6-2 3-2 10-4 4-7 0-4-4 6-13 0-3-4-14zM2388 3005l0 47-22 0-19 4-41 39-10 5-3-11-23 18-5 2-1 4 16 6 1 7-2 7-11 13-2 13-6 13-7 4-13-2-4 4-6 15-7 6-10 1-8-4-4-7 1-6 7-10 18-17 1-3-1-7 0-3 13-22 4-12 6-6 3 0 3 3 2-17 3-10 7-13 12-13 26-23 27-15 23-8 17-2zM802 3019l4 4 3 10-4 7-6 3-6-4-2-10 3-6zM2009 3027l4 2 3 6 2 11-2 7-8 16-5 7-15 10-2 3-2 10-5 7-6 4-7 2-3-1-3-5-2-10 2-7 9-10 3-6 1-7-2-13 2-6 4-4 19-14 7-2zM788 3083l-3 7-15 9 2 14-2 3-11 3-5 4-1 6 2 17-16 25-10 18-14 13-6 14-10 3-9 10-9 7-1 3 8 14 2 20-2 6-36 35-27 19-23 12-24 6-23 2-23-2-27-9-27-15-23-19-14-19-5-16 0-7 3-7-2-13 8-12 3-3 4 0 6 6 7 11 12 15 3 6 0 10 1 4 34 16 27 7 26 0 30-7 28-13 7-17 12-9 9-14 9-10 4-13 4-7 24-24 3-6-2-10 0-7 6-10 10-9 17 1 6-4 5-31 12-10 5-10 0-10 3-7 4-3 5-1 16 4zM1569 3082l3 1 21 26 7 14 0 6-5 17-6 6-10-4-7-5-2-4 2-6 5-10 0-7-5-6-9-7-2-4 1-7zM1602 3149l7-2 3 3 4 6-1 17 4 3 10 4 5 6-2 17 1 3 3 3 3 1 7-1 3 1 3 4 12 19 1 6-2 4-7 0-10-3-5 6-5 0 0-10-5-7-9-6-12-4-3-3-4-10 0-20-8-20 2-10zM1951 3163l5 23-2 10-8 9-13 4-10 17-11 7 3 10-3 6-6 5-17 5 3 7-1 10-4 13-6 10-12 12-16 14-17 10-17 8-23 8-20 2-23-1-20-5-24-10-26-18-19-16-10-17-3-10-1-10 2-7 4-1 10 3 30 22 13 4 5 6 25 9 17 4 13 1 17-1 15-3 28-17 10-11 14-8 20-16 3-5 4-20 22-27 9-6 12-3 3-2 15-19-2-10 4-2 3 1zM1001 3169l4-2 7 2 6 10 14 6 2 4-3 7-6 4-16 6-7 0-7-3-2-4 1-3 8-10-3-13zM430 3192l2 0 2 7 0 7-2 5-2 0zM995 3229l7 7 0 10-3 4-14 6-9 10-1 3 2 10 0 4-12 22-6 4-7-1-7-5-2-7 5-27 4-10 8-10 5-13 7-7 10-2zM2186 3241l4 5-1 10-3 6-3 2-3 0-5-5 0-10 5-6zM2202 3266l2 3-1 4-3 6-7 3-3-1-4-5 2-7 6-3zM1376 3273l3 2 1 4-1 8-20 18-3-2-7-7-3-7 0-6 2-4 4-2zM2166 3278l4 2 10 11 4 8-3 10-5 6-3 2-4-1-12-17 1-10 5-8zM2143 3315l3 1 9 10 3 7 1 10-2 3-18 13-3 0-4-10 0-20 4-10zM952 3324l3 4 1 5-1 13-3 6-7 4-9-3-2-7 1-8 11-12zM1382 3362l4-3 30 10 4 3 4 7 0 10-2 3-6 3-17-2-12-17zM2136 3364l3-1 11 7 2 6-2 6-4 1-3-1-6-6-2-7zM925 3382l4 1 2 3 0 3-6 4-3-1-1-3 1-4zM2119 3385l4 0 0 5-4-1zM903 3399l3 3 0 4-2 3-15 17-7 3-3-2 0-5 13-22 3-2zM1429 3404l3 0 3 5 0 7-3 4-6-3-4-5 3-6zM2109 3410l7 0 16 16 2 10-1 10-7 1-23-15-2-3 0-7 2-6zM1421 3456l5-2 6 1 27 10 6 7-1 7-5 4-3 0-14-3-19-14-3-7zM899 3459l2 3 0 4-4 6-5 6-13 8-2 3-4 13-8 14-1 8-8 0 6-18 10-20-4-17 1-7 3-4 7-1zM2093 3461l6-2 5 3 4 10-2 5-7 0-6-5-3-6zM2105 3496l-3 6-6 6-20-3-3-3 3-4 17-6 10 0zM1456 3494l3-1 3 1 4 5 1 7-4 3-4 0-3-2-3-5-1-3z"/>
<path fill="#0039ff" d="M852 2182l1 0 0 2-1 0zM2059 2213l4 4 0 3-4 7-3 1-3-4 0-4 3-6zM2033 2295l3 2-3 5-4-2 1-3zM2015 2334l4 0 4 3 1 3-1 6-4 3-3 1-3-3-2-3 0-7zM1028 2457l3-4 8-4 6-6 2-10-2-6 0-7 4-13 7-14 16-17 20-16 23-14 20-8 27-4 20 1 24 7 23 13 23 18 20 20 9 20 2 10-1 9-3 3-9-2 1 7 5 3 10-2 6 0 4 6 2 6-1 10-2 7-3 2-3-1-13-6-7-5-4-13-6-8-2-6 0-10-5-6-6-3-10 3-4-1-6-6-3-13-18-10-21-7-22-2-18 2-20 7-12 12-10 8-7 2-6-1-5 2-5 7 0 13-2 7-12 10-13 19-3 3-7 0-10-5-3-4zM2388 2334l0 45-22 0-29 8-14 6-15 10-2 7-6 7-10 0-17 14-7 4-3 0-2-2-3-6 1-7 7-20 13-17 21-19 23-15 23-10 20-4zM1536 2347l6 1 7 4 7 11 1 10-7 14 2 10-3 2-7-2-4-4 5-13-3-10-7-17 0-3zM759 2420l3 3 2 4-1 6-4 10-4 3-3 1-3-3-3-4-2-10 5-7 6-3zM1966 2427l8 3 5 10-3 7-7 3-3 0-3-3-4-10 1-7zM1572 2428l4-1 3 3 1 7-2 6-2 3-4 0-3-2-2-7 1-7zM2286 2432l0 5-3 3-7 2-1-2 5-8 3-2zM2266 2451l4 2-3 10-11 13-10 6-2-2 5-17zM1936 2472l3 2 5 9 0 7-5 5-3-1-2-4 0-13zM1022 2485l3-1 7 1 3 2 4 5 0 5-2 6-2 4-6 3-7 1-5-4-1-14 3-5zM709 2493l6-3 10 3 7 10-1 7-3 3-6 2-9-5-7-7 0-6zM1611 2553l3-10 0-13 2-5 3-2 15 7 8 7 3 10 3 3 18 9 7 8 1 6-5 10 12 10 8 17 24 13 16 5 20 8 17 2 20-1 18-4 25-14 7 1 11-7-3-3 0-3 8-14 7-7 14-5 3-11 3-4 4-2 6 1 17 5 3 0 4-7 3 0 1 4-4 4-4 0-2 16-4 6-11 4-4 16-7 14-9 10-13 11-20 14-26 13-24 6-23 1-23-3-20-7-20-10-24-17-13-12-9-13-5-17 0-11-10-2-6-13-4-4-10-4-7-6-3-3zM2216 2534l4 3 2 6 1 7-3 7-7 2-5-2-1-4 6-14zM994 2553l3 7-1 10-2 7-9 8-6 3-4 0-3-6-1-15 1-3 17-11zM689 2573l-2 4-11 6-6 7 5 3 1 10-2 10-7 14-12 13-20 16-23 13-24 9-20 4-20 0-20-3-20-7-20-10-20-14-13-12-10-13-9-20-6-1 0-31 8 1 14 7 6 0 7 2 4 6 1 6-2 3-6 1-1 3 7 4 7 0 6 9 17 10 17 2 24 12 16 1 17-1 18-4 19-6 5-7 18-12 13-22 7-7 10-1 10-8 7-3 6 0 4 3zM1359 2599l4 1-1 3-3-1-1-2zM1377 2630l2-5 3-1 4 3 0 3-4 3-3 1zM2170 2649l1 4-1 4-7 5-3-1 0-8 3-4zM1372 2653l7 0 6 7 7 23 0 3-3 5-7-3-3-5-1-10-9-13 0-3zM2152 2700l-1 3-5 1-5-1-1-3 10-4zM1412 2699l4 1 1 10-5 9-3 0-4-6 0-7 2-3zM895 2771l4 3 1 9-4 3-4 2-4-2 0-6 4-8zM2089 2831l4 1 2 4 1 10-1 7-6 5-13-2-2-3 5-17 4-4zM1459 2847l3-1 4 1 10 9 6 17-1 7-2 2-13 4-4-1 0-2 4-17-2-6-5-7-1-3zM2059 2870l0-5 4 0 0 3zM1489 2894l3 2 4 10-3 7-4 1-3-4zM842 2929l3 7-1 7-2 5-5 2-3-4 1-6 4-10zM1496 2940l6-1 12 7 5 8 0 7-3 2-4 0-5-3-10-14zM805 2979l4 1 3 3 0 3-3 7-4 2-5-2-2-7 1-3zM1038 3129l2-16 5-10 0-10 4-14 7-13 13-15 23-19 23-14 27-10 20-2 20 1 24 7 20 11 23 17 15 14 10 13 8 17 2 17 8 3 3 3 7 17-3 4-7 1-13-10-10-2-7-4-19-22-1-4 1-6-3-4-20-13-8-4-10-1-15-8-25-3-21 3-20 6-22 23-17 4-4 3-2 4-3 16-15 10-2 4-1 10-3 3-10 3-3-4zM2388 3006l0 44-22 1-22 5-23 20-8 10-7 5-6 0-4-5-3 0-23 19-7 2-3-3-1-8 1-10 8-17 13-16 22-19 20-13 23-10 20-4zM2006 3035l4 4 1 7-8 23-8 7-16 7-2-7 0-23 19-17 7-2zM766 3086l1-3 5-1 4 1 2 3-6 4-3-1zM1973 3089l3 2 1 8-2 4-6 2-3-2-1-7 2-3zM1572 3097l7 3 15 19 0 7-5 17-3 2-7-2-3-4-1-3 6-13 1-7-3-5-8-8-1-4zM2253 3109l7 4 12 10 2 3 0 3-8 8-10 4-6 1-7-3-3-6 6-19 4-4zM745 3126l4 2 2 11-1 7-5 3-3-1-1-9 1-8zM1280 3143l2-2 4 0 7 8-7 0-4-3zM1296 3151l6-2 7 2 1 8-1 5-3 3-7-8-4-6zM2250 3150l6 0 4 2 2 4-2 10-4 4-3 1-7-2-4-3-2-3 2-7zM737 3156l0 7-11 23-13 13-7 10-4 2-11 2-6 10-6 2-4 0 0-6 13-10 15-20 1-6-3-14 4-9 4-3 6-2 17-1zM1609 3156l1 7-1 3-3 2-2-5 2-6zM2230 3166l2 3 1 7-3 10-4 6-3 3-7 1-9-3-2-7 5-10 10-9 6-2zM1612 3180l14 2 5 4 0 7-3 10 3 13 0 3-5 0-13-3-6-7-1-13 3-13zM1943 3181l3 2 2 6-1 7-4 3-4 0-2-3-2-7 3-6zM1002 3199l0-3 10-12 10 2 6 3 0 4-6 4-13 4zM1913 3198l3 0 3 3 4 12-2 6-5 4-12-4-1-3 2-10zM1339 3217l7 2 6 7 5 10 3 10-1 7-3 6-4 4-6 3-7-2-3-4-4-7-3-10 0-10 1-7 4-7zM1901 3226l3 13-2 7-9 6-14 4 0 4 7 0 3 3 1 10-5 16-9 14-17 15-23 16-23 11-20 5-20 2-20-1-24-6-16-8-24-14-20-17-11-13-6-17 0-12 4-3 3 0 40 25 19 10 17 7 28 5 30-2 12-3 11-7 13-6 14-13 10-6 13-11 10-4 3-3 2-20 5-9 10-4 3 2zM967 3253l0-14 5-7 7-2 10 0 6 3 3 3 0 7-3 3-23 9-3 0zM1655 3233l1 0 0 1zM437 3269l1-5 5-5-3-6 0-7 5-7 7-3 5 3 17 24 3 6 0 10 2 4 25 13 17 7 14 3 20 2 20-1 18-4 17-7 19-10 6-14 13-7 7-16 10-8 3-1 4 2 10 11 3 6 2 14-2 6-13 10-14 18-16 14-17 11-17 9-20 7-16 3-17 1-20-2-20-5-17-8-20-12-20-16-12-13-6-13zM2183 3246l3 3-3 6-4-2 1-4zM962 3261l3 6 6 16-6 15-3 4-3 1-7-4-3-10 6-23 4-4zM1351 3289l1-4 5-2 12-3 4 3-5 6-9 5-3 0zM2166 3294l4-1 3 3 2 3-2 6-3-1-4-3-1-5zM2143 3322l7 4 4 10-2 7-9 4-4-1-2-3-1-7 2-10 1-3zM1393 3372l3-2 17 2 5 4 2 3-1 7-7 3-6-1-10-9zM2109 3416l4 0 3 2 5 4 3 7-1 4-7 2-7-3-3-3-1-7zM875 3469l4-5 6-2 9 0 2 4-4 6-7 4-6-1zM1434 3466l2-3 3 3z"/>
<path fill="#0055ff" d="M1036 2460l0-3 9-9 3-5 2-10-3-3-1-7 2-10 5-13 10-13 19-18 23-17 20-10 24-6 20-1 20 3 20 7 13 7 24 16 19 19 10 13 6 17 1 6-1 7-2 2-3 0-7-3-23-19-10 4-4-1-4-6-2-10-18-10-19-7-13-2-14-1-17 2-20 6-23 19-7 2-6 0-7 4-7 7-1 16-12 14-10 14-7 4-5-2zM2388 2335l0 42-22 1-20 4-12 5-29 16-35 28-7 1-2-2-1-7 2-10 7-16 15-17 22-19 20-13 24-9 20-4zM1546 2359l4 4-1 7-3-5zM755 2425l4 2 0 6-4 5-3-1-3-4 0-3 3-4zM1572 2434l4 1 0 2-4 1zM1966 2437l3-2 1 2-1 1zM1289 2445l4 2 1 6-2 10-3 2-12-5-3-3 0-4 2-3 6-3zM1025 2488l9 2 2 7-1 4-3 5-7 2-3-1-3-7 1-7 2-4zM713 2497l6-2 6 3 4 5 0 4-3 3-4 1-7-4-3-7zM1622 2530l7 2 7 4 2 7-7 17-5 4-7-3-2-4 2-24zM1637 2560l5-6 7 1 14 6 5 6-1 6-8 9-7 3-3 0-3-2-5-6-4-10zM989 2565l1 5-2 7-6 4-3-1-1-3 2-7 5-5zM1883 2569l6-1 10 5 3 10-3 6-6 1-7-4-5-9-1-4zM430 2574l5 1 7 3 8 9 1 6 3 4 35 23 13 6 10 0 21 11 25 2 20-2 16-4 17-6 7-7 15-10 12-20 7-7 6 0 4 3 1 7 9 0 2 4 1 6-4 14-9 14-17 16-20 14-20 10-20 7-20 3-20-1-23-4-20-8-24-14-20-16-14-18-6-19-8-1zM1889 2600l-2 13-7 14-13 13-18 14-16 10-24 11-16 4-20 2-20-1-17-4-20-8-17-10-20-14-14-14-8-13-4-14 1-6 2-4 3-1 7 2 7-2 3 1 4 4 7 13 23 13 37 14 26 2 20-2 15-4 18-9 7-1 17-10 2-3-4-3 1-4 7-10 7-4 4 1 1 3-2 8 17-9 3 1zM2086 2841l2 2-2 5-1-2zM1046 3093l5-17 9-13 19-19 20-16 20-11 16-6 20-4 21 1 20 4 23 10 20 13 17 14 12 14 7 10 6 16 1 7-2 7 2 3 10 5 3 5 1 7-4 1-13-7-10-2-4-2-8-10-5-10 0-4-5-6-19-14-19-10-7-1-11-5-15-3-27 0-12 3-18 6-20 20-7 2-7-1-15 13-2 3 2 7-1 4-17 10-3 0-2-4 3-7-4-7zM2388 3007l0 42-22 1-25 6-6 3-5 7-7 4-14 3 1 2 3 0 0 4-6 7-5 0-2-5-30 22-4 1-4-1-2-7 1-7 3-10 5-10 14-16 20-18 23-15 20-8 20-4zM2002 3046l0 3-6 17-3 4-7 3-3-4 1-6 9-8 6-10zM2250 3116l3-2 3 1 9 8 1 6-3 4-10 3-3 0-4-3 0-7zM729 3159l2 4-2 6-10 17-7 5-2-12-5-10 1-3 3-4 4-3zM2249 3163l1-5 3-1 3 2-1 4-2 2zM2226 3171l3 8-4 10-9 4-6-3-1-7 4-6 7-5zM1622 3185l4 1 1 3-4 20-2 4-5 0-4-2-2-5-1-9 3-7 4-4zM1342 3223l4 1 6 9 5 13-2 10-3 3-6 3-7-3-4-6-2-7 0-7 3-10 3-5zM1889 3227l4-1 3 3 2 7-2 7-7 4-3-1-3-10 3-7zM971 3243l2-7 6-2 10 0 3 2 1 3-3 4-11 3-5 0zM439 3273l1-7 2-3 3 0 1-4-3-6 0-7 5-6 4 0 3 2 17 21 3 10-1 6 3 4 24 13 17 7 20 4 20 2 20-2 18-4 17-7 19-10 6-13 7-2 7 1 4-3 1-3-2-10 3-6 7-4 7 2 7 8 3 7 2 10-2 5-10 8-6 10-8 10-13 11-20 14-30 14-20 5-17 1-16-1-24-5-16-7-17-10-20-14-15-15-8-13zM1653 3273l1-7 2-3 3 0 7 2 36 24 21 10 23 7 27 3 25-3 34-13 11-11 26-19 7 2 7-2 3 0 2 3 1 7-3 13-7 11-13 14-17 13-16 10-24 11-20 5-16 1-17-1-23-5-17-7-17-10-20-14-15-15-8-13zM959 3277l3 0 2 2 1 7-3 7-3 2-4-3-1-6 1-5zM2143 3332l4 1-1 5-3-1z"/>
<path fill="#0072ff" d="M1048 2420l3-13 8-14 15-16 18-15 17-11 20-9 16-4 21-2 16 2 17 4 20 9 20 13 18 16 14 17 7 13 2 13-1 6-3 1-4-1-26-20-4-1-6 2-4-2-4-11-11-7-25-10-26-4-17 1-23 6-7 4-17 15-13 2-28 23 1 2 3 0 3 1-4 7-9 9-1-6 1-7 4-3-7 1-3-3zM2388 2336l0 40-22 1-26 6-32 17-38 29-4 1-3-1-1-6 1-10 8-16 14-17 21-18 20-13 20-8 24-5zM1286 2456l0-4 3 1zM1025 2492l4-1 3 2 1 4-1 5-3 2-4 0-3-4 0-4zM1626 2538l4 2-1 4-3 1-1-2zM1646 2559l3 0 6 1 7 7-1 6-5 5-7 1-5-6-1-6zM430 2577l5 0 7 5 3 5 0 6 42 27 15 7 13 2 13 8 17 2 17 1 20-3 15-4 17-6 21-15 13-22 4-2 3 0 2 2 1 7 10-2 4 1 1 4 0 7-4 13-10 13-17 15-20 14-20 9-20 6-20 3-20-1-20-4-24-10-16-10-20-16-10-9-7-10-4-10-1-10-2-2-8 0zM1654 2603l2-6 3-2 10 3 7-1 3 3 6 10 29 17 28 10 31 3 26-3 21-7 21-10 38-24 4-1 3 1 2 7-4 14-6 10-12 13-20 15-17 10-23 10-17 4-16 1-20-1-17-4-17-7-20-11-19-14-14-14-8-12zM1859 2600l-4 3 1-3zM1048 3093l3-14 8-13 15-17 18-15 20-13 17-7 20-5 17-1 20 2 13 4 17 7 20 13 18 15 15 17 8 13 3 14-1 8-9 2 7 6-5 2-3-1-4-4 0-3 4-1 1-3-4-1-18-15-24-17-29-13-14-4-15-1-24 3-26 8-14 14-7 3-6 0-27 22-10 4-3-2zM2388 3008l0 40-27 1-23 7-7 3-5 5-14 5-42 32-4 1-3-1-1-5 1-10 7-17 14-16 22-19 20-13 24-9 20-4zM2250 3126l3-6 3 0 3 3 1 3-4 4-5-1zM713 3169l1-3 1-1 7 1-3 5zM2223 3176l2 3-2 7-7 3-3-3 0-3 6-7zM1616 3197l3 2-3 6-2-2zM1342 3231l4 0 3 3 6 12-3 10-6 3-7-4-3-9 1-7zM1889 3237l0-2 2 1zM440 3273l3-7 2-1 8 1-6-10-2-7 3-4 4-1 16 19 4 6 0 10 8 7 19 10 19 8 24 5 16 1 30-4 20-7 26-13 8-10 6 0 14-10-3-10 3-5 3-1 3 1 8 8 5 10-2 7-7 7-5 10-8 10-14 12-17 12-16 10-17 7-17 4-20 2-20-1-16-4-17-7-20-11-20-14-13-14-9-13zM1654 3273l2-7 3-1 4 0 37 24 20 10 26 8 27 3 29-4 34-13 10-9 33-18 4-1 3 1 2 7-3 13-9 13-13 14-17 12-20 12-17 7-16 4-20 2-20-1-17-4-17-7-20-11-20-14-13-14-9-13z"/>
<path fill="#008cfe" d="M1049 2420l3-13 8-14 16-16 19-16 20-12 17-7 17-4 17-1 16 1 20 6 17 8 17 11 16 14 16 16 8 14 3 13-2 7-5 0-26-20-10-3-1-4-23-13-23-9-23-3-21 2-22 6-21 17-13 3-34 24-4 0zM2388 2337l0 39-28 1-23 6-30 17-34 26-7 2-3-5 1-10 8-16 18-20 20-16 20-12 16-7 20-5zM1649 2563l4 0 4 4 0 3-2 3-5 0-3-3 0-3zM430 2580l5 0 6 7 1 4-4 4-8 0zM672 2603l-3 14-6 10-13 13-18 14-17 10-17 8-20 5-20 2-16-1-20-4-20-8-17-10-20-15-13-13-7-11-3-14 3-6 3 0 37 23 20 10 7 0 13 7 33 4 30-4 28-10 23-14 9-16 4-2 3 6 13-4 4 3zM1656 2603l0-3 3-3 4 0 13 5 3 5 9 6 31 17 27 8 27 3 26-4 24-7 20-10 36-23 4 0 3 3 0 3-3 14-6 10-13 13-18 14-17 10-16 8-20 5-20 2-17-1-20-4-20-8-17-10-20-15-13-13-7-11zM1049 3093l3-14 8-13 15-17 17-14 17-11 20-9 16-5 21-1 16 1 17 5 20 9 17 11 17 14 15 17 8 13 3 14 0 3-3 3-4 0-36-26-22-14-28-9-20-3-24 3-28 9-5 4-7 7-10 3-37 26-4 0zM2388 3009l0 39-28 1-24 7-25 13-38 29-7 2-3-4 2-13 9-17 16-17 23-19 20-11 20-7 17-3zM1346 3238l5 5 1 6-3 5-3 1-5-2-2-7 3-7zM442 3276l1-7 2-2 10 3 2-1 0-6 1-3 7 3 3 4 2 6-1 6 28 17 31 11 17 3 17 1 23-4 25-8 20-10 32-20 6-3 0-4 7 4 1 3-8 20-6 9-14 13-16 13-17 10-17 8-20 5-16 2-20-1-17-3-20-8-17-9-20-14-15-15-8-12zM1656 3273l3-6 4 0 35 22 28 13 25 7 22 2 23-3 27-8 21-11 35-22 4 0 2 2 1 4-1 10-7 13-13 13-19 15-17 10-23 10-17 4-16 1-20-1-17-4-23-10-17-10-19-15-13-13-7-13z"/>
<path fill="#00a4fd" d="M1050 2420l3-13 9-14 15-16 18-15 17-11 20-8 17-4 17-1 16 1 20 6 14 6 16 11 19 15 15 16 9 14 3 13-2 5-7-1-37-27-25-14-21-6-20-3-24 3-20 6-20 15-10 2-33 24-7 1zM2388 2338l0 37-28 1-24 7-26 14-37 27-3 1-4 0-1-2-1-6 2-7 7-13 15-17 22-18 20-12 20-8 20-4zM430 2584l5 1 3 5-3 2-5 0zM443 2607l2-7 3-1 41 24 23 10 24 7 22 2 20-2 24-7 23-10 16-10 7-6 17-8 4 1 2 7-3 10-9 13-14 13-17 12-16 10-17 7-20 5-17 1-16-1-17-3-17-6-20-11-19-14-14-13-9-13zM1657 2607l2-7 4-1 40 24 23 10 24 7 23 2 20-2 23-7 23-10 40-24 4 1 2 7-3 10-9 13-14 13-16 12-17 10-17 7-20 5-16 1-17-1-17-3-16-6-20-11-20-14-14-13-9-13zM1050 3089l5-13 9-13 16-17 19-14 16-10 17-7 17-4 17-1 16 1 20 6 17 8 17 11 16 14 15 16 8 13 3 14-2 4-7-1-36-27-25-13-19-7-23-3-27 3-20 7-24 13-40 28-4-1zM2388 3010l0 37-28 1-26 8-25 13-39 28-5-1-1-7 2-6 7-14 14-16 23-19 20-12 16-7 20-5zM443 3276l2-6 3-1 10 5 3-1 1-5 3 1 1 10 36 20 30 10 26 3 23-3 23-6 22-10 39-24 3 0 3 7-3 10-8 13-15 14-20 14-17 9-16 7-17 4-17 1-16-1-17-3-17-6-20-11-20-14-14-14-8-13zM1657 3276l2-7 4 0 39 24 22 10 23 6 26 3 22-3 23-6 22-10 39-24 4 0 2 7-3 10-8 13-15 14-20 14-16 9-17 7-17 4-16 1-17-1-17-3-16-6-20-11-20-14-15-14-8-13z"/>
<path fill="#00bbfc" d="M1052 2417l4-14 10-13 16-17 17-12 13-9 17-7 20-5 17-2 16 2 17 5 17 7 16 11 17 14 16 16 8 14 3 10 0 4-4 2-3-1-30-22-23-13-27-10-23-3-24 2-23 7-17 12-13 6-30 21-4 1-3-2zM2388 2339l0 35-25 1-23 6-26 12-41 29-3 1-4-2 1-11 10-17 16-17 20-15 20-12 17-6 20-4zM444 2607l1-4 3-2 4 1 36 21 21 10 23 7 26 2 24-2 23-7 21-10 36-21 3-1 3 1 1 5-2 10-9 12-13 13-17 12-16 10-17 7-17 5-20 2-20-2-16-4-30-14-20-14-16-14-9-13zM1658 2607l1-4 4-2 3 1 36 21 21 10 23 7 27 2 23-2 23-7 21-10 36-21 3-1 4 2 0 4-2 10-8 12-14 13-16 12-17 10-17 7-16 5-20 2-20-2-17-4-30-14-20-14-16-14-9-13zM1052 3089l4-13 9-13 17-17 17-13 16-10 17-7 17-4 17-2 16 2 17 5 17 7 16 11 18 14 16 17 8 13 2 10 0 5-4 1-3-1-34-25-25-13-21-7-23-3-21 1-19 6-27 13-40 28-4 1-3-2zM2388 3011l0 35-22 0-26 7-27 13-40 28-3 1-4-2 0-7 2-7 8-13 17-18 20-16 20-11 17-6 20-4zM444 3276l1-3 3-2 4 1 36 22 29 12 21 5 20 1 27-3 21-6 22-10 34-21 3-1 3 1 1 4-2 10-9 13-14 14-16 11-16 10-17 7-20 5-17 2-16-1-20-5-17-7-17-9-18-13-14-14-9-13zM1659 3276l0-3 4-2 3 1 37 22 28 12 22 5 20 1 26-3 21-6 22-10 34-21 3-1 4 2 0 3-2 10-8 13-15 14-15 11-17 10-17 7-16 4-20 3-17-1-17-4-16-6-20-11-19-13-14-14-9-13z"/>
<path fill="#00d3fb" d="M1053 2417l3-10 8-14 16-16 19-15 16-11 17-7 17-4 17-1 16 2 17 4 13 6 17 10 19 16 16 16 8 14 3 10-3 4-3-1-39-27-27-13-21-5-16-2-21 2-20 5-33 17-33 23-4 1zM2388 2339l0 34-25 1-24 6-27 13-39 27-4 0-2-3 1-7 8-14 18-19 19-16 20-11 20-8 17-3zM668 2607l-2 10-8 11-13 13-20 14-17 10-16 6-17 4-17 2-16-1-17-4-17-6-16-9-17-11-17-15-8-11-4-10 2-7 4 1 34 19 22 11 24 7 26 2 20-2 20-4 24-10 40-23 3-1zM1660 2607l3-4 3 1 40 23 24 10 19 4 20 2 27-2 23-7 23-11 34-19 3-1 3 4 0 3-4 10-9 11-16 15-17 11-17 9-16 6-17 4-17 1-16-2-17-4-17-6-16-10-20-15-14-13-7-10zM1054 3086l5-13 10-14 16-15 17-13 17-9 16-7 17-3 14-1 16 2 17 4 17 8 16 11 17 13 15 17 9 13 1 10-2 4-3-1-38-26-27-13-22-6-16-2-24 2-26 9-24 13-33 23-4 1zM2388 3011l0 34-25 1-25 7-21 10-41 27-6 3-2-4 0-6 7-14 18-20 20-16 20-11 17-7 20-4zM446 3279l2-6 4 1 33 19 23 11 24 7 26 2 27-3 23-7 21-10 33-19 3-1 3 3 0 3-4 10-10 14-15 13-17 12-30 13-17 4-17 2-16-1-17-4-17-6-16-9-17-11-17-15-8-12zM1660 3279l3-6 3 1 33 19 24 11 23 7 27 2 26-3 24-7 20-10 33-19 3-1 3 3 0 3-4 10-10 14-15 13-17 11-30 14-17 4-16 2-17-1-17-4-16-6-17-9-17-11-16-15-9-12z"/>
<path fill="#00ebfa" d="M1055 2413l3-10 10-13 17-17 17-13 13-8 17-7 17-4 17-1 16 2 14 3 16 7 17 10 17 14 14 14 9 13 4 10-1 4-3 1-3-1-35-24-26-13-19-6-20-2-21 2-22 6-31 16-30 21-3 1-4-1zM2388 2340l0 33-25 0-26 7-26 13-35 24-3 1-3-1 0-7 3-7 9-13 18-17 20-15 16-9 17-6 17-3zM448 2610l0-3 7-1 35 21 28 11 20 4 20 2 20-2 20-5 26-10 34-20 7-1 1 4-3 10-8 10-14 13-19 14-17 8-17 7-13 3-17 1-16-1-17-4-30-13-18-11-15-14-11-13zM1662 2610l1-4 6 1 35 20 25 10 24 5 20 2 20-2 20-5 25-10 35-20 6-1 1 4-3 10-8 10-14 13-19 14-17 8-16 7-14 3-16 1-17-1-17-3-30-14-18-11-15-14-11-13zM1055 3086l3-10 9-13 17-17 18-14 13-8 17-7 17-4 17-1 16 2 17 4 13 6 17 10 17 14 15 15 9 13 3 10-1 4-3 0-37-24-26-14-22-6-18-2-22 2-22 7-26 13-34 23-3 1-3-1zM2388 3012l0 33-28 1-24 7-26 13-37 24-3-1 1-10 9-14 18-19 18-14 20-11 17-6 17-3zM448 3279l2-3 5 1 34 19 26 11 23 5 20 2 20-2 20-5 27-11 33-19 7-1 1 3-3 10-7 10-14 14-20 14-30 14-17 4-17 1-16-1-17-4-17-6-16-9-20-13-14-14-7-10zM1662 3279l2-3 5 1 34 19 26 11 24 5 20 2 20-2 20-5 26-11 34-19 6-1 1 3-3 10-7 10-14 14-20 14-30 14-17 4-16 1-17-1-17-3-16-7-17-9-20-13-14-14-7-10z"/>
<path fill="#00e6df" d="M1057 2413l3-10 9-13 17-17 16-12 17-10 13-5 17-4 17-2 13 2 17 4 16 7 17 10 17 14 13 13 9 13 3 10-2 2-7-2-30-20-25-13-21-6-20-2-22 1-22 7-27 13-30 20-6 2zM2388 2341l0 31-25 1-23 6-25 11-35 23-7 2-2-2 3-10 9-13 17-17 20-14 16-9 17-6 17-3zM450 2610l2-2 6 2 34 18 23 10 20 5 20 1 23-1 24-6 23-10 33-19 4 0 2 2 0 3-5 10-8 10-16 14-17 11-30 13-16 4-17 1-13-2-17-3-17-7-16-9-17-12-15-13-8-12zM1664 2610l2-2 7 2 33 18 23 10 20 5 20 1 24-1 23-6 23-10 34-19 3 0 2 2 0 3-5 10-8 10-16 14-16 11-30 13-17 4-17 1-13-2-17-3-16-6-17-9-17-13-15-13-8-12zM1057 3083l4-10 11-14 17-16 16-12 17-9 13-5 14-3 17-2 16 2 14 4 16 7 13 8 17 13 14 13 11 14 4 10-2 4-3 0-38-24-22-11-20-6-20-2-21 1-20 6-25 12-38 24-3 0zM2388 3013l0 31-25 1-23 6-26 12-38 24-3 0-1-1 2-10 9-13 16-17 21-15 16-9 17-6 17-3zM450 3283l2-5 3 0 39 21 26 10 18 4 20 1 21-1 25-7 21-9 33-19 4 0 2 1 0 4-4 10-9 10-15 13-18 12-30 13-13 3-17 2-16-2-17-3-30-14-17-11-15-13-9-10zM1664 3283l2-5 3 0 39 21 26 10 19 4 20 1 20-1 25-7 21-9 34-19 3 0 2 1 0 4-4 10-9 10-15 13-17 12-30 13-14 3-16 2-17-2-17-3-30-13-17-12-15-13-9-10z"/>
<path fill="#00e3c2" d="M1059 2410l4-10 11-13 13-14 18-13 14-8 16-6 17-4 14-1 13 1 17 5 13 5 17 10 15 11 13 14 11 13 4 10-3 3-37-23-23-11-20-6-20-2-21 1-20 6-23 11-37 22-3 2zM2388 2341l0 30-22 1-24 5-26 11-40 25-3-3 6-13 12-14 14-13 18-12 17-9 13-4 17-4zM452 2613l3-3 39 20 24 9 20 5 20 1 20-2 17-3 25-10 38-20 4 3-4 10-9 10-15 14-16 10-13 7-17 6-16 4-14 1-13-1-17-3-30-12-18-12-15-14-9-10zM1666 2613l3-3 39 20 25 9 20 5 20 1 20-2 16-4 25-9 39-20 3 3-4 10-9 10-15 14-15 10-14 7-16 6-17 4-13 1-14-1-16-3-30-12-19-12-15-14-9-10zM1060 3083l3-10 10-14 14-13 17-13 15-9 16-6 14-4 17-1 13 1 17 5 13 5 15 9 17 13 14 13 10 14 4 10-3 1-4-1-33-21-23-11-20-6-20-2-21 2-20 5-26 12-34 21-3 2zM2388 3013l0 30-25 1-22 5-28 13-33 21-4 2-3-2 4-10 13-17 16-15 17-12 17-8 16-5 17-3zM452 3283l3-3 37 19 26 10 20 5 20 1 20-2 18-4 26-10 36-18 4 2-4 10-8 10-15 13-17 11-30 13-16 4-14 1-16-1-17-4-30-13-16-11-15-13-8-10zM1666 3283l3-3 37 19 26 10 21 5 20 1 20-2 17-4 26-10 37-18 3 2-4 10-8 10-15 13-16 11-30 13-17 4-13 1-17-1-17-4-30-13-16-11-15-13-8-10z"/>
<path fill="#01e3a2" d="M1062 2407l5-10 11-14 14-13 14-10 16-9 13-5 17-3 14-1 26 4 17 7 13 7 14 10 14 13 11 14 5 10 0 1-4 1-36-22-24-10-16-5-20-2-21 2-19 5-22 10-39 22zM2388 2342l0 29-22 0-23 5-25 11-38 22-4-1 5-11 11-14 14-13 20-13 14-7 16-6 17-2zM659 2617l-5 10-10 10-12 10-17 11-13 7-17 5-27 4-13 0-17-4-16-6-14-6-16-11-12-10-10-10-5-10 0-3 3-1 37 18 23 9 20 4 20 2 20-2 17-4 23-8 37-19 4 0zM1669 2617l0-3 4-1 36 18 24 9 20 4 20 2 20-2 16-4 24-8 36-19 4 0 0 4-5 10-10 10-12 10-17 11-13 7-17 5-26 4-14 0-16-4-17-6-13-6-17-11-12-10-10-10zM1062 3079l4-10 11-13 15-13 13-10 14-8 16-7 17-3 14-1 13 1 17 4 27 14 13 10 15 13 11 13 4 10-4 2-33-20-25-12-18-5-20-2-21 2-20 5-23 10-37 22zM2388 3014l0 29-25 0-23 6-24 10-36 22-4-1 4-11 11-13 15-14 19-13 15-7 16-6 17-2zM455 3286l0-2 3-1 37 18 23 9 20 4 20 2 20-2 17-4 23-8 34-17 6-1 1 2-5 10-9 10-16 13-14 9-13 7-17 5-27 4-13 0-17-4-16-6-14-6-13-9-16-13-9-10zM1669 3286l0-2 7 1 33 16 24 9 20 4 20 2 20-2 16-4 24-8 33-17 7-1 0 2-5 10-9 10-16 13-14 9-13 7-17 5-26 4-14 0-16-4-17-6-13-6-14-9-16-13-9-10z"/>
<path fill="#05e682" d="M1065 2403l6-10 12-13 26-21 13-7 17-6 27-4 26 5 14 5 14 8 14 10 15 13 10 14 4 6-1 2-3 0-33-18-24-11-20-5-16-1-21 1-20 5-20 9-36 20zM2388 2343l0 27-22 0-23 5-23 10-37 20-3-1 2-7 15-17 15-13 15-10 16-8 13-4 17-2zM458 2620l0-3 4-1 36 18 24 8 16 3 20 1 20-1 17-4 20-7 37-17 4 0 0 3-7 10-10 10-27 19-27 11-27 4-26-3-28-11-17-10-12-10-10-10zM1672 2620l0-3 4-1 37 18 23 8 17 3 20 1 20-1 16-4 20-7 37-17 4 0 0 3-7 10-10 10-27 19-27 11-26 4-27-3-28-11-17-10-12-10-13-13zM1065 3076l3-7 11-13 14-13 16-12 26-12 17-4 14-1 26 5 17 7 13 7 13 10 14 13 11 13 3 7-4 1-33-18-24-11-20-5-16-1-21 1-20 5-23 11-33 18zM2388 3015l0 27-22 0-23 5-23 10-34 19-6 1 4-11 12-13 15-14 15-10 14-6 16-6 17-2zM458 3289l0-2 4 0 36 17 24 8 20 4 16 0 17-1 20-4 20-7 37-17 3-1 1 3-6 10-10 10-28 20-27 11-27 4-26-3-29-12-16-10-13-10-13-13zM1672 3289l1-2 3 0 37 17 23 8 20 4 17 0 16-1 20-4 20-7 37-17 3-1 1 3-6 10-10 10-28 20-27 11-26 4-27-3-29-12-16-10-13-10-13-13z"/>
<path fill="#27e863" d="M1069 2400l4-7 11-13 15-13 13-9 27-11 27-4 26 4 27 13 25 20 12 13 3 7-3 1-30-15-24-10-20-6-16-1-17 1-20 5-20 8-37 19zM2388 2343l0 26-22 1-20 4-23 8-37 20-3-2 6-10 12-13 12-10 17-11 13-6 17-5 13-2zM462 2620l3 0 33 15 20 7 20 4 17 1 17-1 16-3 27-8 33-15 4 0 0 3-7 10-11 10-26 17-26 10-27 3-17-2-13-3-26-11-26-20-9-10zM1676 2620l4 0 33 15 20 7 20 4 20 1 16-1 20-4 20-7 33-15 4 0-2 7-9 10-26 20-26 11-14 3-16 2-17-1-13-3-27-11-13-8-16-13-9-10zM1069 3073l3-7 11-13 15-14 14-9 27-11 27-4 26 4 27 13 26 21 11 13 3 7-3 1-30-16-24-10-20-6-16-1-21 2-20 5-23 10-27 15zM2388 3015l0 26-22 1-20 4-23 8-37 20-3-1 5-10 13-14 12-10 17-11 13-6 17-5 13-2zM462 3293l3-3 33 15 24 8 20 3 16 1 17-1 17-3 23-8 33-15 4 0 0 3-7 10-10 10-25 16-25 10-27 4-26-3-27-10-26-17-10-10zM1676 3293l0-2 3-1 34 15 23 8 20 3 17 1 16-1 17-3 23-8 34-15 3 0 0 3-4 6-9 10-13 10-16 10-25 10-26 4-27-3-28-11-25-16-10-10z"/>
<path fill="#78f039" d="M1074 2397l3-7 12-13 12-10 14-10 25-10 26-3 26 4 26 12 25 20 8 10 3 7-5 0-30-16-17-6-20-5-16-2-17 1-20 5-20 8-30 15zM2388 2344l0 25-22 0-20 4-23 9-30 15-5 0 3-7 12-13 12-10 15-10 14-7 16-4 13-2zM466 2627l1-4 38 15 20 6 17 3 16 1 20-2 20-5 47-18 3 4-16 16-25 17-25 9-24 3-26-3-25-9-26-17-10-10zM1680 2627l3-4 36 15 20 6 17 3 17 1 20-2 20-5 46-18 3 4-16 16-25 17-25 9-23 3-27-3-25-9-26-17-10-10zM1074 3069l2-6 9-10 24-20 26-13 27-4 27 3 23 10 24 17 10 10 7 10 0 3-4 0-33-17-20-7-17-4-17-1-17 2-20 5-20 8-26 14zM2388 3016l0 25-22 0-20 4-20 7-33 17-5 0 2-6 12-14 12-10 16-10 13-6 17-5 13-2zM466 3296l2-3 37 15 20 6 17 3 16 1 17-2 17-3 20-6 33-14 3 3-4 7-11 10-25 16-26 10-24 3-26-3-26-10-25-16-11-10zM1680 3296l3-3 33 14 23 7 17 3 17 1 16-2 17-3 20-6 33-14 3 3-4 7-11 10-25 16-26 10-23 3-27-3-26-10-25-16-11-10z"/>
<path fill="#aef525" d="M1079 2393l2-6 9-10 12-10 15-10 25-10 24-3 13 2 13 3 24 11 22 17 9 10 2 6-3 0-30-14-17-6-17-4-16-1-17 1-17 3-20 7-30 14zM2388 2345l0 23-22 0-20 4-20 7-30 14-3 0 2-6 9-10 12-10 17-11 27-10 13-2zM471 2630l1-3 50 17 20 3 16 1 34-4 50-17 1 3-5 7-11 10-21 13-24 9-24 3-23-3-27-9-21-13-11-10zM1685 2630l1-3 50 17 20 3 17 1 33-4 50-17 1 3-5 7-11 10-21 13-24 9-23 3-24-3-26-9-22-13-11-10zM1079 3063l14-17 23-17 26-10 24-3 23 4 23 9 23 17 14 17 0 2-3 0-30-14-20-7-30-4-17 1-17 3-20 7-30 14zM2388 3017l0 23-22 0-20 4-20 7-26 13-7 1 2-6 12-13 12-10 17-10 27-8zM471 3299l1-2 3 0 50 18 17 2 16 1 30-3 17-5 37-13 1 2-11 14-25 16-25 10-24 3-23-3-27-9-22-14-11-10zM1685 3299l1-2 3 0 34 13 16 5 17 2 17 1 30-3 16-5 37-13 1 2-11 14-25 16-25 10-23 3-24-3-26-9-23-14-11-10z"/>
<path fill="#dbf712" d="M1084 2387l4-7 11-10 20-13 23-9 24-3 23 4 20 8 20 13 10 10 5 7-2 3-46-19-30-4-31 4-16 5-34 14zM2388 2345l0 22-18 0-17 3-20 6-33 14-2-3 5-7 10-10 14-10 13-7 23-7zM476 2633l2-3 44 15 16 3 20 1 34-4 43-15 3 3-13 14-21 13-22 8-24 3-23-2-23-8-23-14zM1690 2633l3-3 43 15 17 3 20 1 33-4 43-15 3 3-13 14-21 13-22 8-23 3-24-2-23-8-23-14zM1084 3059l4-6 10-10 21-14 23-9 24-3 23 4 21 8 20 14 10 10 4 6-2 2-46-18-30-4-31 4-16 5-34 13zM2388 3017l0 22-18 0-17 3-20 6-33 13-2-2 4-6 10-10 14-10 12-7 25-8zM475 3303l3-2 30 10 24 6 26 2 27-3 20-5 30-10 4 2-13 13-21 13-23 9-24 3-23-2-23-8-24-15zM1689 3303l4-2 30 10 20 5 30 3 26-3 20-5 30-10 4 2-13 13-21 13-23 9-23 3-24-2-23-8-24-15z"/>
<path fill="#fff500" d="M1088 2383l13-13 21-14 23-8 21-2 20 2 22 9 19 13 13 13-1 2-3 0-27-10-20-6-23-2-27 2-20 6-27 10-3 0zM2388 2346l0 21-18 0-17 2-20 6-23 9-7 1 2-5 10-10 13-10 13-7 22-6zM481 2637l1-3 43 12 33 3 34-4 40-11 1 3-14 13-17 10-20 7-24 4-23-3-20-7-20-11zM1695 2637l1-3 43 12 34 3 33-4 40-11 1 3-14 13-17 10-20 7-23 3-24-2-20-7-20-11zM1088 3056l12-13 22-15 23-8 21-2 20 2 23 9 19 14 12 13-1 1-7-1-40-14-26-4-31 4-43 15zM2388 3018l0 21-18 0-17 2-20 6-23 9-7 1-1-1 5-7 11-10 22-13 23-7zM480 3306l2-2 50 13 26 2 30-3 44-12 2 2-14 13-18 11-20 7-24 3-20-1-20-6-24-14zM1694 3306l2-2 50 13 27 2 30-3 43-12 2 2-14 13-18 11-20 7-23 3-20-1-21-6-24-14z"/>
<path fill="#ffdb00" d="M1093 2380l9-10 20-13 20-8 24-3 20 3 20 8 16 10 13 13-3 2-43-14-23-2-27 2-44 14zM2388 2347l0 19-32 2-16 4-30 10-3-2 13-13 23-14 23-6zM486 2640l2-3 40 10 30 3 27-2 40-11 3 3-11 10-19 11-20 6-20 3-20-2-17-5-20-10zM1700 2640l3-3 40 10 30 3 26-2 40-11 3 3-11 10-18 11-20 6-20 3-20-2-18-5-20-10zM1093 3053l5-7 7-7 22-13 22-6 17-2 20 3 21 8 20 14 8 10-6 0-37-12-26-3-27 2-40 13zM2388 3019l0 19-32 2-20 5-23 8-6 0 5-7 7-7 22-13 22-7zM485 3309l3-2 40 10 30 3 27-2 40-11 4 2-15 14-20 10-19 5-17 2-20-2-18-5-20-10zM1699 3309l4-2 40 10 30 3 26-2 40-11 4 2-15 14-20 10-19 5-16 2-20-2-19-5-20-10z"/>
<path fill="#ffc100" d="M1098 2377l14-14 19-10 18-5 17-1 20 3 18 7 16 10 10 10-4 1-34-10-26-3-31 3-33 10zM2388 2347l0 18-28 2-44 11-4-1 14-14 19-10 21-5zM491 2640l41 9 26 2 27-3 38-8 0 3-7 7-17 10-21 7-20 2-23-2-20-7-17-10-7-7zM1705 2640l41 9 27 2 26-3 38-8 0 3-7 7-17 10-20 7-20 2-24-2-20-7-17-10-7-7zM1098 3049l5-6 8-7 18-10 20-6 17-1 20 3 20 7 15 10 9 10-8 1-36-11-20-2-24 2-37 11zM2388 3019l0 18-28 2-17 3-23 8-8-1 5-6 8-7 18-10 23-6zM491 3313l1-3 36 8 30 3 27-3 37-8 1 3-11 10-20 10-17 4-17 2-20-2-16-4-20-10zM1705 3313l1-3 37 8 30 3 26-3 37-8 1 3-11 10-20 10-17 4-16 2-20-2-17-4-20-10z"/>
<path fill="#ffa700" d="M1104 2373l10-10 19-10 16-4 17-2 16 3 13 3 19 10 10 10-2 2-30-7-26-3-24 1-37 9zM2388 2348l0 17-25 0-43 10-2-2 10-10 19-10 19-5zM495 2643l7 0 36 7 20 1 20-1 34-7 7 0-6 7-16 10-21 7-18 2-20-2-20-7-17-10zM1709 2643l7 0 37 7 20 1 16-1 37-7 7 0-6 7-16 10-21 7-17 2-20-2-20-7-18-10zM1104 3046l9-10 18-10 18-5 17-2 16 3 15 4 18 10 10 10-6 1-30-8-23-2-21 1-36 9zM2388 3020l0 17-28 1-37 9-5-1 9-10 19-10 20-6zM496 3316l2-3 37 7 23 1 24-1 33-7 3 3-14 10-14 7-15 4-17 2-16-2-18-4-14-7zM1710 3316l3-3 36 7 24 1 23-1 33-7 3 3-14 10-14 7-15 4-16 2-17-2-18-4-14-7z"/>
<path fill="#ff8d00" d="M1109 2370l12-10 14-7 14-3 17-2 13 2 14 3 14 7 12 10-3 2-30-6-20-2-24 2-30 6zM2388 2349l0 15-28 1-34 7-3-2 12-10 15-7 20-4zM501 2647l4-1 33 5 20 1 20-1 30-5 5 1-6 6-13 7-19 6-17 2-16-1-14-4-15-6-10-7zM1715 2647l4-1 30 5 24 1 20-1 30-5 4 1-6 6-13 7-19 6-16 2-17-1-14-4-15-6-10-7zM1109 3043l11-10 13-7 16-4 17-2 16 2 13 4 13 7 11 10-3 1-30-6-20-2-24 2-30 6zM2388 3021l0 15-25 1-33 7-7-1 11-10 16-8 20-4zM501 3316l7 0 30 5 20 1 20-1 27-5 8 0-1 3-4 4-20 10-13 3-17 2-16-1-16-4-20-10zM1715 3316l8 0 30 5 20 1 20-1 26-5 8 0-1 3-4 4-20 10-13 3-16 2-17-1-16-4-20-10z"/>
<path fill="#ff7200" d="M1115 2367l8-7 15-7 12-3 16-1 12 1 12 3 15 7 8 7-1 2-26-4-20-2-21 1-26 5-4 0zM2388 2349l0 14-25 1-30 5-3 0-1-2 8-7 16-7 17-4zM507 2650l5-2 26 4 20 1 44-5 5 2-8 7-16 6-25 4-11 0-16-4-16-6zM1721 2650l5-2 27 4 20 1 43-5 5 2-8 7-16 6-24 4-12 0-16-4-16-6zM1115 3039l7-6 14-7 13-4 17-1 13 1 13 4 14 7 7 6-4 2-23-4-20-2-24 2-23 4zM2388 3021l0 14-22 1-33 5-4-2 13-10 14-5 17-3zM506 3319l6-1 26 4 20 1 44-5 6 1-8 7-15 7-13 3-14 1-16-1-13-3-15-7zM1720 3319l6-1 27 4 20 1 43-5 6 1-8 7-15 7-13 3-13 1-17-1-13-3-15-7z"/>
<path fill="#ff5500" d="M1121 2363l19-10 15-3 11 0 22 3 18 10 0 4-40-5-44 5zM2388 2350l0 12-22 1-30 4-1-4 5-3 14-7 16-3zM513 2653l2-2 43 3 40-3 3 2-12 7-9 3-22 3-24-3-9-3zM1727 2653l2-2 44 3 40-3 2 2-12 7-9 3-21 3-25-3-9-3zM1121 3036l17-10 13-3 15-1 11 1 13 3 17 10-1 2-37-4-20 1-27 3zM2388 3022l0 12-22 1-30 3-1-2 10-7 15-5 13-2zM513 3323l5-2 34 3 43-3 6 2-10 6-9 4-24 3-10 0-16-3-9-4zM1727 3323l6-2 33 3 43-3 6 2-10 6-9 4-23 3-11 0-16-3-9-4z"/>
<path fill="#ff3900" d="M1126 2363l3-3 15-7 22-2 18 2 15 7 3 3-36-2zM2340 2363l3-3 15-7 15-2 15 0 0 11zM519 2653l39 2 37-2-2 4-7 3-11 3-17 2-20-2-17-6zM1733 2653l40 2 36-2-2 4-7 3-11 3-16 2-21-2-17-6zM1128 3036l0-3 13-7 14-3 11-1 21 4 13 7 0 3-34-3zM2388 3023l0 11-22 0-24 2 0-3 13-7 16-3zM520 3326l2-4 36 3 35-2 1 3-15 7-21 2-23-2zM1734 3326l2-4 37 3 33-3 2 4-15 7-20 2-24-2z"/>
<path fill="#ff1c00" d="M1134 2360l14-7 18-1 14 1 14 7-5 1-50 0zM2348 2360l4-3 11-4 13-1 12 0 0 9-35 0zM526 2657l6-2 50 0 6 2-6 3-11 3-13 1-15-1-11-3zM1740 2657l6-2 50 0 6 2-6 3-11 3-12 1-16-1-11-3zM1133 3033l4-4 8-3 21-2 17 2 8 3 4 4zM2347 3033l4-4 9-3 16-2 12 0 0 9zM526 3326l62 0-4 3-10 4-16 1-18-1-10-4zM1740 3326l62 0-4 3-10 4-15 1-19-1-10-4z"/>
<path fill="#ff0000" d="M1143 2357l11-4 12 0 8 0 11 4-6 2-34 0zM2357 2357l13-4 18 0 0 6-25 0zM537 2660l2-3 36 0 2 3-19 3zM1751 2660l2-3 36 0 2 3-18 3zM1142 3029l9-3 15-1 11 1 9 3-10 2-27 0zM2356 3029l14-4 18 0 0 6-25 0zM536 3329l6-2 33 0 3 2-10 4-10 0-12 0zM1750 3329l6-2 33 0 3 2-10 4-9 0-13 0z"/>
<path fill="#fb0000" d="M1154 2357l12-1 8 1zM2368 2357l8-1 12 1zM1158 3029l8-1 4 1zM2372 3029l8-1 4 1zM547 3329l20 0-9 1zM1761 3329l20 0-8 1z"/>
</g>
<rect x="245.6" y="204.4" width="13.4" height="174.2" fill="url(#jet)" stroke="#401010" stroke-opacity=".55" stroke-width=".5"/>
<text class="cb" x="262.8" y="361.6">1</text>
<path d="M259 359.6h-1.3" stroke="#222" stroke-width=".4"/>
<text class="cb" x="262.8" y="341.743">2</text>
<path d="M259 339.743h-1.3" stroke="#222" stroke-width=".4"/>
<text class="cb" x="262.8" y="321.886">3</text>
<path d="M259 319.886h-1.3" stroke="#222" stroke-width=".4"/>
<text class="cb" x="262.8" y="302.029">4</text>
<path d="M259 300.029h-1.3" stroke="#222" stroke-width=".4"/>
<text class="cb" x="262.8" y="282.171">5</text>
<path d="M259 280.171h-1.3" stroke="#222" stroke-width=".4"/>
<text class="cb" x="262.8" y="262.314">6</text>
<path d="M259 260.314h-1.3" stroke="#222" stroke-width=".4"/>
<text class="cb" x="262.8" y="242.457">7</text>
<path d="M259 240.457h-1.3" stroke="#222" stroke-width=".4"/>
<text class="cb" x="262.8" y="222.6">8</text>
<path d="M259 220.6h-1.3" stroke="#222" stroke-width=".4"/>
<text class="tk" text-anchor="end" transform="translate(40.1 221.7) scale(1.115 1)">4000</text>
<text class="tk" text-anchor="end" transform="translate(40.1 255.25) scale(1.115 1)">2000</text>
<text class="tk" text-anchor="end" transform="translate(40.1 288.8) scale(1.115 1)">0</text>
<text class="tk" text-anchor="end" transform="translate(40.1 322.35) scale(1.115 1)"><tspan letter-spacing="0.6">-</tspan>2000</text>
<text class="tk" text-anchor="end" transform="translate(40.1 355.9) scale(1.115 1)"><tspan letter-spacing="0.6">-</tspan>4000</text>
<text class="tx" text-anchor="middle" transform="translate(46.5 365.7) scale(1 1.08)">0</text>
<text class="tx" text-anchor="middle" transform="translate(77.7 365.7) scale(1 1.08)">0.05</text>
<text class="tx" text-anchor="middle" transform="translate(106.8 365.7) scale(1 1.08)">0.1</text>
<text class="tx" text-anchor="middle" transform="translate(137.7 365.7) scale(1 1.08)">0.15</text>
<text class="tx" text-anchor="middle" transform="translate(167 365.7) scale(1 1.08)">0.2</text>
<text class="tx" text-anchor="middle" transform="translate(197.7 365.7) scale(1 1.08)">0.25</text>
<text class="tx" text-anchor="middle" transform="translate(227.2 365.7) scale(1 1.08)">0.3</text>
<text class="at" text-anchor="middle" x="144.9" y="378">Time/s</text>
<text class="ax" text-anchor="middle" transform="translate(13.8 283.8) rotate(-90)">Freqency/Hz</text>
<text class="cap" text-anchor="middle" x="135.4" y="398.6">(<tspan font-weight="bold">c</tspan>)</text>
</g>
<g>
<rect x="318.6" y="219" width="193" height="132.6" fill="#000090"/>
<g transform="scale(.1)">
<path fill="#0000b2" d="M3186 3234l42 15 45 32 12 7 13 3 13-1 14-6 14-10 19-19 23-31 23-38 27-49 27-55 53-125 101-259 47-113 47-100 20-37 20-33 19-27 24-26 22-19 20-10 10-4 17-2 53 3 50-3 17 2 13 4 17 9 16 13 14 13 17 20 34 50 34 64 39 86 38 90 124 317 37 84 33 68 20 37 24 38 16 23 20 23 15 13 12 7 17 3 15-3 12-7 13-11 30-36 33-52 37-71 30-65 33-79 108-276 40-96 41-90 39-73 20-30 21-27 21-21 20-15 20-9 17-3 16 0 32 3 0 77-10 5-9 6-13 13-13 17-33 54-34 66-26 60-34 80-128 327-30 70-27 56-37 70-22 37-17 23-16 20-19 19-20 17-17 10-23 8-24 3-46-1-47 1-17-1-13-3-23-10-24-17-24-23-24-30-26-40-23-40-27-53-28-60-50-120-114-293-30-70-30-65-34-62-26-40-14-16-11-10-11-7-11-2-10 1-10 5-12 10-15 16-26 40-30 54-27 56-33 77-128 326-54 127-31 63-29 53-27 44-26 33-22 22-23 18-24 11-20 5-23 1-73-1-17-2-20-8-10-7-17-18-6-2-4 3-6 19-2 0z"/>
<path fill="#0000cc" d="M3186 3346l0-107 45 17 40 28 12 7 11 4 14 0 19-7 21-17 23-26 23-33 20-33 24-43 46-99 47-112 111-280 35-80 26-57 32-60 31-46 16-20 16-17 13-11 17-11 16-7 24-4 43 2 40-2 23 4 20 8 20 14 21 20 22 27 20 30 23 40 46 96 47 110 121 306 37 84 33 69 37 65 20 29 17 22 14 15 16 14 16 8 14 2 16-4 12-7 16-13 16-17 33-46 20-34 23-44 34-69 40-93 108-273 43-104 43-93 37-66 21-30 19-24 19-18 16-13 17-8 20-6 17-1 28 2 0 69-12 5-12 10-28 33-30 47-33 65-30 65-27 63-135 340-33 77-27 57-36 66-36 53-19 24-16 16-18 15-16 10-24 10-23 4-83 0-27-4-23-9-27-18-25-24-24-30-23-34-26-46-24-47-27-56-49-117-119-300-30-69-30-64-36-67-30-43-24-24-10-6-13-3-10 1-11 5-13 10-16 18-30 44-33 61-30 63-34 77-114 290-54 127-26 57-28 53-26 43-23 33-25 30-24 22-26 16-24 8-30 4-60-1-20-2-13-4-10-5-10-8-17-16-6-2-4 2-6 18z"/>
<path fill="#0000e5" d="M3186 3341l0-99 45 18 47 31 16 6 14 1 18-7 22-17 26-29 24-33 23-38 20-37 50-105 47-111 111-280 30-70 30-63 31-56 33-50 29-34 16-12 13-9 20-8 20-3 77 0 23 4 20 8 20 14 20 20 21 26 20 30 21 37 46 93 47 110 122 304 36 84 37 75 40 69 17 25 20 25 14 14 16 14 13 7 17 3 15-4 13-6 16-14 19-19 20-27 20-30 37-66 33-69 40-92 112-280 43-103 41-86 35-64 17-26 21-27 18-18 16-13 20-11 17-5 17-2 28 0 0 65-11 4-13 10-28 31-33 52-33 63-30 65-34 78-135 337-29 67-27 57-37 66-33 50-16 20-19 20-17 14-17 11-23 10-27 4-70 0-30-4-23-10-27-18-24-24-24-30-24-36-23-40-23-43-26-57-47-110-122-305-33-77-30-62-37-66-30-43-15-17-12-10-12-6-11-3-10 2-10 4-13 10-17 17-30 42-37 66-30 62-33 76-118 297-54 126-27 57-26 50-26 43-24 33-22 27-23 21-27 17-23 8-17 3-66 0-20-2-24-8-13-9-17-16-6-2-4 2-6 16z"/>
<path fill="#0000ff" d="M3186 3244l18 9 20 6 49 32 15 7 10 2 16-2 16-7 18-13 20-21 23-30 27-42 26-48 30-61 54-121 105-264 39-93 43-93 38-67 20-30 22-26 19-19 20-13 17-7 17-4 76-1 17 2 20 7 20 13 17 14 19 21 19 27 36 60 30 59 38 84 121 302 43 102 47 99 40 71 36 52 18 20 15 13 16 10 15 5 13 0 14-5 16-10 15-13 15-17 17-22 33-51 37-69 33-71 34-77 108-269 40-97 40-86 37-67 19-30 18-23 19-20 19-16 16-9 20-7 17-2 25 1 0 60-9 3-14 10-15 14-17 21-33 51-34 63-26 57-34 77-138 343-34 77-29 60-38 66-32 47-18 20-17 16-17 13-17 10-26 9-24 2-60 0-30-5-23-11-23-16-25-25-24-30-22-33-24-40-24-47-26-56-50-117-119-296-33-76-30-62-37-66-33-46-16-17-12-10-12-6-10-2-10 2-14 6-12 10-14 14-17 21-16 25-34 59-30 61-36 83-125 310-53 123-28 57-29 53-27 43-26 34-19 20-17 14-20 13-20 8-16 4-24 2-43-1-23-2-14-4-13-7-30-24-3 0-4 2-6 15-2 0z"/>
<path fill="#001cff" d="M3186 3335l0-89 15 8 17 5 10 4 50 32 16 6 14 0 20-7 18-13 23-23 25-33 24-36 23-40 50-102 50-117 125-309 37-83 32-63 18-30 19-30 19-23 19-20 18-15 16-9 17-5 20-3 63 0 17 3 17 6 16 10 20 16 18 20 20 27 21 33 19 33 40 83 47 110 89 221 40 96 43 96 37 70 23 39 23 34 20 25 20 19 18 13 19 7 13 0 18-7 14-10 15-13 33-40 34-52 36-68 30-63 37-84 108-269 41-97 37-80 36-66 19-30 20-27 18-20 18-15 16-10 17-6 20-4 25 0 0 57-12 5-14 10-16 15-16 21-34 52-33 62-30 64-33 78-135 334-33 73-31 64-36 63-35 50-31 33-16 13-17 10-23 9-30 4-57-1-30-6-23-11-23-17-21-21-24-30-24-37-24-40-22-43-27-56-47-110-118-294-33-77-34-69-36-65-34-47-16-18-13-10-12-7-12-2-13 2-13 7-13 10-14 15-30 42-37 63-30 61-37 82-125 310-50 117-27 56-23 43-26 44-23 33-26 29-23 21-27 16-23 7-20 2-57 0-16-2-14-4-13-7-30-23-3-1-4 2-6 14z"/>
<path fill="#0039ff" d="M3186 3333l0-85 15 9 17 4 10 4 34 23 18 10 14 4 14 0 16-4 25-17 25-26 24-31 23-36 23-41 50-102 50-116 125-308 37-83 33-63 17-30 20-30 18-23 17-18 17-13 20-12 16-5 20-2 60 0 17 3 13 5 17 10 20 16 17 19 21 27 17 26 21 37 42 86 43 100 92 230 40 96 40 88 40 78 24 39 20 29 23 30 20 20 19 13 15 7 16 1 17-4 16-10 12-10 17-17 18-22 37-56 36-67 30-62 37-83 115-286 37-87 37-80 36-66 19-30 18-24 18-20 17-14 16-11 17-7 20-4 25 0 0 54-9 2-15 10-14 14-17 20-33 48-37 67-33 71-34 77-138 340-34 76-30 60-36 63-31 44-15 16-17 17-15 12-17 10-27 9-26 3-50 0-30-6-24-11-23-17-26-27-23-30-22-33-21-37-23-43-26-56-48-110-121-301-33-75-30-62-37-65-33-48-15-16-15-13-14-8-13-3-10 2-14 6-13 10-16 16-34 45-36 64-34 67-33 75-125 309-50 117-27 56-23 43-26 44-24 33-23 27-25 22-27 15-23 8-20 2-27 1-40-3-13-4-14-6-33-25-3 0-4 2-6 13z"/>
<path fill="#0055ff" d="M3186 3331l0-82 15 10 17 3 10 5 49 31 17 5 14 1 19-6 24-17 23-23 24-31 23-36 23-40 50-100 54-123 125-310 36-80 33-63 17-30 20-30 19-23 20-20 16-13 17-9 20-5 20-2 53 1 17 3 17 7 16 11 19 17 20 23 17 23 36 60 40 83 43 100 129 317 43 95 40 78 23 39 24 34 21 27 20 20 19 14 20 8 16 0 17-5 16-10 15-14 32-37 37-56 37-67 33-69 37-84 111-276 37-87 37-80 36-66 20-30 17-24 18-20 17-14 17-10 16-7 17-3 25-1 0 51-12 4-18 14-16 16-19 24-20 30-20 33-40 78-57 129-128 316-34 77-33 66-32 57-33 46-31 34-15 12-17 10-23 9-30 5-50-1-30-6-24-12-23-17-23-24-23-30-22-33-23-40-47-96-50-117-119-292-33-75-33-69-37-64-34-46-15-17-17-13-14-7-10-2-12 2-14 7-13 10-16 16-18 23-17 24-37 64-30 60-36 82-125 307-50 117-27 56-23 43-27 44-23 33-24 27-25 22-23 13-27 9-20 2-30 0-20-1-16-3-14-4-13-7-30-22-3 0-4 1-6 13z"/>
<path fill="#0072ff" d="M3186 3329l0-78 15 11 13 1 14 6 46 29 19 6 15 1 10-2 11-5 20-14 23-23 26-32 23-34 24-40 26-51 27-55 53-123 125-308 36-80 34-66 20-34 19-26 19-24 17-16 17-13 16-8 17-5 23-2 50 1 17 4 17 8 17 11 18 17 17 20 17 23 36 60 40 83 43 100 92 227 40 95 43 95 40 76 23 39 24 34 23 27 20 20 20 14 19 6 14 0 19-6 15-10 16-14 17-18 17-22 36-55 37-67 33-69 37-84 108-268 41-96 39-83 33-60 17-27 18-23 17-20 17-15 17-11 16-7 17-4 25-1 0 49-14 5-18 14-16 17-20 25-37 58-43 84-57 128-129 317-33 74-33 66-34 60-34 47-30 31-14 11-16 10-27 9-27 4-43-1-30-6-23-11-20-14-24-23-24-30-24-37-23-40-48-96-46-107-121-300-37-82-30-61-37-64-19-29-16-20-16-17-16-13-13-7-13-3-13 2-14 7-14 11-16 16-16 21-20 29-37 63-33 67-37 83-122 300-49 114-27 56-23 43-24 40-24 34-24 28-24 21-26 16-24 7-20 3-23 0-23-1-17-2-13-4-14-7-33-23-3-1-4 2-6 12z"/>
<path fill="#008cfe" d="M3186 3327l0-75 2 0 10 10 3 2 13 1 10 3 42 26 13 7 15 5 14 0 20-6 22-16 24-23 27-33 23-36 24-41 26-49 27-56 50-115 129-316 36-80 33-63 20-34 19-26 19-24 17-16 17-12 20-10 17-4 20-1 46 2 14 3 16 7 17 11 17 15 17 19 17 23 17 27 21 36 39 80 43 100 92 228 40 95 46 100 41 77 27 43 21 30 23 27 22 20 20 13 17 5 17-1 16-7 16-10 15-14 16-16 20-25 37-56 36-67 30-62 37-83 115-284 37-86 37-80 33-60 19-30 17-23 18-20 17-15 17-11 17-7 16-3 22-1 0 47-15 6-14 10-21 20-18 24-21 30-19 32-40 77-57 128-131 322-35 77-33 66-33 57-33 47-32 32-13 10-17 10-23 8-27 4-40-1-30-5-23-11-24-17-23-24-23-30-22-33-23-40-46-93-48-110-121-298-37-82-30-61-39-69-35-46-15-17-16-13-15-8-13-3-13 2-14 7-15 12-17 16-18 23-16 24-38 63-32 66-37 81-126 310-49 113-26 53-25 47-22 36-23 34-26 29-23 20-27 15-23 7-20 3-23 0-20-1-17-3-27-10-33-23-3-1-4 2-6 11z"/>
<path fill="#00a4fd" d="M3186 3325l0-72 3 1 9 10 16 2 10 4 52 31 15 5 17 1 20-6 24-17 24-23 25-31 24-36 26-44 27-51 26-55 54-123 125-306 36-80 35-67 20-33 19-27 17-20 17-16 17-12 17-8 20-5 20-1 27 0 16 2 17 5 17 8 16 12 16 15 32 40 37 64 38 76 41 97 92 226 41 97 46 100 40 77 24 39 23 33 23 27 21 20 19 14 17 7 17 2 20-6 17-10 16-13 16-17 19-23 36-54 39-70 34-69 37-84 115-283 37-87 36-76 32-60 34-50 18-20 17-16 17-11 17-7 16-4 22-1 0 45-15 6-16 11-17 17-19 23-21 30-20 33-41 77-29 63-31 70-134 330-33 74-30 59-33 57-31 43-32 33-16 13-14 8-23 9-27 4-40-1-30-6-23-11-23-17-21-22-24-30-20-30-23-40-48-96-46-107-121-296-37-84-33-66-37-63-18-27-18-23-16-17-15-13-17-9-13-3-13 2-14 6-17 14-16 16-19 24-18 26-37 63-34 67-35 80-125 307-50 113-27 57-23 43-25 40-21 30-26 29-23 20-24 14-26 8-40 2-20-1-17-3-27-11-33-22-7 1-6 10z"/>
<path fill="#00bbfc" d="M3186 3323l0-68 2 0 10 11 16 2 10 3 50 30 17 6 17 1 21-7 21-13 24-24 28-33 25-37 25-43 27-50 27-56 53-120 128-314 36-80 33-63 20-33 17-23 19-24 18-16 18-13 16-7 17-4 23-1 27 0 17 3 16 6 14 7 16 12 14 13 17 20 17 24 35 60 39 79 42 98 88 219 41 97 46 100 40 76 25 40 23 33 22 27 23 23 22 15 20 8 16 0 19-6 16-10 16-13 16-17 20-23 38-57 39-70 34-70 37-83 112-276 38-91 38-79 33-60 17-27 17-23 17-19 17-14 13-9 17-8 16-4 22-1 0 43-15 6-18 12-17 17-19 23-19 27-21 33-44 83-59 134-135 330-33 73-31 60-33 56-29 40-29 31-13 11-17 10-26 10-27 4-37-1-30-6-20-10-23-17-22-22-24-30-22-33-21-37-46-93-46-106-121-297-37-83-33-67-39-66-18-27-18-23-16-17-17-14-17-9-13-3-13 2-15 7-17 14-17 16-16 20-19 27-39 66-35 70-36 80-125 307-50 113-24 50-25 47-24 40-21 30-23 26-24 21-24 14-26 9-17 2-23 0-20-1-17-3-27-11-33-22-7 1-6 9z"/>
<path fill="#00d3fb" d="M3186 3322l0-66 2 0 10 12 16 1 10 4 50 29 17 6 17 1 10-2 13-6 20-13 25-24 27-33 25-37 24-39 27-50 29-60 55-124 128-313 36-80 31-60 18-30 19-26 16-20 20-19 17-12 16-7 17-5 23-1 27 0 17 3 16 6 20 12 18 16 21 23 18 27 19 30 31 60 37 80 128 313 49 113 48 97 24 43 23 37 22 30 19 23 20 20 20 16 17 8 16 4 14-1 17-7 16-10 19-17 35-40 38-56 39-70 34-70 36-83 116-283 35-84 36-76 31-57 17-27 17-23 17-19 16-14 14-10 17-8 16-5 22-1 0 42-15 5-17 11-19 19-20 23-19 27-20 33-43 80-30 63-33 77-135 330-33 73-31 60-31 53-32 44-29 30-28 18-23 9-27 4-37-1-26-5-24-11-23-18-22-23-24-30-19-30-23-40-46-93-46-107-118-290-37-83-37-73-39-67-19-26-19-24-16-16-17-14-15-7-13-3-17 3-13 7-17 14-16 16-19 24-19 26-37 63-34 67-39 87-126 307-47 109-28 57-23 43-22 37-22 30-23 26-25 22-23 13-27 8-40 2-33-4-23-9-37-24-7 1-6 9z"/>
<path fill="#00ebfa" d="M3186 3320l0-63 2 1 10 11 13 1 10 3 56 31 17 5 14 0 20-5 25-16 24-24 28-33 25-37 26-43 27-50 29-60 57-130 125-306 35-77 32-60 18-30 18-26 17-20 17-17 17-12 16-8 17-5 23-1 27 0 17 3 16 7 17 10 19 16 18 20 19 27 19 30 32 60 36 80 125 306 54 123 50 100 22 40 24 37 21 30 23 26 20 20 18 14 17 8 16 3 16-1 17-7 15-10 20-17 34-40 39-56 40-73 34-70 40-90 145-354 36-76 32-60 17-27 17-23 18-20 15-13 15-11 17-7 17-4 18-1 0 40-15 5-17 11-21 20-19 23-22 30-18 30-45 83-30 64-33 76-135 330-33 74-31 59-32 54-29 40-30 30-15 11-13 8-27 9-27 2-33-1-27-7-20-10-23-18-23-24-20-27-20-30-21-37-46-93-43-100-123-300-39-86-33-67-41-70-19-26-19-24-17-16-16-14-17-8-13-2-13 1-17 8-18 15-17 16-19 24-19 26-39 67-35 70-38 83-125 306-46 107-26 54-23 43-22 36-24 34-23 26-23 20-26 15-24 7-20 2-20 1-20-2-13-3-27-11-33-22-7 1-6 8z"/>
<path fill="#00e6df" d="M3186 3318l0-60 2 0 10 13 13 0 10 3 54 30 19 6 17 0 10-3 13-6 24-17 24-23 27-33 27-40 26-43 27-50 30-64 57-130 122-298 33-73 32-62 18-30 18-26 17-20 17-17 18-13 17-7 16-4 24-2 23 1 17 3 16 7 19 12 18 16 17 20 19 27 18 30 33 62 33 73 121 298 54 123 49 100 24 44 23 36 21 30 22 27 19 20 21 16 17 10 19 6 17-1 16-6 17-10 19-15 16-17 20-23 41-60 39-70 36-73 37-84 115-283 37-86 33-71 33-59 32-47 15-18 17-15 16-10 14-7 17-4 18-2 0 39-15 5-18 12-21 20-20 23-19 27-23 37-43 79-30 64-34 76-139 339-33 73-28 55-30 50-29 40-30 30-26 17-24 9-26 3-34-1-26-6-24-12-20-15-21-22-23-30-20-30-21-37-45-91-43-100-119-292-40-90-35-70-42-69-18-27-19-23-19-20-17-14-18-9-13-2-13 2-17 7-16 12-20 20-19 24-19 26-40 67-37 73-41 90-125 306-43 100-26 54-23 43-23 37-21 30-23 26-24 21-23 13-27 8-37 2-16-2-17-3-23-10-37-23-7 1-6 7z"/>
<path fill="#00e3c2" d="M3186 3317l0-57 2 0 6 10 4 2 13 0 10 3 53 30 20 6 17 0 20-7 25-16 28-27 27-33 25-37 30-50 27-50 29-60 57-130 125-307 34-73 29-56 18-30 16-23 17-20 18-17 15-11 17-8 16-4 24-2 23 1 17 4 16 6 17 11 18 16 17 20 19 27 18 30 31 60 34 74 115 282 56 130 54 110 26 47 24 36 24 34 19 23 20 20 22 17 16 8 17 5 17-1 16-6 17-10 17-13 20-20 19-23 39-57 44-76 39-80 40-90 115-284 34-78 33-71 28-50 32-47 14-17 16-14 13-10 17-8 17-4 18-2 0 37-15 5-19 13-18 17-21 23-19 27-24 36-44 80-34 70-36 83-135 331-30 66-30 60-30 50-29 40-28 28-27 18-26 10-27 3-30-1-26-7-22-11-22-17-22-23-20-27-20-30-19-33-42-86-43-100-119-291-43-96-37-74-23-39-21-34-19-26-19-24-21-20-15-11-17-9-13-2-15 2-15 7-17 13-21 20-19 24-21 30-40 66-37 73-40 87-40 97-85 210-47 107-23 49-23 43-21 34-21 30-23 26-25 21-24 13-26 7-37 2-30-5-23-10-37-23-7 1-6 7z"/>
<path fill="#01e3a2" d="M3186 3315l0-54 2 0 6 10 4 2 13 0 10 3 53 30 20 5 17 0 21-7 25-16 28-27 28-33 29-44 30-49 30-57 31-63 60-137 118-293 30-66 27-51 17-30 19-26 16-20 18-17 16-12 17-7 17-4 20-1 23 1 17 4 16 7 17 11 19 18 16 20 17 23 18 30 30 59 30 66 115 285 54 123 53 110 26 47 27 43 24 33 22 27 23 23 21 17 18 9 17 4 17 0 18-7 16-10 21-16 19-20 19-24 42-59 43-77 39-80 45-100 141-346 30-65 30-55 32-47 14-17 15-13 14-10 15-8 17-4 18-2 0 35-16 6-20 13-21 20-20 23-20 27-23 37-46 83-34 70-36 83-139 340-30 66-26 50-28 47-27 37-29 29-27 17-23 9-27 3-30-1-23-6-23-11-21-17-23-23-20-27-37-60-39-80-40-93-82-203-40-97-44-97-39-76-44-73-19-27-22-27-20-20-17-12-15-8-15-3-17 3-14 7-18 13-20 20-20 24-19 26-23 37-21 36-43 84-43 96-41 97-81 204-40 92-23 48-23 42-20 34-21 30-24 26-23 20-24 14-25 7-30 1-27-3-17-4-13-6-40-25-7 1z"/>
<path fill="#05e682" d="M3186 3314l0-52 2 0 5 9 5 3 13 1 10 2 42 24 14 7 17 4 17 0 23-8 25-16 28-27 30-37 30-43 29-50 36-66 37-77 64-143 75-194 30-74 26-59 28-53 16-27 18-26 16-20 16-15 16-12 17-8 17-4 20-1 23 1 17 4 16 7 16 11 18 17 16 20 16 23 18 29 26 51 30 67 34 83 61 160 61 140 33 70 32 63 28 50 29 46 24 34 24 30 23 23 22 17 19 10 17 4 17-1 20-7 16-10 20-16 20-20 22-27 43-63 47-83 47-97 50-110 30-73 65-169 33-80 27-57 26-49 31-45 14-17 15-13 14-10 16-8 17-4 15-1 0 34-18 6-19 13-22 20-20 23-24 34-24 36-49 90-37 77-44 96-30 74-81 210-37 83-30 59-26 44-27 37-26 26-28 19-23 9-27 3-30-1-23-6-21-10-21-17-23-23-20-27-35-58-40-81-40-95-65-169-30-73-53-117-50-100-24-43-23-37-24-33-19-23-20-20-19-15-16-9-17-3-17 2-15 8-18 13-21 20-19 24-22 30-24 36-23 40-49 97-53 116-31 74-75 194-40 93-23 49-20 37-20 33-19 27-24 26-23 20-24 13-23 7-30 2-27-3-13-4-17-7-40-24-7 0z"/>
<path fill="#27e863" d="M3700 2641l1-7 13-38 34-79 30-59 27-43 26-30 13-12 13-8 24-10 30-3 30 4 23 9 25 20 26 30 29 47 27 52 30 70 20 57 0 4-7-9-45-81-30-50-23-33-20-27-24-27-24-20-20-11-17-3-10 1-10 3-19 10-24 20-24 27-20 27-25 36-30 50-48 85zM5116 2352l0 33-18 6-21 14-21 20-26 30-24 33-23 37-69 119 0-8 10-29 34-81 30-60 27-44 23-30 14-14 12-9 24-12 13-3zM3541 3021l1 4-1 6-23 62-27 61-23 47-23 40-20 30-22 27-22 20-17 12-20 9-20 4-26 2-24-3-20-5-16-8-37-22-7 0-8 5 0-48 2 0 7 10 16 2 10 3 47 26 13 5 13 3 14 0 16-4 17-8 19-13 19-17 21-23 40-54 40-63zM4277 3021l1-1 6 10 49 88 30 50 26 40 28 36 28 30 26 22 23 13 14 3 10 1 10-1 13-4 25-14 27-23 27-30 23-30 26-40 30-50 55-99 2 3-5 18-13 35-37 85-33 63-32 48-29 34-16 13-13 9-14 6-16 6-34 3-16-1-17-4-13-4-15-8-14-10-15-14-29-33-31-48-33-65-37-85-13-36z"/>
<path fill="#78f039" d="M3733 2568l1-7 10-27 27-58 23-41 24-33 22-24 21-14 23-9 27-2 27 3 23 9 20 14 21 23 26 36 23 42 27 58 6 18 4 15-7-6-62-93-36-44-21-20-18-13-16-9-17-3-17 3-16 8-16 11-22 20-21 23-22 30-63 93zM5116 2353l0 31-15 5-17 9-20 17-19 20-39 50-48 73-11 13 1-8 6-19 24-54 26-48 22-34 21-23 21-17 23-11zM4721 3101l-17 46-26 56-27 47-28 38-26 26-24 17-25 10-30 3-30-3-27-10-24-17-26-26-27-37-26-45-30-63-10-25-5-17 1-3 7 9 38 61 30 43 23 30 21 23 25 23 20 14 20 10 20 3 20-4 19-9 23-17 21-20 18-20 23-30 30-43 42-66 7-7zM3507 3101l-6 20-20 47-20 41-20 34-19 28-18 23-17 17-19 15-17 9-20 6-20 3-23 0-20-4-17-6-50-28-7 0-8 4 0-45 2 0 6 10 17 2 10 3 44 24 23 9 16 1 14-2 13-5 17-9 16-12 16-15 33-37 37-50 54-84z"/>
<path fill="#aef525" d="M3756 2522l12-33 20-39 19-32 21-26 20-18 20-12 20-6 23-2 23 2 20 7 20 12 21 20 22 30 21 35 20 42 6 24-3-2-56-72-34-37-17-14-16-11-14-6-13-2-13 2-14 5-15 9-17 14-20 20-20 23-54 70-2 0zM5116 2354l0 29-12 3-16 9-17 12-15 15-30 33-45 60-10 11-1-4 4-15 20-44 21-35 22-30 19-20 19-13 19-8zM3481 3148l0 7-17 41-16 32-21 33-17 23-18 20-18 16-16 11-17 7-17 4-20 2-20-2-16-3-17-6-50-28-7 0-8 3 0-41 2 0 6 10 17 1 10 3 43 23 20 8 14 3 13-1 13-3 15-7 28-20 31-30 28-33 45-62zM4338 3151l3-1 61 81 23 27 20 20 20 16 19 12 17 7 17 2 16-3 17-7 18-11 20-16 20-20 23-27 59-79 3-3 2 2-2 7-10 25-23 46-24 39-24 30-22 20-23 15-24 8-26 2-27-2-23-8-25-15-22-20-24-30-23-37-23-45-10-24z"/>
<path fill="#dbf712" d="M3774 2492l7-23 20-37 18-27 18-20 16-13 18-11 20-5 20-2 20 2 20 6 16 10 19 16 17 20 18 27 20 39 5 18-2 1-3-3-48-55-31-30-28-18-13-4-10-1-10 0-13 5-14 7-16 11-31 30-46 53-7 5zM5116 2355l0 28-8 1-14 6-26 18-30 30-44 51-6 4 3-15 17-34 18-29 19-23 17-17 16-10 16-7zM3461 3184l0 7-17 37-16 29-17 24-18 20-14 13-15 12-16 8-14 5-16 3-20 1-18-2-16-4-15-6-45-26-6-1-12 2 0-37 2 0 3 7 3 2 17 1 7 2 46 25 20 7 14 2 10 0 23-6 25-15 28-23 28-30 42-51zM4359 3188l2-2 56 65 19 20 19 17 16 11 17 10 16 5 14 1 13-1 17-6 16-9 15-11 19-17 19-20 54-64 3-2 1 3-7 21-21 39-22 33-21 23-19 17-21 12-23 7-23 3-24-2-21-7-19-10-21-16-21-24-21-30-23-42z"/>
<path fill="#fff500" d="M3789 2465l5-15 16-28 17-24 16-16 17-14 14-7 17-4 20-2 20 2 16 5 14 7 16 13 19 20 15 21 17 31 3 14-3 0-42-43-28-24-24-14-13-5-10-1-20 3-23 13-27 21-50 51-1-1zM5116 2355l0 27-18 5-23 15-27 23-37 39-8 4 2-10 13-26 18-27 17-20 15-12 13-9 17-6zM3444 3213l0 5-13 28-13 22-18 23-27 27-15 10-17 8-13 4-17 2-17 0-16-2-27-9-47-26-6-2-12 1 0-32 2 0 3 6 3 1 14 1 10 2 43 23 20 8 23 3 20-3 24-12 23-17 25-23 42-44zM4376 3214l2-1 53 55 31 26 16 10 13 7 13 4 14 1 13-2 13-4 28-16 32-26 47-51 7-4 0 1-7 20-17 30-20 27-19 20-17 13-19 10-21 6-20 2-24-2-19-6-19-10-17-13-19-20-20-27-19-33z"/>
<path fill="#ffdb00" d="M3802 2448l2-10 14-24 14-19 16-17 14-10 16-7 16-4 17-1 17 1 16 5 14 6 14 10 16 17 13 17 13 23 4 13 0 1-7-3-38-34-22-17-20-11-20-4-20 4-20 9-24 19-43 37zM5116 2356l0 25-15 4-20 11-24 19-33 30-6 4-2-1 2-10 13-23 12-17 16-16 12-10 13-8 17-6zM4390 3238l1-4 7 5 41 39 31 23 24 12 24 4 23-5 23-11 31-23 46-43 3 3-9 20-13 20-16 20-17 16-15 11-18 9-18 5-20 2-20-1-20-6-17-8-16-12-17-16-14-17-16-26zM3430 3238l-6 13-10 18-13 19-15 16-25 21-13 7-17 6-30 3-29-3-25-10-43-24-6-2-7 1-5-2 0-25 2 0 3 4 17 1 10 2 43 23 20 8 20 3 17-2 20-7 20-12 27-22 43-39z"/>
<path fill="#ffc100" d="M3813 2432l5-14 11-16 11-14 15-13 13-8 13-6 13-3 17-1 17 1 13 3 13 7 11 7 15 13 11 14 11 16 5 14-3 2-40-31-20-13-16-8-17-3-17 3-16 7-24 15-33 26-7 4zM5116 2357l0 23-15 4-17 9-17 12-33 26-6 3 0-6 10-20 13-16 14-14 23-14 13-5zM3417 3254l-6 14-10 16-24 27-23 17-15 6-15 5-30 1-26-5-19-7-45-25-13-2-3-5-2 0 0-12 5-2 17 0 13 4 37 20 20 8 20 4 16-1 17-5 20-10 24-18 36-29 3-2zM4403 3254l1-1 4 1 41 34 25 17 24 10 20 2 20-3 20-8 27-18 43-35 3 1-7 15-12 19-14 16-15 14-15 10-15 6-15 5-20 1-20-1-17-4-15-7-15-10-15-14-14-16-11-17z"/>
<path fill="#ffa700" d="M3823 2418l5-10 9-13 12-13 13-10 11-7 11-4 14-3 13-1 13 1 14 3 20 11 22 20 10 13 7 13-3 3-36-25-17-9-17-6-13-2-13 1-17 6-20 11-30 22-7 3zM5116 2358l0 22-15 3-13 7-44 29-6 2 0-6 10-17 12-13 11-10 10-7 13-6zM3405 3268l-4 10-6 10-11 13-13 13-14 10-12 7-14 5-13 3-27 0-24-5-22-10-37-21-17-4-2-5 0-6 2-4 10-1 10 1 63 29 20 5 17 0 17-4 16-7 24-15 33-24zM4416 3271l0-3 5 1 37 27 23 13 20 7 17 2 16-2 20-7 24-15 33-24 8-2-4 10-11 16-12 14-16 13-10 7-16 6-16 4-16 2-17-1-17-4-16-7-10-7-13-10-12-13-12-17z"/>
<path fill="#ff8d00" d="M3833 2408l4-10 8-10 19-16 21-10 26-4 24 4 21 10 19 16 10 14 2 6-3 3-33-20-17-8-10-3-13-2-13 1-14 4-20 11-23 14-7 3zM5116 2358l0 21-12 2-13 6-37 22-6 2 0-6 6-10 19-20 21-12zM3394 3281l-3 7-9 13-22 20-11 7-15 6-23 5-23-1-24-6-17-8-36-20-19-6-2-4 1-6 3-3 15-1 10 4 52 25 20 5 17 1 13-2 13-5 20-10 37-22zM4426 3281l2-2 3 1 37 23 16 9 17 5 17 2 16-2 14-4 20-10 36-23 4 1-5 10-10 13-11 10-13 10-25 11-26 4-17-1-13-3-23-11-13-10-11-10-10-13z"/>
<path fill="#ff7200" d="M3842 2398l12-16 18-14 16-6 23-3 21 3 22 10 18 16 6 10 0 4-4 0-40-20-23-5-13 1-14 4-40 20-2 0zM5116 2359l0 19-18 5-37 18-5 1 1-7 5-7 18-16 18-9zM3192 3291l1-3 5-2 13 0 57 27 20 6 13 1 13-1 14-3 16-7 37-19 3 1-3 7-12 13-12 10-10 7-23 8-23 2-20-2-17-5-50-27-20-7-2-3zM4436 3291l2-1 3 0 30 17 20 8 13 4 14 1 13-2 13-3 20-9 30-16 4 1-3 7-8 10-21 16-22 10-26 4-14-1-14-3-22-10-21-16-8-10z"/>
<path fill="#ff5500" d="M3850 2392l10-14 14-10 18-6 19-2 17 2 18 6 14 10 10 14-2 3-37-15-20-4-23 4-37 15zM5116 2360l0 17-15 3-30 13-7 1 0-2 4-7 15-13 15-8zM3194 3291l4-4 12 1 54 25 20 6 14 2 23-2 17-6 33-15 2 3-10 13-19 14-20 7-26 2-21-3-18-6-41-24-24-9zM4447 3301l1-3 43 18 13 4 14 1 13-2 13-3 40-17 4 2-11 13-19 14-18 6-22 3-24-2-18-7-19-14z"/>
<path fill="#ff3900" d="M3858 2385l9-10 11-7 16-6 17-1 13 1 19 6 10 7 9 10-1 3-3 0-30-10-17-3-17 2-33 11zM5116 2361l0 15-15 3-27 9-1-3 2-3 11-10 13-7zM3196 3291l5-3 7 1 53 24 20 6 13 2 14 1 13-2 40-14 3 2-12 13-19 10-19 5-20 0-13-2-19-6-41-25-23-9zM4456 3308l2-2 36 12 24 4 20-3 36-13 4 2-8 10-15 10-19 6-18 2-20-2-19-6-15-10z"/>
<path fill="#ff1c00" d="M3866 2382l5-7 10-7 13-5 17-2 17 3 11 4 10 7 5 7-6 0-20-6-17-2-17 2-23 6zM5116 2362l0 13-28 7-8 0 5-7 10-7 9-4zM3241 3311l7 0 30 9 20 3 20-2 33-8 3 1-11 10-13 7-13 3-16 2-14-2-21-6-12-7zM4466 3314l2-1 30 7 20 3 20-3 26-7 4 0 0 1-11 10-13 7-13 3-13 1-14-1-14-3-13-7z"/>
<path fill="#ff0000" d="M3875 2375l9-7 9-3 18-2 16 2 9 3 9 7-1 2-3 1-20-4-13-1-30 5zM5116 2364l0 10-25 4-2-3 9-7zM3257 3318l41 6 20-1 23-5 2 3-9 7-9 3-14 3-13 0-17-2-11-4-11-7zM4477 3321l1-3 26 5 17 1 37-6-1 3-9 7-14 4-16 2-23-3-9-3z"/>
<path fill="#fb0000" d="M3885 2372l4-4 11-3 11-1 10 1 10 3 4 4-4 1-20-1-23 1zM5116 2365l0 7-15 1-2-1 4-4zM3271 3324l7 0 23 2 27-3 5 1-14 7-18 2-16-2zM4487 3324l4-1 23 2 27-2 6 1-14 7-15 2-17-2z"/>
<path fill="#e60000" d="M3898 2368l13-1 11 1-11 1zM5112 2368l4 0 0 1zM3288 3328l29 0-16 3zM4502 3328l30 0-14 3z"/>
</g>
<rect x="521.6" y="204.6" width="13" height="172.8" fill="url(#jet)" stroke="#401010" stroke-opacity=".55" stroke-width=".5"/>
<text class="cb" x="538.2" y="360">1</text>
<path d="M534.6 358h-1.3" stroke="#222" stroke-width=".4"/>
<text class="cb" x="538.2" y="340.371">2</text>
<path d="M534.6 338.371h-1.3" stroke="#222" stroke-width=".4"/>
<text class="cb" x="538.2" y="320.743">3</text>
<path d="M534.6 318.743h-1.3" stroke="#222" stroke-width=".4"/>
<text class="cb" x="538.2" y="301.114">4</text>
<path d="M534.6 299.114h-1.3" stroke="#222" stroke-width=".4"/>
<text class="cb" x="538.2" y="281.486">5</text>
<path d="M534.6 279.486h-1.3" stroke="#222" stroke-width=".4"/>
<text class="cb" x="538.2" y="261.857">6</text>
<path d="M534.6 259.857h-1.3" stroke="#222" stroke-width=".4"/>
<text class="cb" x="538.2" y="242.229">7</text>
<path d="M534.6 240.229h-1.3" stroke="#222" stroke-width=".4"/>
<text class="cb" x="538.2" y="222.6">8</text>
<path d="M534.6 220.6h-1.3" stroke="#222" stroke-width=".4"/>
<text class="tk" text-anchor="end" transform="translate(315.7 222.7) scale(1.115 1)">4000</text>
<text class="tk" text-anchor="end" transform="translate(315.7 255.85) scale(1.115 1)">2000</text>
<text class="tk" text-anchor="end" transform="translate(315.7 289) scale(1.115 1)">0</text>
<text class="tk" text-anchor="end" transform="translate(315.7 322.15) scale(1.115 1)"><tspan letter-spacing="0.6">-</tspan>2000</text>
<text class="tk" text-anchor="end" transform="translate(315.7 355.3) scale(1.115 1)"><tspan letter-spacing="0.6">-</tspan>4000</text>
<text class="tx" text-anchor="middle" transform="translate(321.1 364) scale(1 1.08)">0</text>
<text class="tx" text-anchor="middle" transform="translate(352.3 364) scale(1 1.08)">0.05</text>
<text class="tx" text-anchor="middle" transform="translate(381.4 364) scale(1 1.08)">0.1</text>
<text class="tx" text-anchor="middle" transform="translate(412.3 364) scale(1 1.08)">0.15</text>
<text class="tx" text-anchor="middle" transform="translate(441.6 364) scale(1 1.08)">0.2</text>
<text class="tx" text-anchor="middle" transform="translate(472.3 364) scale(1 1.08)">0.25</text>
<text class="tx" text-anchor="middle" transform="translate(501.8 364) scale(1 1.08)">0.3</text>
<text class="at" text-anchor="middle" x="419.1" y="377.2">Time/s</text>
<text class="ax" text-anchor="middle" transform="translate(289.4 283.8) rotate(-90)">Freqency/Hz</text>
<text class="cap" text-anchor="middle" x="411" y="398.6">(<tspan font-weight="bold">d</tspan>)</text>
</g>
</svg></body></html>
